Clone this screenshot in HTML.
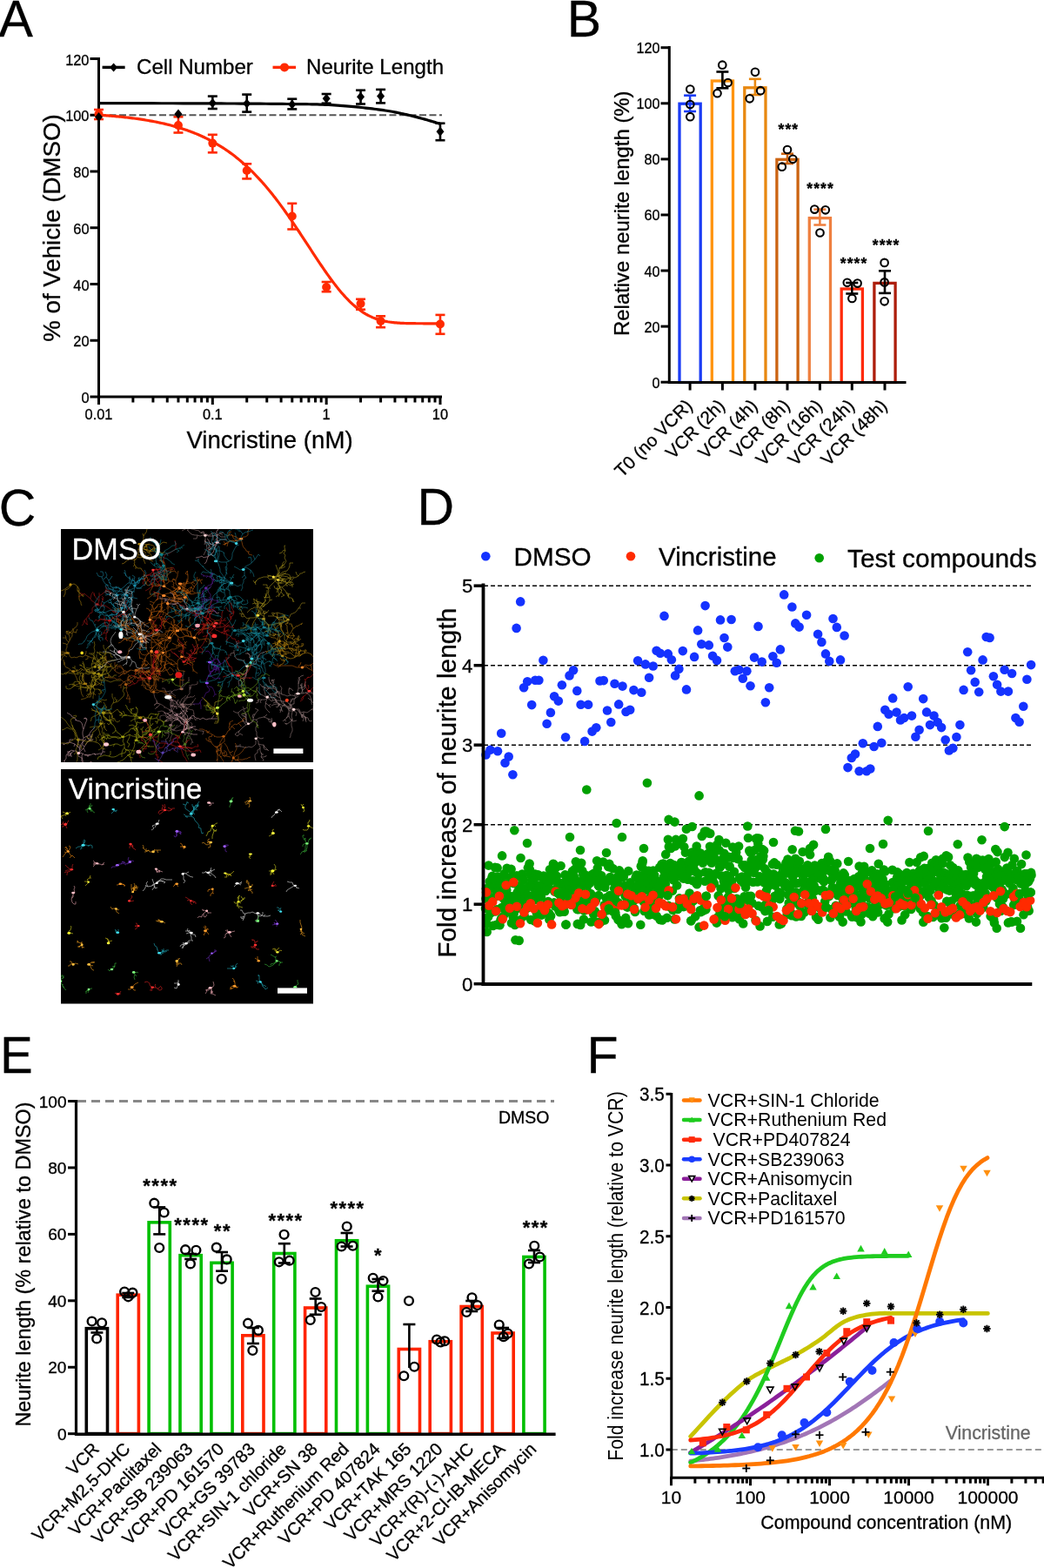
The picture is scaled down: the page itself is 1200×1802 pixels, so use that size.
<!DOCTYPE html>
<html><head><meta charset="utf-8"><title>Figure</title>
<style>html,body{margin:0;padding:0;background:#fff;} svg{display:block;}</style></head>
<body><svg width="1200" height="1802" viewBox="0 0 1200 1802" font-family="'Liberation Sans', sans-serif">
<rect width="1200" height="1802" fill="#fff"/>
<g id="A">
<text x="-1.50" y="41.70" font-size="59" text-anchor="start" fill="#000" stroke="#000" stroke-width="0.3" >A</text>
<line x1="114.00" y1="132.25" x2="508.00" y2="132.25" stroke="#555" stroke-width="2" stroke-dasharray="8,3.5"/>
<line x1="113.50" y1="66.00" x2="113.50" y2="457.50" stroke="#000" stroke-width="3" />
<line x1="112.00" y1="456.00" x2="508.00" y2="456.00" stroke="#000" stroke-width="3" />
<line x1="103.50" y1="456.00" x2="113.50" y2="456.00" stroke="#000" stroke-width="3" />
<text x="102.50" y="463.20" font-size="16.4" text-anchor="end" fill="#000" stroke="#000" stroke-width="0.3" >0</text>
<line x1="103.50" y1="391.25" x2="113.50" y2="391.25" stroke="#000" stroke-width="3" />
<text x="102.50" y="398.45" font-size="16.4" text-anchor="end" fill="#000" stroke="#000" stroke-width="0.3" >20</text>
<line x1="103.50" y1="326.50" x2="113.50" y2="326.50" stroke="#000" stroke-width="3" />
<text x="102.50" y="333.70" font-size="16.4" text-anchor="end" fill="#000" stroke="#000" stroke-width="0.3" >40</text>
<line x1="103.50" y1="261.75" x2="113.50" y2="261.75" stroke="#000" stroke-width="3" />
<text x="102.50" y="268.95" font-size="16.4" text-anchor="end" fill="#000" stroke="#000" stroke-width="0.3" >60</text>
<line x1="103.50" y1="197.00" x2="113.50" y2="197.00" stroke="#000" stroke-width="3" />
<text x="102.50" y="204.20" font-size="16.4" text-anchor="end" fill="#000" stroke="#000" stroke-width="0.3" >80</text>
<line x1="103.50" y1="132.25" x2="113.50" y2="132.25" stroke="#000" stroke-width="3" />
<text x="102.50" y="139.45" font-size="16.4" text-anchor="end" fill="#000" stroke="#000" stroke-width="0.3" >100</text>
<line x1="103.50" y1="67.50" x2="113.50" y2="67.50" stroke="#000" stroke-width="3" />
<text x="102.50" y="74.70" font-size="16.4" text-anchor="end" fill="#000" stroke="#000" stroke-width="0.3" >120</text>
<line x1="152.88" y1="456.00" x2="152.88" y2="462.50" stroke="#000" stroke-width="3" />
<line x1="175.92" y1="456.00" x2="175.92" y2="462.50" stroke="#000" stroke-width="3" />
<line x1="192.27" y1="456.00" x2="192.27" y2="462.50" stroke="#000" stroke-width="3" />
<line x1="204.95" y1="456.00" x2="204.95" y2="462.50" stroke="#000" stroke-width="3" />
<line x1="215.31" y1="456.00" x2="215.31" y2="462.50" stroke="#000" stroke-width="3" />
<line x1="224.06" y1="456.00" x2="224.06" y2="462.50" stroke="#000" stroke-width="3" />
<line x1="231.65" y1="456.00" x2="231.65" y2="462.50" stroke="#000" stroke-width="3" />
<line x1="238.34" y1="456.00" x2="238.34" y2="462.50" stroke="#000" stroke-width="3" />
<line x1="283.71" y1="456.00" x2="283.71" y2="462.50" stroke="#000" stroke-width="3" />
<line x1="306.75" y1="456.00" x2="306.75" y2="462.50" stroke="#000" stroke-width="3" />
<line x1="323.10" y1="456.00" x2="323.10" y2="462.50" stroke="#000" stroke-width="3" />
<line x1="335.78" y1="456.00" x2="335.78" y2="462.50" stroke="#000" stroke-width="3" />
<line x1="346.14" y1="456.00" x2="346.14" y2="462.50" stroke="#000" stroke-width="3" />
<line x1="354.89" y1="456.00" x2="354.89" y2="462.50" stroke="#000" stroke-width="3" />
<line x1="362.48" y1="456.00" x2="362.48" y2="462.50" stroke="#000" stroke-width="3" />
<line x1="369.17" y1="456.00" x2="369.17" y2="462.50" stroke="#000" stroke-width="3" />
<line x1="414.54" y1="456.00" x2="414.54" y2="462.50" stroke="#000" stroke-width="3" />
<line x1="437.58" y1="456.00" x2="437.58" y2="462.50" stroke="#000" stroke-width="3" />
<line x1="453.93" y1="456.00" x2="453.93" y2="462.50" stroke="#000" stroke-width="3" />
<line x1="466.61" y1="456.00" x2="466.61" y2="462.50" stroke="#000" stroke-width="3" />
<line x1="476.97" y1="456.00" x2="476.97" y2="462.50" stroke="#000" stroke-width="3" />
<line x1="485.72" y1="456.00" x2="485.72" y2="462.50" stroke="#000" stroke-width="3" />
<line x1="493.31" y1="456.00" x2="493.31" y2="462.50" stroke="#000" stroke-width="3" />
<line x1="500.00" y1="456.00" x2="500.00" y2="462.50" stroke="#000" stroke-width="3" />
<line x1="113.50" y1="456.00" x2="113.50" y2="465.00" stroke="#000" stroke-width="3" />
<text x="113.50" y="482.00" font-size="16.4" text-anchor="middle" fill="#000" stroke="#000" stroke-width="0.3" >0.01</text>
<line x1="244.33" y1="456.00" x2="244.33" y2="465.00" stroke="#000" stroke-width="3" />
<text x="244.33" y="482.00" font-size="16.4" text-anchor="middle" fill="#000" stroke="#000" stroke-width="0.3" >0.1</text>
<line x1="375.16" y1="456.00" x2="375.16" y2="465.00" stroke="#000" stroke-width="3" />
<text x="375.16" y="482.00" font-size="16.4" text-anchor="middle" fill="#000" stroke="#000" stroke-width="0.3" >1</text>
<line x1="505.99" y1="456.00" x2="505.99" y2="465.00" stroke="#000" stroke-width="3" />
<text x="505.99" y="482.00" font-size="16.4" text-anchor="middle" fill="#000" stroke="#000" stroke-width="0.3" >10</text>
<text x="310.00" y="515.00" font-size="27.6" text-anchor="middle" fill="#000" stroke="#000" stroke-width="0.3" >Vincristine (nM)</text>
<text x="69.00" y="262.00" font-size="27.7" text-anchor="middle" fill="#000" stroke="#000" stroke-width="0.3" transform="rotate(-90 69.00 262.00)">% of Vehicle (DMSO)</text>
<path d="M113.50,118.60 L119.92,118.61 L128.15,118.63 L137.88,118.65 L148.81,118.67 L160.65,118.69 L173.09,118.71 L185.83,118.74 L198.57,118.77 L211.01,118.80 L222.85,118.83 L233.78,118.86 L243.50,118.90 L252.37,118.94 L260.92,118.98 L269.17,119.02 L277.12,119.07 L284.76,119.12 L292.11,119.17 L299.15,119.22 L305.90,119.27 L312.36,119.33 L318.53,119.38 L324.41,119.44 L330.00,119.50 L335.19,119.55 L339.90,119.60 L344.19,119.64 L348.13,119.67 L351.77,119.71 L355.18,119.76 L358.43,119.81 L361.56,119.87 L364.66,119.95 L367.77,120.04 L370.96,120.16 L374.30,120.30 L377.72,120.47 L381.11,120.65 L384.47,120.86 L387.79,121.09 L391.06,121.33 L394.29,121.58 L397.46,121.84 L400.57,122.11 L403.62,122.38 L406.59,122.66 L409.49,122.93 L412.30,123.20 L415.04,123.47 L417.71,123.75 L420.32,124.04 L422.86,124.33 L425.33,124.62 L427.74,124.92 L430.08,125.22 L432.36,125.52 L434.57,125.82 L436.71,126.12 L438.79,126.41 L440.80,126.70 L442.71,126.98 L444.48,127.25 L446.14,127.51 L447.72,127.77 L449.23,128.03 L450.69,128.29 L452.14,128.55 L453.58,128.83 L455.05,129.12 L456.56,129.42 L458.13,129.75 L459.80,130.10 L461.53,130.47 L463.30,130.86 L465.09,131.26 L466.91,131.67 L468.75,132.10 L470.61,132.54 L472.48,132.99 L474.37,133.45 L476.27,133.92 L478.18,134.41 L480.09,134.90 L482.00,135.40 L484.00,135.94 L486.14,136.53 L488.38,137.15 L490.67,137.81 L492.97,138.47 L495.24,139.13 L497.43,139.77 L499.50,140.38 L501.41,140.94 L503.10,141.44 L504.55,141.87 L505.70,142.20" stroke="#000" stroke-width="3.2" fill="none"  stroke-linejoin="round" stroke-linecap="round"/>
<path d="M110.88,131.97 L112.54,132.08 L114.20,132.19 L115.85,132.30 L117.51,132.42 L119.17,132.54 L120.83,132.66 L122.48,132.79 L124.14,132.92 L125.80,133.06 L127.46,133.20 L129.11,133.34 L130.77,133.48 L132.43,133.63 L134.08,133.79 L135.74,133.95 L137.40,134.11 L139.06,134.28 L140.71,134.45 L142.37,134.63 L144.03,134.81 L145.68,135.00 L147.34,135.19 L149.00,135.39 L150.66,135.59 L152.31,135.80 L153.97,136.01 L155.63,136.24 L157.28,136.46 L158.94,136.70 L160.60,136.94 L162.26,137.18 L163.91,137.44 L165.57,137.70 L167.23,137.96 L168.88,138.24 L170.54,138.52 L172.20,138.81 L173.86,139.11 L175.51,139.41 L177.17,139.73 L178.83,140.05 L180.48,140.38 L182.14,140.73 L183.80,141.08 L185.46,141.44 L187.11,141.81 L188.77,142.18 L190.43,142.57 L192.09,142.98 L193.74,143.39 L195.40,143.81 L197.06,144.24 L198.71,144.69 L200.37,145.14 L202.03,145.61 L203.69,146.10 L205.34,146.59 L207.00,147.10 L208.66,147.62 L210.31,148.15 L211.97,148.70 L213.63,149.26 L215.29,149.84 L216.94,150.44 L218.60,151.04 L220.26,151.67 L221.91,152.31 L223.57,152.96 L225.23,153.64 L226.89,154.33 L228.54,155.04 L230.20,155.76 L231.86,156.51 L233.51,157.27 L235.17,158.05 L236.83,158.85 L238.49,159.67 L240.14,160.52 L241.80,161.38 L243.46,162.26 L245.11,163.17 L246.77,164.09 L248.43,165.04 L250.09,166.02 L251.74,167.01 L253.40,168.03 L255.06,169.07 L256.72,170.14 L258.37,171.23 L260.03,172.35 L261.69,173.49 L263.34,174.66 L265.00,175.86 L266.66,177.08 L268.32,178.33 L269.97,179.61 L271.63,180.91 L273.29,182.25 L274.94,183.61 L276.60,185.00 L278.26,186.42 L279.92,187.87 L281.57,189.35 L283.23,190.86 L284.89,192.40 L286.54,193.97 L288.20,195.57 L289.86,197.20 L291.52,198.86 L293.17,200.56 L294.83,202.28 L296.49,204.04 L298.14,205.83 L299.80,207.65 L301.46,209.50 L303.12,211.38 L304.77,213.30 L306.43,215.24 L308.09,217.22 L309.75,219.23 L311.40,221.27 L313.06,223.33 L314.72,225.43 L316.37,227.56 L318.03,229.72 L319.69,231.90 L321.35,234.11 L323.00,236.35 L324.66,238.62 L326.32,240.91 L327.97,243.22 L329.63,245.56 L331.29,247.93 L332.95,250.31 L334.60,252.71 L336.26,255.14 L337.92,257.58 L339.57,260.04 L341.23,262.52 L342.89,265.00 L344.55,267.50 L346.20,270.02 L347.86,272.54 L349.52,275.07 L351.17,277.60 L352.83,280.14 L354.49,282.67 L356.15,285.21 L357.80,287.75 L359.46,290.28 L361.12,292.80 L362.77,295.32 L364.43,297.82 L366.09,300.31 L367.75,302.79 L369.40,305.24 L371.06,307.68 L372.72,310.09 L374.38,312.48 L376.03,314.84 L377.69,317.17 L379.35,319.46 L381.00,321.73 L382.66,323.95 L384.32,326.14 L385.98,328.28 L387.63,330.38 L389.29,332.44 L390.95,334.45 L392.60,336.41 L394.26,338.31 L395.92,340.17 L397.58,341.97 L399.23,343.72 L400.89,345.41 L402.55,347.04 L404.20,348.61 L405.86,350.13 L407.52,351.58 L409.18,352.98 L410.83,354.31 L412.49,355.58 L414.15,356.80 L415.80,357.95 L417.46,359.05 L419.12,360.08 L420.78,361.06 L422.43,361.98 L424.09,362.85 L425.75,363.66 L427.40,364.41 L429.06,365.12 L430.72,365.77 L432.38,366.38 L434.03,366.94 L435.69,367.46 L437.35,367.93 L439.01,368.36 L440.66,368.76 L442.32,369.12 L443.98,369.44 L445.63,369.74 L447.29,370.00 L448.95,370.23 L450.61,370.45 L452.26,370.63 L453.92,370.80 L455.58,370.94 L457.23,371.07 L458.89,371.18 L460.55,371.28 L462.21,371.36 L463.86,371.43 L465.52,371.49 L467.18,371.55 L468.83,371.59 L470.49,371.63 L472.15,371.66 L473.81,371.68 L475.46,371.71 L477.12,371.72 L478.78,371.74 L480.43,371.75 L482.09,371.76 L483.75,371.77 L485.41,371.77 L487.06,371.78 L488.72,371.78 L490.38,371.78 L492.03,371.79 L493.69,371.79 L495.35,371.79 L497.01,371.79 L498.66,371.79 L500.32,371.79 L501.98,371.79 L503.64,371.79 L505.29,371.79 L506.95,371.79 L508.61,371.79" stroke="#ff2a00" stroke-width="3.2" fill="none"  stroke-linejoin="round" stroke-linecap="round"/>
<line x1="113.50" y1="126.00" x2="113.50" y2="137.00" stroke="#ff2a00" stroke-width="2.6" />
<line x1="108.00" y1="126.00" x2="119.00" y2="126.00" stroke="#ff2a00" stroke-width="2.6" />
<line x1="108.00" y1="137.00" x2="119.00" y2="137.00" stroke="#ff2a00" stroke-width="2.6" />
<circle cx="113.50" cy="131.00" r="5" fill="#ff2a00" stroke="none" stroke-width="0"/>
<line x1="204.95" y1="134.30" x2="204.95" y2="152.50" stroke="#ff2a00" stroke-width="2.6" />
<line x1="199.45" y1="134.30" x2="210.45" y2="134.30" stroke="#ff2a00" stroke-width="2.6" />
<line x1="199.45" y1="152.50" x2="210.45" y2="152.50" stroke="#ff2a00" stroke-width="2.6" />
<circle cx="204.95" cy="144.00" r="5" fill="#ff2a00" stroke="none" stroke-width="0"/>
<line x1="244.33" y1="154.80" x2="244.33" y2="175.30" stroke="#ff2a00" stroke-width="2.6" />
<line x1="238.83" y1="154.80" x2="249.83" y2="154.80" stroke="#ff2a00" stroke-width="2.6" />
<line x1="238.83" y1="175.30" x2="249.83" y2="175.30" stroke="#ff2a00" stroke-width="2.6" />
<circle cx="244.33" cy="164.60" r="5" fill="#ff2a00" stroke="none" stroke-width="0"/>
<line x1="283.71" y1="188.30" x2="283.71" y2="205.40" stroke="#ff2a00" stroke-width="2.6" />
<line x1="278.21" y1="188.30" x2="289.21" y2="188.30" stroke="#ff2a00" stroke-width="2.6" />
<line x1="278.21" y1="205.40" x2="289.21" y2="205.40" stroke="#ff2a00" stroke-width="2.6" />
<circle cx="283.71" cy="196.00" r="5" fill="#ff2a00" stroke="none" stroke-width="0"/>
<line x1="335.78" y1="233.80" x2="335.78" y2="263.50" stroke="#ff2a00" stroke-width="2.6" />
<line x1="330.28" y1="233.80" x2="341.28" y2="233.80" stroke="#ff2a00" stroke-width="2.6" />
<line x1="330.28" y1="263.50" x2="341.28" y2="263.50" stroke="#ff2a00" stroke-width="2.6" />
<circle cx="335.78" cy="248.50" r="5" fill="#ff2a00" stroke="none" stroke-width="0"/>
<line x1="375.16" y1="324.00" x2="375.16" y2="335.20" stroke="#ff2a00" stroke-width="2.6" />
<line x1="369.66" y1="324.00" x2="380.66" y2="324.00" stroke="#ff2a00" stroke-width="2.6" />
<line x1="369.66" y1="335.20" x2="380.66" y2="335.20" stroke="#ff2a00" stroke-width="2.6" />
<circle cx="375.16" cy="330.00" r="5" fill="#ff2a00" stroke="none" stroke-width="0"/>
<line x1="414.54" y1="343.80" x2="414.54" y2="355.70" stroke="#ff2a00" stroke-width="2.6" />
<line x1="409.04" y1="343.80" x2="420.04" y2="343.80" stroke="#ff2a00" stroke-width="2.6" />
<line x1="409.04" y1="355.70" x2="420.04" y2="355.70" stroke="#ff2a00" stroke-width="2.6" />
<circle cx="414.54" cy="349.00" r="5" fill="#ff2a00" stroke="none" stroke-width="0"/>
<line x1="437.58" y1="363.30" x2="437.58" y2="376.20" stroke="#ff2a00" stroke-width="2.6" />
<line x1="432.08" y1="363.30" x2="443.08" y2="363.30" stroke="#ff2a00" stroke-width="2.6" />
<line x1="432.08" y1="376.20" x2="443.08" y2="376.20" stroke="#ff2a00" stroke-width="2.6" />
<circle cx="437.58" cy="369.00" r="5" fill="#ff2a00" stroke="none" stroke-width="0"/>
<line x1="505.99" y1="361.90" x2="505.99" y2="383.80" stroke="#ff2a00" stroke-width="2.6" />
<line x1="500.49" y1="361.90" x2="511.49" y2="361.90" stroke="#ff2a00" stroke-width="2.6" />
<line x1="500.49" y1="383.80" x2="511.49" y2="383.80" stroke="#ff2a00" stroke-width="2.6" />
<circle cx="505.99" cy="372.50" r="5" fill="#ff2a00" stroke="none" stroke-width="0"/>
<path d="M113.50,129.10 L118.00,134.60 L113.50,140.10 L109.00,134.60 Z" fill="#000"/>
<path d="M204.95,125.50 L209.45,131.00 L204.95,136.50 L200.45,131.00 Z" fill="#000"/>
<line x1="244.33" y1="110.60" x2="244.33" y2="125.00" stroke="#000" stroke-width="2.6" />
<line x1="238.83" y1="110.60" x2="249.83" y2="110.60" stroke="#000" stroke-width="2.6" />
<line x1="238.83" y1="125.00" x2="249.83" y2="125.00" stroke="#000" stroke-width="2.6" />
<path d="M244.33,113.10 L248.83,118.60 L244.33,124.10 L239.83,118.60 Z" fill="#000"/>
<line x1="283.71" y1="108.60" x2="283.71" y2="128.60" stroke="#000" stroke-width="2.6" />
<line x1="278.21" y1="108.60" x2="289.21" y2="108.60" stroke="#000" stroke-width="2.6" />
<line x1="278.21" y1="128.60" x2="289.21" y2="128.60" stroke="#000" stroke-width="2.6" />
<path d="M283.71,113.50 L288.21,119.00 L283.71,124.50 L279.21,119.00 Z" fill="#000"/>
<line x1="335.78" y1="113.70" x2="335.78" y2="125.40" stroke="#000" stroke-width="2.6" />
<line x1="330.28" y1="113.70" x2="341.28" y2="113.70" stroke="#000" stroke-width="2.6" />
<line x1="330.28" y1="125.40" x2="341.28" y2="125.40" stroke="#000" stroke-width="2.6" />
<path d="M335.78,114.50 L340.28,120.00 L335.78,125.50 L331.28,120.00 Z" fill="#000"/>
<line x1="375.16" y1="108.00" x2="375.16" y2="118.70" stroke="#000" stroke-width="2.6" />
<line x1="369.66" y1="108.00" x2="380.66" y2="108.00" stroke="#000" stroke-width="2.6" />
<line x1="369.66" y1="118.70" x2="380.66" y2="118.70" stroke="#000" stroke-width="2.6" />
<path d="M375.16,107.70 L379.66,113.20 L375.16,118.70 L370.66,113.20 Z" fill="#000"/>
<line x1="414.54" y1="103.70" x2="414.54" y2="119.50" stroke="#000" stroke-width="2.6" />
<line x1="409.04" y1="103.70" x2="420.04" y2="103.70" stroke="#000" stroke-width="2.6" />
<line x1="409.04" y1="119.50" x2="420.04" y2="119.50" stroke="#000" stroke-width="2.6" />
<path d="M414.54,105.80 L419.04,111.30 L414.54,116.80 L410.04,111.30 Z" fill="#000"/>
<line x1="437.58" y1="102.90" x2="437.58" y2="118.40" stroke="#000" stroke-width="2.6" />
<line x1="432.08" y1="102.90" x2="443.08" y2="102.90" stroke="#000" stroke-width="2.6" />
<line x1="432.08" y1="118.40" x2="443.08" y2="118.40" stroke="#000" stroke-width="2.6" />
<path d="M437.58,105.00 L442.08,110.50 L437.58,116.00 L433.08,110.50 Z" fill="#000"/>
<line x1="505.99" y1="141.70" x2="505.99" y2="161.20" stroke="#000" stroke-width="2.6" />
<line x1="500.49" y1="141.70" x2="511.49" y2="141.70" stroke="#000" stroke-width="2.6" />
<line x1="500.49" y1="161.20" x2="511.49" y2="161.20" stroke="#000" stroke-width="2.6" />
<path d="M505.99,145.70 L510.49,151.20 L505.99,156.70 L501.49,151.20 Z" fill="#000"/>
<line x1="117.60" y1="77.40" x2="143.60" y2="77.40" stroke="#000" stroke-width="3.4" />
<path d="M130.6,72.4 L135,77.4 L130.6,82.4 L126.2,77.4 Z" fill="#000"/>
<text x="157.00" y="85.40" font-size="24.1" text-anchor="start" fill="#000" stroke="#000" stroke-width="0.3" >Cell Number</text>
<line x1="313.50" y1="77.40" x2="340.00" y2="77.40" stroke="#ff2a00" stroke-width="3.4" />
<circle cx="327.00" cy="77.40" r="5" fill="#ff2a00" stroke="none" stroke-width="0"/>
<text x="352.00" y="85.40" font-size="24.1" text-anchor="start" fill="#000" stroke="#000" stroke-width="0.3" >Neurite Length</text>
</g>
<g id="B">
<text x="651.70" y="41.70" font-size="59" text-anchor="start" fill="#000" stroke="#000" stroke-width="0.3" >B</text>
<text x="723.50" y="245.20" font-size="23.9" text-anchor="middle" fill="#000" stroke="#000" stroke-width="0.3" transform="rotate(-90 723.50 245.20)">Relative neurite length (%)</text>
<rect x="781.00" y="119.20" width="24.2" height="320.30" fill="none" stroke="#1b3cf5" stroke-width="3.3"/>
<rect x="818.30" y="93.00" width="24.2" height="346.50" fill="none" stroke="#ff9410" stroke-width="3.3"/>
<rect x="855.80" y="100.80" width="24.2" height="338.70" fill="none" stroke="#e88810" stroke-width="3.3"/>
<rect x="892.90" y="183.30" width="24.2" height="256.20" fill="none" stroke="#cc6412" stroke-width="3.3"/>
<rect x="930.30" y="250.60" width="24.2" height="188.90" fill="none" stroke="#ef8040" stroke-width="3.3"/>
<rect x="967.20" y="332.00" width="24.2" height="107.50" fill="none" stroke="#ff2a0a" stroke-width="3.3"/>
<rect x="1004.90" y="325.40" width="24.2" height="114.10" fill="none" stroke="#ad1e0c" stroke-width="3.3"/>
<line x1="769.30" y1="53.00" x2="769.30" y2="441.00" stroke="#000" stroke-width="3" />
<line x1="767.80" y1="439.50" x2="1041.50" y2="439.50" stroke="#000" stroke-width="3" />
<line x1="759.50" y1="439.20" x2="769.30" y2="439.20" stroke="#000" stroke-width="3" />
<text x="758.50" y="445.70" font-size="16.2" text-anchor="end" fill="#000" stroke="#000" stroke-width="0.3" >0</text>
<line x1="759.50" y1="375.12" x2="769.30" y2="375.12" stroke="#000" stroke-width="3" />
<text x="758.50" y="381.62" font-size="16.2" text-anchor="end" fill="#000" stroke="#000" stroke-width="0.3" >20</text>
<line x1="759.50" y1="311.04" x2="769.30" y2="311.04" stroke="#000" stroke-width="3" />
<text x="758.50" y="317.54" font-size="16.2" text-anchor="end" fill="#000" stroke="#000" stroke-width="0.3" >40</text>
<line x1="759.50" y1="246.96" x2="769.30" y2="246.96" stroke="#000" stroke-width="3" />
<text x="758.50" y="253.46" font-size="16.2" text-anchor="end" fill="#000" stroke="#000" stroke-width="0.3" >60</text>
<line x1="759.50" y1="182.88" x2="769.30" y2="182.88" stroke="#000" stroke-width="3" />
<text x="758.50" y="189.38" font-size="16.2" text-anchor="end" fill="#000" stroke="#000" stroke-width="0.3" >80</text>
<line x1="759.50" y1="118.80" x2="769.30" y2="118.80" stroke="#000" stroke-width="3" />
<text x="758.50" y="125.30" font-size="16.2" text-anchor="end" fill="#000" stroke="#000" stroke-width="0.3" >100</text>
<line x1="759.50" y1="54.72" x2="769.30" y2="54.72" stroke="#000" stroke-width="3" />
<text x="758.50" y="61.22" font-size="16.2" text-anchor="end" fill="#000" stroke="#000" stroke-width="0.3" >120</text>
<line x1="793.10" y1="439.50" x2="793.10" y2="448.50" stroke="#000" stroke-width="3" />
<line x1="830.40" y1="439.50" x2="830.40" y2="448.50" stroke="#000" stroke-width="3" />
<line x1="867.90" y1="439.50" x2="867.90" y2="448.50" stroke="#000" stroke-width="3" />
<line x1="905.00" y1="439.50" x2="905.00" y2="448.50" stroke="#000" stroke-width="3" />
<line x1="942.40" y1="439.50" x2="942.40" y2="448.50" stroke="#000" stroke-width="3" />
<line x1="979.30" y1="439.50" x2="979.30" y2="448.50" stroke="#000" stroke-width="3" />
<line x1="1017.00" y1="439.50" x2="1017.00" y2="448.50" stroke="#000" stroke-width="3" />
<line x1="793.10" y1="109.70" x2="793.10" y2="128.00" stroke="#1b3cf5" stroke-width="2.6" />
<line x1="786.10" y1="109.70" x2="800.10" y2="109.70" stroke="#1b3cf5" stroke-width="2.6" />
<line x1="786.10" y1="128.00" x2="800.10" y2="128.00" stroke="#1b3cf5" stroke-width="2.6" />
<circle cx="793.30" cy="102.50" r="4.3" fill="none" stroke="#000" stroke-width="2.1"/>
<circle cx="793.30" cy="120.00" r="4.3" fill="none" stroke="#000" stroke-width="2.1"/>
<circle cx="793.30" cy="134.20" r="4.3" fill="none" stroke="#000" stroke-width="2.1"/>
<line x1="830.40" y1="82.50" x2="830.40" y2="101.30" stroke="#000" stroke-width="2.6" />
<line x1="823.40" y1="82.50" x2="837.40" y2="82.50" stroke="#000" stroke-width="2.6" />
<line x1="823.40" y1="101.30" x2="837.40" y2="101.30" stroke="#000" stroke-width="2.6" />
<circle cx="830.30" cy="74.70" r="4.3" fill="none" stroke="#000" stroke-width="2.1"/>
<circle cx="836.70" cy="95.00" r="4.3" fill="none" stroke="#000" stroke-width="2.1"/>
<circle cx="824.50" cy="107.20" r="4.3" fill="none" stroke="#000" stroke-width="2.1"/>
<line x1="867.90" y1="90.80" x2="867.90" y2="109.00" stroke="#e88810" stroke-width="2.6" />
<line x1="860.90" y1="90.80" x2="874.90" y2="90.80" stroke="#e88810" stroke-width="2.6" />
<line x1="860.90" y1="109.00" x2="874.90" y2="109.00" stroke="#e88810" stroke-width="2.6" />
<circle cx="868.00" cy="82.80" r="4.3" fill="none" stroke="#000" stroke-width="2.1"/>
<circle cx="874.20" cy="104.20" r="4.3" fill="none" stroke="#000" stroke-width="2.1"/>
<circle cx="861.70" cy="113.30" r="4.3" fill="none" stroke="#000" stroke-width="2.1"/>
<line x1="905.00" y1="176.70" x2="905.00" y2="188.00" stroke="#cc6412" stroke-width="2.6" />
<line x1="898.00" y1="176.70" x2="912.00" y2="176.70" stroke="#cc6412" stroke-width="2.6" />
<line x1="898.00" y1="188.00" x2="912.00" y2="188.00" stroke="#cc6412" stroke-width="2.6" />
<circle cx="905.00" cy="172.00" r="4.3" fill="none" stroke="#000" stroke-width="2.1"/>
<circle cx="911.30" cy="182.80" r="4.3" fill="none" stroke="#000" stroke-width="2.1"/>
<circle cx="898.80" cy="191.70" r="4.3" fill="none" stroke="#000" stroke-width="2.1"/>
<text x="906.40" y="155.00" font-size="17.5" text-anchor="middle" fill="#000" stroke="#000" stroke-width="0.3" font-weight="bold" letter-spacing="1.1">***</text>
<line x1="942.40" y1="240.60" x2="942.40" y2="258.50" stroke="#ef8040" stroke-width="2.6" />
<line x1="935.40" y1="240.60" x2="949.40" y2="240.60" stroke="#ef8040" stroke-width="2.6" />
<line x1="935.40" y1="258.50" x2="949.40" y2="258.50" stroke="#ef8040" stroke-width="2.6" />
<circle cx="936.30" cy="240.60" r="4.3" fill="none" stroke="#000" stroke-width="2.1"/>
<circle cx="948.80" cy="241.30" r="4.3" fill="none" stroke="#000" stroke-width="2.1"/>
<circle cx="942.50" cy="267.50" r="4.3" fill="none" stroke="#000" stroke-width="2.1"/>
<text x="943.10" y="223.30" font-size="17.5" text-anchor="middle" fill="#000" stroke="#000" stroke-width="0.3" font-weight="bold" letter-spacing="1.1">****</text>
<line x1="979.30" y1="325.00" x2="979.30" y2="337.50" stroke="#000" stroke-width="2.6" />
<line x1="972.30" y1="325.00" x2="986.30" y2="325.00" stroke="#000" stroke-width="2.6" />
<line x1="972.30" y1="337.50" x2="986.30" y2="337.50" stroke="#000" stroke-width="2.6" />
<circle cx="973.80" cy="324.80" r="4.3" fill="none" stroke="#000" stroke-width="2.1"/>
<circle cx="985.60" cy="325.60" r="4.3" fill="none" stroke="#000" stroke-width="2.1"/>
<circle cx="979.40" cy="343.00" r="4.3" fill="none" stroke="#000" stroke-width="2.1"/>
<text x="981.60" y="308.90" font-size="17.5" text-anchor="middle" fill="#000" stroke="#000" stroke-width="0.3" font-weight="bold" letter-spacing="1.1">****</text>
<line x1="1017.00" y1="311.30" x2="1017.00" y2="336.90" stroke="#000" stroke-width="2.6" />
<line x1="1010.00" y1="311.30" x2="1024.00" y2="311.30" stroke="#000" stroke-width="2.6" />
<line x1="1010.00" y1="336.90" x2="1024.00" y2="336.90" stroke="#000" stroke-width="2.6" />
<circle cx="1016.60" cy="301.90" r="4.3" fill="none" stroke="#000" stroke-width="2.1"/>
<circle cx="1016.60" cy="324.40" r="4.3" fill="none" stroke="#000" stroke-width="2.1"/>
<circle cx="1016.60" cy="346.30" r="4.3" fill="none" stroke="#000" stroke-width="2.1"/>
<text x="1018.60" y="288.30" font-size="17.5" text-anchor="middle" fill="#000" stroke="#000" stroke-width="0.3" font-weight="bold" letter-spacing="1.1">****</text>
<text x="797.10" y="467.50" font-size="20.7" text-anchor="end" fill="#000" stroke="#000" stroke-width="0.3" transform="rotate(-45 797.10 467.50)">T0 (no VCR)</text>
<text x="834.40" y="467.50" font-size="20.7" text-anchor="end" fill="#000" stroke="#000" stroke-width="0.3" transform="rotate(-45 834.40 467.50)">VCR (2h)</text>
<text x="871.90" y="467.50" font-size="20.7" text-anchor="end" fill="#000" stroke="#000" stroke-width="0.3" transform="rotate(-45 871.90 467.50)">VCR (4h)</text>
<text x="909.00" y="467.50" font-size="20.7" text-anchor="end" fill="#000" stroke="#000" stroke-width="0.3" transform="rotate(-45 909.00 467.50)">VCR (8h)</text>
<text x="946.40" y="467.50" font-size="20.7" text-anchor="end" fill="#000" stroke="#000" stroke-width="0.3" transform="rotate(-45 946.40 467.50)">VCR (16h)</text>
<text x="983.30" y="467.50" font-size="20.7" text-anchor="end" fill="#000" stroke="#000" stroke-width="0.3" transform="rotate(-45 983.30 467.50)">VCR (24h)</text>
<text x="1021.00" y="467.50" font-size="20.7" text-anchor="end" fill="#000" stroke="#000" stroke-width="0.3" transform="rotate(-45 1021.00 467.50)">VCR (48h)</text>
</g>
<g id="C">
<text x="-1.20" y="603.60" font-size="59" text-anchor="start" fill="#000" stroke="#000" stroke-width="0.3" >C</text>
<rect x="70" y="608" width="290" height="268" fill="#000"/>
<rect x="70" y="884" width="290" height="269.5" fill="#000"/>
<clipPath id="c1"><rect x="70" y="608" width="290" height="268"/></clipPath>
<clipPath id="c2"><rect x="70" y="884" width="290" height="269.5"/></clipPath>
<g clip-path="url(#c1)">
<path d="M250 859l-3-1M253 855l-3 4 1 4M254 862l-3 1-3 1M258 866l0-4M255 865l3 1M256 868l3 2M260 864l-1-1M261 868l-1-4M258 868l3 0M257 846l-2 4-2 3 0 2 0 3 1 4 1 3 1 3 2 0 2 1 5 1M264 830l4-2M264 833l0-3M264 839l-1-3 1-3 0-2M266 835l2 1 2 2M274 831l3 3 0 1M278 829l3-1M280 825l3 2M257 846l2-1 1-1 1-2 1-2 2-1 2-4 0 0 4-3 2 1 2-2 4-2 2-3 0-1M247 846l-1 1M244 844l-1 3M240 842l-2-2-1-1M238 842l3-2M257 846l-4 1-4 0-2-1-3-2-4-2-2 0-1-2-4-2-4 0M254 860l-4 2M253 867l-1 1M254 863l-1 4M254 855l1 2-1 3 0 3M243 853l-2-4M240 847l3-1M240 852l0-5M237 850l0-2M250 858l-3 0-3-3-1-2-3-1-3-2M249 874l2 3M250 872l-1 2M249 862l1 3 0 4 0 3 0 2M253 869l2 1M257 846l1 3 0 3-1 1-3 2-1 1-3 2-1 1 0 3 0 3 2 3 2 1 2 3 2 3-1 3" stroke="#b85c10" stroke-width="0.55" fill="none"/>
<ellipse cx="257.0" cy="846.2" rx="1.7" ry="1.2" fill="#b85c10"/>
<path d="M213 659l3-3M216 661l-3-2M206 676l2-4 2-2 4 0 2-4 0-4 0-1-1-5M202 667l-3-1M204 660l1-4M204 662l0-2M206 676l-2-3-2-2 0-2 0-2 0-1 1-2 1-2M205 678l-3-2-3 0M199 682l1 3 1 3M200 692l-1-3M202 692l-2 0M206 676l-1 2-3 3-3 1 1 4 1 2 1 2 0 2 0 3 2 1M206 676l3 2 1 0 3 3 4 1 3 0" stroke="#c0600c" stroke-width="0.55" fill="none"/>
<ellipse cx="206.3" cy="676.1" rx="1.7" ry="1.7" fill="#ff8a30"/>
<path d="M236 622l-1 4M236 620l0 2 3 2 1 3M241 627l1 4M239 631l3 1M240 628l-1 3M235 622l3 2 3 3-1 1M236 615l0 5-1 2 2 1 0 2 1 5-2 4-2 4M222 608l-2 0M216 606l0 4M236 615l-3-2-3-1-1-2-5-1-2-1-2-2-4 0-3 2-4 2M226 619l-4 0M227 615l-1 4M236 615l-2 0-4 1-3-1-3 0-4-1-3-3-2-2M243 613l2 3 0 2 0 3M253 613l3 2M249 615l4-2 4-1M236 615l2 0 3 0 2-2 3-1 3 3 3 0 2 2 5 0" stroke="#a08484" stroke-width="0.55" fill="none"/>
<ellipse cx="235.9" cy="615.4" rx="1.8" ry="1.3" fill="#ffd8d8"/>
<path d="M125 833l-2-2M127 830l-2 3M119 823l3 3 3 2 2 2M121 827l4 1 4-1M119 819l0 4 0 1 2 3 2 1 4-1 1 0 3 2M135 830l3-2M119 819l3 0 2 0 3 0 2 2 0 4 3 1 0 2 3 2M114 820l-2-2-2-1-5-1M119 819l-2 0-3 1-2 1-2 2-2 0-3 2 0 2-1 2M127 820l0-3-3-1 0-1M137 818l3 2M139 819l1 2M141 820l-3 2M119 819l3 1 2 0 3 0 3-1 1-1 4-3 2 3 2 1 2 1M122 813l1-1M122 817l0-4-1-3-2-3M126 819l2 2M128 825l3 2M129 823l-1 2M125 816l0 2 1 1 3 4 0 1M130 808l1-3-2-4 0-4M132 803l0-2M134 805l-2-2M133 807l1-2 1-1M142 791l4-1M119 819l3-2 3-1 3-2 0-3 2-3 3-1 3-1 2-2 1-1 3-3 1-3-2-3 1-3 0-3" stroke="#a08c12" stroke-width="0.55" fill="none"/>
<ellipse cx="119.0" cy="819.3" rx="2.3" ry="1.7" fill="#a08c12"/>
<path d="M259 652l1 4M260 651l-1 1M260 657l1 3M258 663l1 3M258 667l-2 1M260 646l1 3-1 2 1 2-1 4 0 3-2 3 0 4M263 645l-2-2-3-4-1-4M272 627l3-1M272 622l1-1M248 645l3 0 3 1 3 0 3 0 3-1 3-2 1-4 0-3 2-4 1-2 2-3 0-3 0-2-1-3 0-4-1-3M257 663l0 4 1 4M265 672l3 1M266 670l-1 2 0 2M248 645l2 1 1 2 1 3 1 3 0 3 3 4 1 2 2 2 4 3 3 2 1 2 3 0 3 2 2-1 2-1M245 639l3-2M239 638l0-4M243 637l-4 1M248 642l-3-3-2-2M239 634l-1-2M247 639l-3-1-2-3-3-1-2-2-2-1M249 634l-1-4M248 635l1-1M247 638l1-3 1-2 1-4M248 633l3 0 2 0 3 1 2 2M246 629l-3 2M245 625l2-3 1-3M248 645l0-3-1-3 0-1 1-5-2-4-1-2 0-2-2-3 1-3 1-3-1-3M252 628l-2 0M248 645l3-2 0-2 1-3 0-4 0-3 0-3M242 631l-2-2M248 631l-4 0-2 0M251 624l3 1M247 629l3-4 1-1M240 625l-3 2M243 625l-3 0M248 645l2-4 0-1 0-3-1-4-1-2-1-2-2-2-2-2-4-2-3 1" stroke="#168296" stroke-width="0.55" fill="none"/>
<ellipse cx="248.1" cy="644.9" rx="2.3" ry="1.4" fill="#40d0e0"/>
<path d="M319 660l3-2M321 664l-2-4M321 667l0-3-2-2M326 668l-1-3M334 673l4-2M320 666l1 1 5 1 1-1 4 4 3 2M293 670l-2-3M295 667l-2 3M320 666l-4 1-3-2-3 1-3-3-4 0-3 1-3 1-2 2-2 2 1 3M320 669l2 1 4 0M321 673l-3 3 1 2-1 3M320 677l-2 0M316 676l-1-3M322 675l-2 2-4-1M327 684l-4 2M323 680l2 3 2 1M320 666l0 3 1 4 1 2 2 3-1 2-1 2-1 2-1 2M325 665l-1 3M322 664l3 1 3 1M336 666l2-2M332 665l4 1M320 666l2-2 2-2 2 0 5 1 1 2M308 663l1 0M308 662l0 1M312 662l-4 0M320 666l-2-1-4-2-2-1-5-1" stroke="#b09a1c" stroke-width="0.55" fill="none"/>
<ellipse cx="319.7" cy="666.5" rx="1.8" ry="1.3" fill="#ffe040"/>
<path d="M177 661l-4 0-2 0-3 1-3-1M175 666l2 1M170 667l2-2M172 669l-2-2M178 662l-2 2-1 2-3 3M183 660l0-2M182 658l3-1M182 656l-3-3M179 666l2 0 2-3 0-3-1-2 0-2M181 669l3-2 3 1 2 1M182 674l-4-1M183 671l-1 3M180 682l-4-2M182 682l-2 0-3-2M181 685l-3-2M176 655l0 3 1 3 1 1 0 3 1 1 2 3 2 2 1 2 1 4-2 1-1 4-1 3 0 2 0 3M182 658l3 3M180 654l2 4M184 655l0-2 1-2-2-2M190 655l2 0M187 656l3-1M199 652l2 3M176 655l4-1 4 1 3 1 2 1 2 0 4-2 4-3M187 657l3-3M184 658l3-1M189 661l2 2M186 661l3 0M177 659l3 0 4-1 2 3 3 1M178 662l4 0 2 2 1 2M177 669l-2 1-3 0M176 673l-1 2M174 671l2 2M169 678l-2 1M176 655l1 4 1 3 1 3-1 1-1 3-3 2 1 3-3 2-3 2M166 666l-3 0M164 670l2 3M165 668l-1 2M176 655l-2 4-2 1-3 1-1 2-2 3-1 2M202 625l1 0M176 655l3 0 4-1 2-2 3-4 0-2 0-4 1-3 1-2 4-1 2-1 3-2 3-2 0-4 0-2-1-4" stroke="#c01818" stroke-width="0.55" fill="none"/>
<ellipse cx="175.9" cy="655.1" rx="1.7" ry="1.3" fill="#ff3a3a"/>
<path d="M151 815l3-1M151 817l0-2M151 820l0-3-1-3M161 825l-1-1-4-2-1-1-4-1-2-3-3-3 0-2-2-2M155 820l-2 3M157 820l-2 0M158 815l-2-3M156 824l1-4 1-1 0-4-2-2M140 822l-3 0M144 822l-4 0M146 822l-2 0M141 823l-1 2M144 822l-3 1M161 825l-2-1-3 0-2-1-4 0-4-1-2 0-2-4-1-1M161 831l-3-1M167 828l-2 2-4 1M174 840l4-2M166 825l1 3 3 4 2 3 2 2 0 3M178 821l2 0M170 825l2-4 2-1 4 1 4 0M173 826l2-3M180 825l2-4 1-2M181 830l-3-1M182 827l-1 3-1 2M186 828l1 2M188 830l0 3M161 825l4-2 1 2 4 0 3 1 3 0 4-1 2 2 4 1 2 2 4-2M161 825l-4 1-2 0-2 1-3 2" stroke="#a8a812" stroke-width="0.55" fill="none"/>
<ellipse cx="161.4" cy="824.8" rx="2.3" ry="1.6" fill="#a8a812"/>
<path d="M162 744l-3 1M161 745l1 2M163 737l0 4-1 3-1 1-1 4 0 3 1 5M163 729l-1-3M164 736l-1-3 0-4 1-2M168 736l1-2M166 734l2 2 0 1 2 1M174 728l5 1 2-1 2 1M181 726l0 3M163 737l1-1 2-2 3-5 3-1 2 0 3-1 1-1 3 0 2 2 1-1M162 720l-4-2M163 718l0-3M164 716l3-1M158 734l1-4 2-3-1-3 1-2 1-2 1-2 1-2M139 732l0-4M156 731l-1 0-4 1-3 1-4 0-2 1-3-2-1-1M154 729l0-3 0-2M136 719l1-2M149 723l-3 1-2 0-2-1-3-1-3-3M146 722l-2 3M146 719l0 3M136 715l1-3M139 719l-3-4M147 720l-1-1-4-1-3 1-3-1M133 700l-2 0M138 699l-5 1M138 702l0-3M163 737l-2-1-3-2-2-3-2-2 0-2-3-2-2-2-2-3-1-3-2-4 1-3-2-3-2-4-3-1-3-1-4 1" stroke="#c0600c" stroke-width="0.55" fill="none"/>
<ellipse cx="163.1" cy="737.1" rx="2.4" ry="1.4" fill="#ff8a30"/>
<path d="M81 868l-3 1M82 865l-1 3M81 869l2 0M81 866l0 3M85 863l-3 2-1 1-4 2M80 864l-3 0M81 863l-1 1-2 3M74 874l0 4M90 866l-2-3-3 0-3-1-1 1-2 1-3 4 0 4-2 2 0 1M97 862l1 2M96 860l1 2M97 858l-2-2M106 851l1-2M104 851l2 0M106 846l-3 1M90 866l2-2 2-2 2-2 1-2 2-3 2-3 3-1 1-3 1-2M105 878l-3 0M106 876l-1 2M95 877l2 1 5 0 2-3 2 1M90 866l0 3 4 2 0 4 1 2M95 866l-1 3 1 5 1 3M98 868l3 0 3-1M101 868l0 2M108 866l2 2M116 868l-1 0M117 866l-1 2M118 862l1-2M118 864l0-2M90 866l2-1 3 1 3 2 0-1 3 1 2 0 5-2 3 1 3-1 3 0 1-2 3 0M91 859l1-2 2-3 3-3 2-2M91 850l4 0M89 858l1-4 1-4 0-2M86 855l-1 3M80 850l4 0M80 853l0-3M73 856l0-2M92 862l-1-3-2-1-3-3-3-1-3-1-4 1-3 2M102 850l2 0M100 846l2 4 2 1M102 845l3 0 2-1M96 848l4-2 2-1 1-2 2-3 2-2 2-2M99 825l-3 1M100 827l-1-2M96 838l1-3 1-3 2-5-3-2M88 828l-2-1M90 866l2-4 0-3 3-4 0-2 1-5-1-4 0-3 1-3-1-2 0-2-1-3-2-2-4-1-2-3-3-1-1-2-5-3" stroke="#d0a0a8" stroke-width="0.55" fill="none"/>
<ellipse cx="90.1" cy="865.5" rx="2.0" ry="1.6" fill="#ffc8d0"/>
<path d="M283 833l-2-2M275 840l-1 3M276 843l3 2M273 846l3-3M270 844l3 2M285 832l-2 1-4 3-2 2-2 2-3 2-2 2M283 825l-3-3M283 821l-4-1M283 830l0-3 0-2 0-4-2-3-1-2M274 819l-3 0-3-2M281 815l-2-3M285 832l-2-2-3 0-1-3-3-3-2-3 0-2 2-2 3-2 2 0 3-2M282 824l1-4M285 832l-2-4 0-2-1-2-4-2 0-2M290 824l2 1M291 821l-1 3M293 821l-2 0M297 816l-4-2M285 832l3-1 3-2 0-4 2-4 2-3 2-2M303 824l2-1 2-2M313 829l-1-4M310 830l3-1M308 826l2 4M285 832l3-1 3-4 4 0 3-2 1 0 4-1 3 1 2 1 3 1 1 3 1 3" stroke="#a08484" stroke-width="0.55" fill="none"/>
<ellipse cx="285.4" cy="831.7" rx="1.6" ry="1.3" fill="#ffd8d8"/>
<path d="M290 721l-3 1M296 707l-2 4-2 3-1 2-1 3 0 2-2 2 1 4M304 709l0 4M299 706l4 2 1 1M304 695l-2-1M303 697l1-2M305 695l-2-3M310 690l3-1M306 687l-1-3M310 686l-4 1-3-1M308 676l3 0M307 672l-5 0M307 674l0-2M296 707l3-1 1-4 0-3 3-2 2-2 3-2 2-3 0-4-2-4 1-3-1-3-1-2M298 705l3 0 2 0 3-1M293 693l-3 1M292 691l0-3M296 707l2-2 0-3-2-1 0-5-1 0-2-3-1-2M301 696l3 1M299 698l2-2 2-3 2-2M295 691l0-3M302 694l-3-2-1 0-3-1-4-3M305 691l0-2M306 685l-1-3M304 687l2-2M296 707l0-2 2-2 0-3 1-2 3-4 3-3 0-2-1-2 2-2 1-4 0-3" stroke="#b09a1c" stroke-width="0.55" fill="none"/>
<ellipse cx="296.1" cy="707.2" rx="2.0" ry="1.5" fill="#ffe040"/>
<path d="M180 752l4 0M180 754l0-2M173 753l3 1 4 0M179 778l1-2M176 778l3 0M176 780l2 2M174 748l0 2-1 3 1 3 0 4 0 3 1 3 1 3 0 2 0 4 0 3 0 2M178 729l2-1M176 730l2-1M181 731l3-2M178 729l3 2M175 732l1-2 2-1 3-2M177 724l2-1M175 719l1-3M175 721l0-2M176 721l-1 0M179 719l0-2M174 748l0-1 1-2-1-3 0-2 0-5 1-3 1-2 0-4 1-2-1-3 3-2 2 0M165 725l0-2M171 751l-1-2-2-3 0-2 0-5-1-4 1-4-2-4-1-2M166 762l2 2 0 2M164 765l-2-1M161 768l-3 1M157 772l-3-1M167 756l0 3-1 3-2 3-3 3-1 1-3 3M164 763l2 1 4 0M164 771l-2 2M167 773l2-3M164 773l3 0 3-2 3 0M169 771l4 2M169 773l0-2M172 772l-2-3M167 775l2-2 3-1M169 778l4 1M171 782l2 0M174 748l-3 3-1 1-2 2-1 2-1 3-2 4 0 0-1 5 1 3 0 2 3 2 2 3 2 1 0 3 1 2M181 755l3-3M174 748l2 3 2 2 1 0 2 2 1 2 2 4" stroke="#c0600c" stroke-width="0.55" fill="none"/>
<ellipse cx="174.1" cy="748.4" rx="1.8" ry="1.7" fill="#ff8a30"/>
<path d="M217 699l0 2M212 700l1 3M210 699l0-3M208 699l-1-4M228 693l-4 2-2 1-4 1-1 2-5 1-2-1-2 0-2-3M250 708l1-2M228 693l1 1 4 3 4 2 1 1 2 4 4 2 3 1 3 1 3 0 2 2M228 693l-2 0-5-1-1-1-4-2M228 688l4-2 3-1 2 1M230 681l-1-3M228 684l2-3 0-3M228 693l-1-4 1-1 0-4 0-3 2-3 0-1 3-2 2-3" stroke="#158592" stroke-width="0.55" fill="none"/>
<ellipse cx="227.7" cy="693.2" rx="2.0" ry="1.3" fill="#158592"/>
<path d="M264 865l3-1 1-1M268 871l-1-2-2-2-1-2-2-4-1-3-3-4M268 871l1-3 1-4 2-3 0-1-1-5-1-1M267 874l-1 1-3 4M268 871l-1 3 0 3M268 871l3-2 4-2 2-2 2-2 1-2 3-3M274 872l0-3M273 873l1-1M270 873l3 0 1 2 3 1M268 871l2 2 1 1 3-1 2 0 3 0 3-1 2 0 1-1 3-1" stroke="#b85c10" stroke-width="0.55" fill="none"/>
<ellipse cx="268.3" cy="871.1" rx="1.6" ry="1.5" fill="#b85c10"/>
<path d="M186 673l-5 0-2 0-3 0-2 4-2 3 1 4M168 670l-2 1M170 666l-1-3M168 671l0-1 2-4M166 665l3-2M166 661l3 0M165 663l1-2M188 674l-2-1-4-1-2-1-4 0-3 1-3 1-2-2-1-2-1-4-1-2 1-5-3-3M204 679l1-2 2-2M188 674l4 2 4 2 1 2 2 0 3 1 2-2 3 2 2-2 4 0 2 0 2-1M189 670l-1-3-3-1-2-1M195 653l3-1M188 674l1-4-1-2 0-3 0-3 1-3 0-2 0-2 3-2 3 0M199 665l2 1M198 668l1-3M199 672l1 2M200 670l-1 2M194 668l4 0 2 2M188 664l-4-2M189 667l-1-3-2-2M182 661l-3-1M194 666l-5 1-3-2-3-3-1-1M196 655l3-1M196 658l0-3M201 656l2 3M192 662l1-2 3-2 0-1 5-1M189 647l-1-2-5-1M185 641l1-1M188 674l1-2 4-2 1-2 0-2-2-4 0-1 0-4-2-5 0-1-1-4-4-2 0-4-3-4" stroke="#c0600c" stroke-width="0.55" fill="none"/>
<ellipse cx="188.5" cy="673.7" rx="2.0" ry="1.2" fill="#ff8a30"/>
<path d="M304 721l1-1M308 728l-1-2 0-1-3-4M307 716l-3-3M309 724l0-4-2-4M316 716l0 4M325 714l2 2M314 716l2 0 5 0 4-2M326 710l0 2M325 707l1 3M307 730l1-2 1-4 0-1 3-2 2-5 2-2 1-2 2-2 3-1 3-2 4 0 3 1M307 730l-4 1-1-1-3-1-3-2-2 0-4 2-2 1-3 2-2 1M292 728l-4-2M295 729l-3-1M298 728l-3 1-1 2M293 728l-5-1-2 2M292 718l5 0M291 727l0-4 0-1 1-4M294 731l-1-2M290 731l4 0M288 728l2 3M281 728l-1-2M272 728l-1 3M307 730l-2 0-4-2-3 0-3 0-2 0-2-1-3 1-2 0-5 0-3 1-4 0-2-1" stroke="#157e8e" stroke-width="0.55" fill="none"/>
<ellipse cx="307.0" cy="730.5" rx="2.1" ry="1.2" fill="#157e8e"/>
<path d="M87 822l-3 1M88 823l-1-1M90 850l-1-3-1-3-1-3-2-3-1-2-2-4 0-2-1-1 1-3 4-1 2-2M110 853l1-3-1-3M117 860l-4 2M90 850l4 1 2 0 3 1 1 0 4 0 3 0 3 1 3 1 2 2 2 4 4 1M89 855l4 2 1 4M88 864l-3 3M90 850l-1 5 0 2-2 5 1 2 1 3 0 3 0 3-1 3 0 2M84 838l-3 0-4-2-3 2-3 1M90 850l-1-2-2-4-1-2-2-2 0-2-3-2-1-1-3-4-1-2-2-2-4-3-2 0M84 837l-1-4M86 849l1-2-1-3 0-5-2-2M90 850l-4-1-3 2-3 2-2 2-4-1-4 0-2 3" stroke="#a08c12" stroke-width="0.55" fill="none"/>
<ellipse cx="89.7" cy="850.2" rx="1.6" ry="1.5" fill="#a08c12"/>
<path d="M226 838l-2 2M223 838l3 0M234 843l-2 1M233 840l1 3M218 835l4 2 1 1 5 1 2 1 3 0 2 1M220 850l1 0M221 852l-2 4M216 845l2 1 2 4 1 2 1 2M207 859l-3-2M214 854l-3 2-4 3M215 860l-1 0M223 867l2-1M213 830l3 1 1 2 1 2 0 3 0 3-2 4-1 2-1 2 1 4-1 1-1 4 2 2 3 3 2 2 3 2M215 815l-1-2M221 809l3 1M213 830l1-4-2-4 1-2 2-5 2-3 3-2 1-1M213 825l1 2M211 824l2 1 2 2M210 820l-3-3M210 821l0-1M209 820l-3 0M207 820l2-2M211 830l0-3 0-3-1-3-1-1-2 0M189 812l0 2M181 812l-1 2M184 809l-1 2-2 1-3 3M181 808l-4 2M180 808l3 1M180 805l0 3-3 3M213 830l-2 0-2-2-1-3-2-1-3-2-1-3-4-1-2-1-2-2-4-2-1-1-3-2-2-1-3-1-1-3-2-3-1-4 0-3" stroke="#8a6a6a" stroke-width="0.55" fill="none"/>
<ellipse cx="213.2" cy="830.0" rx="2.3" ry="1.2" fill="#8a6a6a"/>
<path d="M119 832l2-1M120 834l-1 3M115 828l3 1 1 3 1 2 1 4 2 2M116 823l-2-1-1-4-3 0-3-2-2-2M114 820l2-4 1-2 1-1M113 807l-2-2M114 806l3 1M116 832l-1-4 2-2-1-3-2-3-2-3-1-5 0-2 2-3 1-1 4-2 2 1 3-1M120 847l-4 2-2 2M116 832l0 1 1 3 1 3-1 2 2 4 1 2 0 3-1 1 1 4-2 4M101 849l-2-3M106 845l-2 3-3 1M116 832l-2 3-2 1-1 2-2 2-2 1-1 4-1 3 0 3-2 0-3 2-2 3M115 834l-2 1-4 0-2 0-4 1M112 847l2 1M115 843l-3 4M119 846l-2-1M117 849l2-3M116 832l-1 2-2 3 1 3 1 3 2 4 0 2 3 3-1 3-1 5" stroke="#a08c12" stroke-width="0.55" fill="none"/>
<ellipse cx="116.1" cy="831.6" rx="2.1" ry="1.4" fill="#a08c12"/>
<path d="M284 743l-2 2 0 4M292 744l1 3M301 741l0 4M299 740l2 1M303 734l2 1M280 737l1 2 1 3 2 1 2 1 2 1 4-1 3-2 2 0 2-2 1-3 3-3M279 728l-4-1M284 734l-1-2-3-3-1-1M302 727l1 3 0 2M303 727l4 2 1 2M280 737l2-1 2-2 5 0 2-1 4-3 2-2 3-1 2 0 1 0 3-2 3 0 3 1 3 1M272 745l2 3M271 742l1 3M273 739l-2 3 0 3M270 742l0 4M280 737l-2 1-2 1-3 0-3 3-2-2-3-1-3-1-3-1" stroke="#168296" stroke-width="0.55" fill="none"/>
<ellipse cx="279.7" cy="736.6" rx="1.9" ry="1.7" fill="#40d0e0"/>
<path d="M183 641l1-4 0-3M188 650l-1-3-2-3-2-3-1-2 0-2 1-2-2-2M180 648l-3 2M187 653l-4-1-2-2-1-2-1-5 1-3M185 656l-3 1-2 1-3 1-2 2M176 662l-1-1M173 662l1-1M175 663l-2-1M184 659l-3 0-3 3-2 0-1 1M189 665l2 1M185 666l4-1M181 661l3 3 1 2M188 650l-1 3-2 3-1 3-3 2-2 1-2 2 1 3-1 2 2 4M185 652l0 3 1 1M184 652l-2-4-3-1M177 650l1-3M188 650l-3 2-1 0-4 0-3-2-2-2-2-2M187 662l-3 2M185 660l2 2 0 4M183 663l1 2M188 650l-1 3 0 3-2 4-2 3-3 2-2 1-3-1-1 3 0 2-3 3M189 659l2 0M188 663l1-4M191 665l0 3M186 662l2 1 2 0 1 2M181 680l3 1M177 682l2 4M188 650l1 3-1 3 0 2-2 4 0 3-1 3 0 5-2 3 0 2-2 2-1 1-3 1-2 1-2 0" stroke="#10808a" stroke-width="0.55" fill="none"/>
<ellipse cx="187.9" cy="650.1" rx="1.8" ry="1.3" fill="#10808a"/>
<path d="M210 699l-2 2-3 3M202 694l-4 1M192 690l-2 0M194 694l-2-4M205 693l-3 1-4 0-4 0M198 682l-3-1M201 691l-1-1 1-3-3-5M190 691l-1 0M190 688l0 3M184 688l0-3M215 700l-5-1-1-2-2-1-2-3-4-2-1 0-4-2-2 0-4-1-3 0-3 0M223 702l2 1M224 702l0-2M227 700l3-3M217 701l2 1 4 0 1 0 3-2 4-1M223 703l2-1 3 0M231 703l3 2M230 705l1-2 0-4 1-3M249 705l3-1M215 700l2 1 2-1 2 2 2 1 3 2 4 0 1 1 3-1 3-2 3 0 3-1 4 0 2 3M212 692l0-3 1-2M215 700l0-3-1-2-2-3-2-3-1-1-2 0-3 0M228 699l2-1M215 700l2-1 2 0 3 0 4 0 2 0 1 2 2 3" stroke="#d0a0a8" stroke-width="0.55" fill="none"/>
<ellipse cx="214.8" cy="700.0" rx="1.8" ry="1.5" fill="#ffc8d0"/>
<path d="M190 794l0 2M193 798l0 3M196 799l1 3M176 795l4 1 2 0 1-1 2-1 5 0 3 4 3 1 3 1 3 2M183 779l1-1M181 779l2 0M183 776l-2-2M183 775l2-2M184 771l-2 1M176 795l2-3 1-3-2-4 1-2 1-3 2-1 2-3 0-1 1-4M172 791l3-2M171 786l-3 0M174 796l-1-3-1-2 0-2-1-3M168 792l-1-4-2-1M164 787l-2 1M176 795l-2 1-2-3-4-1-2-2-2-3 0-4 0-4 0-1M176 795l4-2 4 1 0 0 3 1 4 2 1 1 2 1" stroke="#a85a14" stroke-width="0.55" fill="none"/>
<ellipse cx="176.5" cy="795.2" rx="1.6" ry="1.6" fill="#a85a14"/>
<path d="M212 816l2 1 2 1M211 827l1 3M208 825l3 2 2 3 3 1M197 823l-2 2M200 823l-3 0M193 825l-3-2M196 823l-3 2M202 825l-2-2-4 0M197 828l-3-1M200 825l-3 3M211 812l1 4-1 2 0 3-3 4-3 0-3 0-2 0-3-1-2-2-3-2M214 816l2 2M213 813l1 3M223 820l-1 0M224 827l3 0M211 812l2 1 2 1 2 1 5 1 1 4 0 4 1 3 1 1M198 817l-3 1M211 812l-4 1-3-1-3-1-1 3-2 3-1 1-5 2M208 811l-1-2-1-3M211 812l-3-1-1-3 2-5 2-1 3-3" stroke="#8a6a6a" stroke-width="0.55" fill="none"/>
<ellipse cx="211.0" cy="812.1" rx="1.8" ry="1.6" fill="#8a6a6a"/>
<path d="M145 803l5 0M147 798l-1 4-1 1M145 787l1 3-1 3 1 2 1 3 2 4 0 2 0 4M126 779l0-3M122 778l-2 2M145 787l-1-3-3-1-3-3-4 1-2-2-5 0-1 0-4-1M147 782l2-1M147 778l4-2M148 781l-1-3M147 786l0-4 1-1M147 779l1-2M146 781l1-2M150 785l-1-3-3-1M161 779l1-3M169 786l2 2M172 788l3 0M145 787l2-1 3-1 1-1 2-3 3-4 2 2 3 0 4 0 2 4 2 3 3 2" stroke="#a85a14" stroke-width="0.55" fill="none"/>
<ellipse cx="144.7" cy="786.6" rx="1.9" ry="1.6" fill="#a85a14"/>
<path d="M172 779l-4 1-2-1-3 1-2 0-2 0-3-2-2-1-3-1M172 777l1-1 3-4 1-2 1-4 1-1M174 775l4-1 4 0 1 0 2 3M182 769l3-2M180 768l2 1M181 769l0 3M175 767l2 0 3 1 1 1M177 762l3-2M177 752l-2 1M180 755l-3-3M172 779l0-2 2-2 0-3 1-5 1-4 1-1 1-2-1-2 3-3-1-4M173 777l-3-2-1-2-2-1-3-3-2-2M181 771l4-3M184 773l0 3M177 772l4-1 3 2M176 761l2-2M176 757l1-3M176 768l1-1-1-2 0-4 0-4M176 761l1-1M172 779l1-2 2-2 2-3 0-2-1-2 0-4 0-3 2-5 1-2-1-2 1-1 1-3M162 778l-1-3M164 781l-2-3 0-2M155 786l-3-3-3-1M172 779l-2-1-5 3-1 0-4 1-2 0 0 2-3 2-3 0-2 2-3 0M165 774l-2 1-2-1M159 771l-3-2M172 779l-2-1-3-2-2-2-2-2-2-1-2 0-3 1-1 3" stroke="#c01818" stroke-width="0.55" fill="none"/>
<ellipse cx="172.1" cy="779.5" rx="2.1" ry="1.6" fill="#ff3a3a"/>
<path d="M189 791l-3 0M191 795l-2-4M198 795l-2-1-5 1M197 795l1 2 4 3M196 799l-3 0-4-1M198 811l-1 1M209 792l-4 0-2 1-3 0-2 2-1 0-1 4 0 1 1 2 1 3 0 4 0 2 1 3M217 782l0-4M209 792l1-2 2-2 2-2 3-4 1 0M210 777l1-2 0-4M209 776l-4-1M209 792l-1-2 2-2 0-4 0-3 0-4-1-1-3-2-2-1-2-4" stroke="#8a6a6a" stroke-width="0.55" fill="none"/>
<ellipse cx="208.6" cy="791.8" rx="2.3" ry="1.4" fill="#8a6a6a"/>
<path d="M251 770l1-4M245 769l4 1 2 0M245 764l-3 0M247 766l-2-2M247 762l-2-3M238 785l-1-3 3-5 1-2 2-2 2-2 0-2 2-3 0-1 0-3 1-1M247 798l-2 3M238 789l3 0 3 1 2 4 1 4 2 0M230 807l1 4 0 4M238 785l0 4 3 3-1 3-3 1-1 2-2 4-3 3-1 2-1 2-3 0-4 0M247 768l1-2M238 785l0-3 0-2 2-5 2 0 0-3 4-2 1-2 4 0" stroke="#5a1aa0" stroke-width="0.55" fill="none"/>
<ellipse cx="237.8" cy="785.0" rx="2.2" ry="1.3" fill="#9050ff"/>
<path d="M244 818l-1-2M247 818l-3 0M246 815l1 3-3 3M237 812l-1 1M241 812l-4 0M238 811l0-3M250 813l-4 2-1 0-4-3-3-1-1-1M252 797l3-4M250 788l2-2M252 788l-2 0M254 789l-2-1M250 813l0-1 1-5 0-3 1-1 0-3 0-3 1-3 1-2 0-3M241 814l2-2M242 816l-1-2M237 816l0-3M250 813l-2 2-5 2-1-1-5 0M262 800l2-1M250 813l3-1 3-3 2-1 2-2 1-4 1-2M250 813l0 2 1 4 0 3 0 3 0 3" stroke="#6c9c1c" stroke-width="0.55" fill="none"/>
<ellipse cx="249.9" cy="813.4" rx="2.1" ry="1.3" fill="#c8f040"/>
<path d="M285 634l2 0M277 619l1 4 1 4 1 2 2 2 1 2 2 1 1 3 4 1M277 619l3-2 2 0 3-2 0-4 1-3 2-1 1-2M267 615l-1-1M271 621l-3-3-1-3M260 624l-2 3M277 619l-4 3-2-1-1 1-4 0-1-1-5 3-2 2M262 624l-1 4M259 625l-2-3M277 619l-3 1-4 2-3-1-3 1-2 2-3 1-3 1M263 612l3-1M263 615l0-3M277 619l-4 0-1-2-4-1-1-1-4 0-3 1" stroke="#c0600c" stroke-width="0.55" fill="none"/>
<ellipse cx="277.2" cy="619.2" rx="2.3" ry="1.3" fill="#ff8a30"/>
<path d="M198 781l0 3 2 1 1 2 3 1 4 1 3-2 1-1 2-1 4-1M200 781l3-3M202 779l1-3M204 776l-1-4M198 781l2 0 2-2 2-3 3-1M197 780l-2 3-1 3M193 781l0 3M198 781l-1-1-4 1-3 1-4 2" stroke="#6c9c1c" stroke-width="0.55" fill="none"/>
<ellipse cx="198.4" cy="781.0" rx="1.6" ry="1.5" fill="#c8f040"/>
<path d="M264 783l-3 2M267 776l-1 5-1 1-1 1-1 5-1 2M267 776l-3-4-1-1-1-3-1-3-1-3-2-4M264 778l-2-2-3-2-2-2M254 784l-4 1M256 783l-2 1-4 0M256 785l-2 3M267 776l-3 2-5 1-1 3-2 1 0 2-1 5-2 3-2 2M278 784l-1 3-3 2M284 795l-2 4M267 776l1 1 2 2 5 3 1 0 2 2 2 4 1 2 1 3 2 2 1 2 2 1M262 757l2-2M267 776l-2-3-1-1-4-1-3-2 0-3 0-2 0-3 3-2 2-2 0-2" stroke="#157e8e" stroke-width="0.55" fill="none"/>
<ellipse cx="267.4" cy="776.0" rx="1.7" ry="1.6" fill="#157e8e"/>
<path d="M207 671l-2 3-2 3-1 1-3 2-2 2M218 681l1-3M208 673l4 2 1 2 2 0 3 4M214 685l-2-1M207 671l1 2 3 3 2 3 3 2-2 4 2 4-1 2-1 3M214 671l1-4M220 670l2 3 2 2M221 669l3 2M230 667l2 4M207 671l3 1 4-1 3-1 3 0 1-1 4-2 5 0 3-1" stroke="#c0600c" stroke-width="0.55" fill="none"/>
<ellipse cx="207.0" cy="670.8" rx="2.3" ry="1.2" fill="#ff8a30"/>
<path d="M104 688l1-5 2-3M95 683l-3-2M112 695l-4-3-3-2-1-2-1-1-4-3-2-2-2 1-3 2-2 1M108 684l0-3M109 685l-1-1M114 690l-3-2-2-3-1-3M114 684l0-3M121 680l2 2M127 680l-1 3M124 678l3 2M122 678l2 0M112 695l1-2 1-3 0-2 0-4 2 0 2-2 3-2 1-2 0-4M116 694l4 3M118 690l-1-3M119 687l-2-2M117 697l-1-3 2-4 1-3M135 703l2 2M131 704l4-1M129 702l2 2M139 708l-1 1M112 695l3 1 2 1 2-2 5 3 3 2 2 2 4 1 3 3 3 2 1 1M102 707l0 2 1 2M99 711l1 3 0 4M98 716l3 2M97 713l1 3M112 695l-3 1-2 2-1 1 0 5-3 1-1 2-3 4-2 2-1 2 0 2-2 2" stroke="#b01818" stroke-width="0.55" fill="none"/>
<ellipse cx="111.7" cy="694.5" rx="1.9" ry="1.3" fill="#b01818"/>
<path d="M179 781l4 0M179 791l2 2M181 771l-1 3-1 5 0 2 0 4 1 3-1 3M166 759l-3 2M181 771l-2-2-3-2-2-2-3-2-2-3-3-1-2-2-4-1M198 769l2 3M195 767l3 2M181 771l2 0 5 1 2-2 3 0 2-3M181 769l-2-3M180 762l2 0M179 764l1-2M181 771l0-2 0-3-2-2 0-1M181 771l3 1 2-1 3-3 2-1" stroke="#a85a14" stroke-width="0.55" fill="none"/>
<ellipse cx="181.2" cy="771.1" rx="2.0" ry="1.2" fill="#a85a14"/>
<path d="M125 849l-1-2M139 848l-3-1-2 0-4 0-5 2M120 844l-1-3M126 846l-1-2-5 0M119 847l-3 4M123 849l-4-2M124 845l-1 4-1 1M141 847l-2 1-3 1-3-2-3 0-4-1-2-1-3 1-2 1-2 1M149 855l-2 4M146 853l3 2M149 844l0 3-1 2-2 4M158 851l3 1M157 847l1 4 1 1M163 838l-2 0M164 847l0-4-1-5 2-3M173 846l0 3M171 846l2 0M141 847l2 0 2-1 4-2 3 2 1 0 4 1 5 0 2 0 5 1 2-2 4-2 1-3 2-1 0-2 3-2 1-1M169 857l-2 1-3 3M170 858l2-1M141 847l1-1 2-3 4-2 1-2 2-2 3 1 3 3 0 2 3 2 2 2 3 2 1 1 2 4 1 3 1 1 4 0 3 0M132 855l-2 3M118 853l-1-3M143 855l-4 2-4-2-3 0-3 1-3 1-2-3-4 1-2-2M143 859l-2 3-1 3 0 5M154 867l-2 0M154 863l0 4M144 861l2 1 3 0 1 0 4 1 2-1M149 867l-3 1M145 862l2 0 2 2 0 3 1 3 1 5 2 3M125 869l2-2 0-4M113 870l-1 3M141 847l1 2-1 3 2 3 0 4 1 2 1 1-1 3-4 1-3 1-3 2-3 1-3 0-3-1-4-1-2 0-2 1-4 1M133 839l-1 2-3 2M128 832l-1-2-1-4 0-4M118 814l2-3M118 815l0-1M141 847l-2-2-2-2-2-1-2-3-1-3-2-3-2-1 0-3-4-1-2-3-3-2 0-2-1-4 0-2" stroke="#a8a812" stroke-width="0.55" fill="none"/>
<ellipse cx="141.1" cy="846.8" rx="2.0" ry="1.3" fill="#a8a812"/>
<path d="M192 698l0 2M195 687l-2 4-1 2 1 3-1 2M220 683l4-1M218 682l2 1M215 681l3 1M188 684l3 1 4 2 4 0 2-1 3-2 4 1 1-1 4-1 2-2 2-1M202 678l-2-3-3-1M188 684l4-2 2 0 3-2 2-1 3-1 3-3 2-2 3-2 2-1M185 697l-2 0M188 704l-1 3M185 701l3 3M186 691l0 3-1 3 0 4M186 698l1 1M181 706l-2 2M188 684l-2 3 0 2 0 2 0 3 0 4-1 3-2 1-2 4M177 682l0 4M188 684l-3-1-3-1-2-1-3 1-2 2-4 3-2 1" stroke="#c0600c" stroke-width="0.55" fill="none"/>
<ellipse cx="188.3" cy="684.4" rx="2.3" ry="1.5" fill="#ff8a30"/>
<path d="M107 771l1 1M103 772l4-1M84 772l4-1 3-1 2-2 2 2 3 0 2 1 3 1M84 772l2 3 1 2 1 2 1 3 2 2 1 3 1 4 0 3 1 4 2 3M76 775l-2-1M77 773l-1 2M81 770l-4 3M74 764l0-3M73 759l0-1M84 772l-3-2-2-2-3-1-2-3 0-2-1-3" stroke="#a87c12" stroke-width="0.55" fill="none"/>
<ellipse cx="84.2" cy="771.5" rx="2.3" ry="1.2" fill="#a87c12"/>
<path d="M238 692l-1-4M228 695l4-1 3-1 3-1M229 692l2 0 4-1 3-2 2 0M225 667l-3-1M223 661l2-4M223 664l0-3M224 664l-1 0M228 700l0-2 0-3 1-3 0-5-1-2 0-3-1-1 0-4 0-4 0-3-2-3-1-3M251 698l4-1M248 698l3 0M251 698l1 4M256 702l1-1M228 700l3 0 3-1 3 1 4-2 4 0 3 0 3 0 2 3 3 1M228 700l3-3 1-2 2-1 3-3 3-1 3-2" stroke="#158592" stroke-width="0.55" fill="none"/>
<ellipse cx="227.8" cy="700.2" rx="1.6" ry="1.6" fill="#158592"/>
<path d="M314 789l2-3M318 793l-2 4M318 792l0 1M302 783l4 3 2 3 4 0 2 0 4 1 0 2M314 794l4 3M312 791l2 3M304 787l2 1 2 1 3 0 1 2M303 779l-1 4 1 1 1 3 0 3 1 3 2 2 1 1 2 3 1 2 3 1 3-1M295 781l3-2M297 782l-2-1-2-1-3-2M303 779l-3 1-3 2 0 2 1 2 0 3 0 2 0 5 1 1 1 2M311 760l1 4M309 760l2 0M304 763l2-2 3-1 3 1M302 754l-3 0M303 779l0-2 2-4 0-4-1-3 0-3-2-3 1-3-1-3 0-3 1-2" stroke="#157e8e" stroke-width="0.55" fill="none"/>
<ellipse cx="303.3" cy="779.0" rx="2.3" ry="1.2" fill="#157e8e"/>
<path d="M118 759l4-1M118 757l0-2M115 753l-1-3M116 752l-1 1M113 750l-2 1M114 767l1-1 1-4 2-3 0-2 0-2-2-3-3-2-2-1M115 763l0-3-3 0M114 767l1-4-1-1 0-2-3-4 0-4M118 763l2-2M117 766l1-3 1-4M124 766l-1 2M114 767l3-1 3 0 2-1 2 1 3 0 3 0M106 760l2-4M109 762l-3-2M113 765l-4-3-2 1-2 0M110 758l-2-1M106 752l-2 0M114 767l-1-2 0-4-2-2-1-1-1-3-3-3M115 770l-2 1-2 0-2 2M122 770l0-2M124 779l-4-1M125 775l-1 4M131 776l3 0M130 778l1-2M127 778l3 0M114 767l1 3 4 0 3 0 1 3 2 2 2 3" stroke="#a08c12" stroke-width="0.55" fill="none"/>
<ellipse cx="114.1" cy="766.9" rx="1.7" ry="1.5" fill="#a08c12"/>
<path d="M184 843l0-3M175 847l2 0 4 0 1-2 2-2M180 864l-2 0-5 0M179 867l3 1M181 870l2 0M173 844l2 3 1 1 1 2 0 3 1 3 2 4 0 4-1 3 2 3 0 3 2 1 4 2 1 1M164 841l-1 1M168 840l-4 1M172 841l-4-1M173 844l-1-3-1-4-1-3-1-3-1-2-4-1-2-3-1-2M166 847l-4 1M172 850l-3-1-1-1-2-1M163 850l0 2M170 854l-3 0-1-1-3-3-1-2M165 860l0 4M168 861l-3-1M168 857l0 4M160 862l2 3M161 861l-1 1M173 844l0 2-1 4-2 4 0 0-2 3-4 1-3 3-2 2 0 3 2 3 0 2" stroke="#c01818" stroke-width="0.55" fill="none"/>
<ellipse cx="173.0" cy="844.3" rx="2.3" ry="1.6" fill="#ff3a3a"/>
<path d="M178 721l1-2M178 714l0-1M176 717l2-3 2-3M174 713l-1-1M180 724l-2-3-1-1-1-3-2-4-2-2-1-2M186 721l-3-3M186 716l-1 0M188 710l3 3M186 714l2-4M184 709l3-1M183 707l2-2M180 724l1 0 4-1 1-2-1-1 1-4 0-2-1-2-1-3-1-2M180 724l-4 0-2 3-1 2-4 2-2 4-1 3M180 724l1-1 3-3 2-3 0-2 5-1 1-2 3-2" stroke="#c01818" stroke-width="0.55" fill="none"/>
<ellipse cx="180.0" cy="724.2" rx="1.8" ry="1.4" fill="#ff3a3a"/>
<path d="M221 679l4 3 2-1 4 1M222 677l-1-1-1-1M226 665l1-2M228 667l-2-2M213 686l2-2-1-2 3-1 4-2 1-2 2-4 2-2 2-4 2-2M210 675l1 1M211 672l3 2M213 686l-2-2 0-1-1-4 0-4 0-1 1-2M213 686l-3 0-2 1-3 0-2-3-3-1-2-2M214 680l-2-1-4-1M220 676l-2 2M219 675l1 1M213 686l2-2-1-4 1-2 4-3 2-1M205 689l0 2M208 689l-3 0M210 689l-2 0-3-1-2 0-3-3M208 692l-5-1M213 686l-3 3 0 2-2 1-3-1-3 0-4 0-3-1" stroke="#c0600c" stroke-width="0.55" fill="none"/>
<ellipse cx="212.7" cy="686.5" rx="2.0" ry="1.3" fill="#ff8a30"/>
<path d="M111 774l3 2 1 4 0 3M114 775l0 3M108 774l3 0 1 1 2 0 4 0 2 0 2 0M99 774l0-3 3-2M97 786l-3 1M96 774l-2 3 1 3 1 2 1 4M92 782l3 3M93 773l-1 4-1 2 1 3-1 4M89 773l3-1 3-3M88 771l1-2M86 768l-3-1M89 775l0-2-1-2-2-3 0-3M70 774l-2-2M108 774l-3-1-3 2-3-1-3 0-3-1-4 2-3-1-3 0-5-1-3 0-1 1-2 1-2-1M108 796l-2-1M109 786l-2 3 2 4-1 2 0 1-1 4 0 3M116 793l1 4M113 792l3 1M115 798l-2-1M116 796l-1 2M107 790l1 2 5 0 2 2 1 2M96 776l-1-2M95 778l1-2M93 789l0-4 2-3-1-1 1-3M84 786l-1 2M87 788l-3-2-5 1M88 783l3 1M85 784l3-1M85 788l0-3 0-1M76 791l0-3M108 774l0 3 0 2 2 4-1 3-2 4-2-1-5 1-3 0-4-1-3 0-3-1-2 0-3 3-3 1-3-1M97 767l-1-4M96 762l-2 1M108 774l-1-1-3 0-2 0-2-2-2-3-1-1-1-5-1-2" stroke="#a08c12" stroke-width="0.55" fill="none"/>
<ellipse cx="108.4" cy="773.6" rx="2.2" ry="1.4" fill="#a08c12"/>
<path d="M77 741l-1-1-4-1M76 733l-1-3M79 738l-3-3 0-2-4 0M79 729l-3-1M83 725l1-3M80 727l3-2M80 736l0-4-1-3 1-2M81 727l-2-1M78 727l-2-2M76 726l3-1M76 727l0-1M83 728l-2-1-3 0-2 0M87 727l2-4M84 726l3 1 1 0M78 750l-2-1 0-3 1-2 0-3 2-3 1-2 1-2 2-3 0-3 1-2 1-4 2-1 2-3 0-3M70 753l-2-2 0-1M72 753l-2 0-3 0M78 750l-4 1-2 2-2-1-2 3M74 753l3 2M76 750l-2 3-2 2-1 2-2 4M78 750l-2 0-4-1-3 0-1 1M98 753l1-3 0-2M101 757l-3 1M101 754l0 3M78 750l2 3 0 1 2 2 4-1 1 1 5-2 3 1 3-2 3 1 4 2 2 0 2 0M78 750l-4 1-3 0-3-1" stroke="#a87c12" stroke-width="0.55" fill="none"/>
<ellipse cx="77.7" cy="750.5" rx="2.3" ry="1.3" fill="#a87c12"/>
<path d="M333 813l-2 2M335 814l-2-1-3 0-4-2M334 807l1-4M336 804l1-2M338 815l-3-1-1-1-1-4 1-2 2-3 4-2 3-2M352 825l-1 3M347 821l1 2 4 2M351 824l0 2M357 829l2-1M341 815l3 3 2 2 1 1 4 3 3 1 1 3 2 1M346 821l1 4M344 816l0 3 2 2 2 3 1 2-1 3M349 820l-2 3 1 2M349 818l0 2 0 2 2 3 0 1 1 4M358 815l3 2M360 815l0-3 2-3M338 815l3 0 3 0 0 1 2 3 3-1 4 1 3-2 2-2 2 0M327 810l-3 2-1 4-1 3M331 812l4-2M341 819l-1 4M325 806l2 4 4 2 0 3 2 2 5 0 3 2M317 807l1 1M318 805l-1 2-3 1M314 805l-1-2-1-2-1-3-3-2M303 792l2-3M305 801l0-3-1-4-1-2M338 815l-3-3 0-2-3-1-2-3-2 0-3 0-4-1-3 0-4 0-2 1-3-3-3-1-1-1-3-2-4-2 0-1-3-3 0-4M330 832l-3-1M336 827l-3 3-3 2-2 0M338 815l-2 3-1 5 1 4-1 3 0 4 1 3 0 3-2 4 0 2-1 2M322 809l-2 2M328 810l-3 1-3-2-4 0-4 1-2 1M318 800l-1-3M322 802l-4-2-2-1-3 0M321 798l0-3 0-1M319 796l-2 0M312 782l4-1M314 785l-2-3M315 783l-3-2M314 791l0-3 0-3 1-2M311 791l-3-1-3-4M309 791l-3 3M303 790l-1-2M301 789l-2-3M338 815l-4 0-4-2-2-3-4-2-1-3-1-3-1-4-2-2-2-4-3-1-3 0-2 0-3 0-3-1-2-1" stroke="#a08484" stroke-width="0.55" fill="none"/>
<ellipse cx="337.7" cy="815.3" rx="1.8" ry="1.6" fill="#ffd8d8"/>
<path d="M170 772l3-3 2-4 0-2M182 758l1-4M157 770l4 2 1 0 3 1 1-1 4 0 4 2 2-1 3-3 1-2 2-2-1-5 1-3-1-3 0-2 0-4M141 774l-3 2M150 770l-1 1-3 2-3 2-2-1-2 2-3 2M144 771l-3 1M146 772l-2-1-3-2-2-2-3-1M139 765l-3 0M143 774l-1-2-1-4-2-3M135 765l0 4M132 765l3 0M132 771l1-3-1-3 0-4M124 762l-4-1M122 759l0-5M120 756l1-2M157 770l-2 1-5-1-4 2-3 2-3-2-2 2-3-1-3-2-1-2-3-2-1-3-3-2-2-3-2-3M159 770l3-2 4-2 2-1 3-3M171 775l-1 4 0 3 2 4M181 781l2 2M187 780l0 4M157 770l2 0 3 0 4 2 2 1 3 2 2 2 2 1 2 2 4 1 4-2 2 1 3 1 2 0M159 773l3 1M156 775l3-2 2-1 0-2M154 777l2 3M151 779l-2-2-2-2M139 787l0 4M157 770l-1 2 0 3-2 2-3 2-3 2-2 1-4 2-3 3-3 1M159 779l-1 1M161 777l-2 2M165 782l2 0M157 770l2 1 0 4 2 2 2 3 2 2 2 3 2 1 0 2 3 2 3 3" stroke="#a85a14" stroke-width="0.55" fill="none"/>
<ellipse cx="156.7" cy="770.1" rx="2.2" ry="1.4" fill="#a85a14"/>
<path d="M243 777l-4 0M253 775l-2-1-3 1-3 1-2 1-4 0M230 784l0-3M256 769l-2 4-1 2-3 4-2 2-4 1-3 1-3 0-3 1-4 0-1 0M255 767l2-1 5 0 1 0M251 766l-2-1-4-2M243 765l1 4M244 761l-1 4M256 769l-1-2-4-1-3-1-4-1 0-3-4-1M250 765l-1 4M239 760l-2 1M243 764l-4-4M253 764l-3 1-4-1-3 0M248 753l-1 4M251 754l-3-1M256 769l-2-3-1-2 0-3-3-4 1-3 0-3 2-4 0-2 1-3" stroke="#157e8e" stroke-width="0.55" fill="none"/>
<ellipse cx="255.9" cy="769.0" rx="1.6" ry="1.3" fill="#157e8e"/>
<path d="M118 793l1 2M121 792l-3 1-1 0M118 778l0-2M119 780l-1-2M120 785l-1-5M119 784l-3 0M107 810l3-2 3-2 2-2 2-2 2-3 2-4 0-3-1-4 0-3-1-1M119 814l3 0M117 815l2-1 1-4M120 815l1-2M107 810l3 1 2 2 2 1 3 1 3 0 3 1 4-1 2 0M111 811l1-2-1-3M117 817l-1 3M115 815l2 2M118 816l-2 2M113 814l2 1 3 1M113 827l4 0M107 810l4 1 2 3 2 4 0 4-1 1-1 4 1 4M110 828l3-1M109 834l-2 4M107 810l1 3 3 3-1 3-1 4 1 2 0 3-1 3 0 3M114 808l1-1M112 807l2 1M114 803l3 0M107 810l3-2 2-1 2-4 0-4" stroke="#168296" stroke-width="0.55" fill="none"/>
<ellipse cx="107.3" cy="809.7" rx="1.7" ry="1.4" fill="#40d0e0"/>
<path d="M225 707l-4 0M225 704l0 3M228 705l2-1M229 708l1 1M231 713l3 1M223 701l2 3 3 1 1 3 1 3 1 2M219 701l-1 4-1 3 0 5-1 0M216 701l-4-2-1-3M210 701l-1-4M206 708l-2-1M208 701l-1 3-1 4M200 700l1-3M199 697l-2-1M203 701l-3-1-1-3M201 702l-1-2M198 703l-1-3M224 699l-1 2-4 0-3 0-2-1-4 1-2 0-3 1-2-1-2 1-3 1-4 1-2 2M235 683l-3-1M234 686l1-3 1-1M236 679l2 2M237 678l2 1M224 699l3-1 3 0 2-1 3-3 0-2 0-2-1-4-1-3 1-2 2-2 1-1 3-2 2-1M219 702l-1 2M214 705l0 2 0 1-1 4M208 712l2 2M206 714l-2-1M224 699l-3 1-2 2-2 2-3 1-1 3-3 2-2 2-2 2 0 2M218 697l-1-3M212 689l3-1M212 692l0-3M223 697l-1-2-4 2-2-3-1-1-3-1M224 690l4 1 1-1M221 694l0-2 3-2 1-3 3-1 2-3M210 684l-2-3M208 682l2-4M216 685l-2-1-4 0-2-2 0-1M224 699l-1-2-2-3-1-4-2-1-2-3 0-1-2-2-1-1-3-1-4-1-2 1-2-2M220 699l-4 0M221 701l-1-2-3-1-2-2M210 706l-1-1M217 707l-3 0-4-1-3 0M192 709l-2-2M224 699l-3 2 0 3-4 3-3 1-4 0-3-1-2 1-2-1-1 1-4 2-4-2-2 1-2 3" stroke="#158592" stroke-width="0.55" fill="none"/>
<ellipse cx="224.4" cy="699.4" rx="1.8" ry="1.3" fill="#158592"/>
<path d="M228 735l1 2M235 734l3 4M241 737l-1 4M240 734l1 3M223 733l4 0 1 2 2 0 2 0 3-1 2 0 3 0M220 732l-1-3 0-4M217 731l-1-3-1-1 0-3 1-3M210 732l1 4M223 733l-3-1-3-1-3 0-4 1-3 1-3-2-2-2-2-4M226 749l-3 3M223 733l2 3 1 4 1 3 1 2-2 4 0 3M210 723l0-1M209 722l-3 0M214 724l-4-1-1-1M203 723l-2-3M221 732l-2-5-1-1-4-2-3 0-3 0-3-1-2 0M208 725l0-1 1-5 1-2M200 721l-2 4M199 719l1 2M202 718l-3 1M223 733l-2-1-3 0-2-1-4-1-2-3-2-2 0-2-2-2-2-2-2-1-2 0 0-3-1-3M231 724l-2-2M238 717l2-2M234 723l1-4 3-2M239 718l-2 1M240 721l-1-3-2-3M243 718l2-1M223 733l2-3 1-2 2-2 3-2 3-1 4-1 2-1 3-3 1-2 4-3 4 0" stroke="#c0600c" stroke-width="0.55" fill="none"/>
<ellipse cx="223.4" cy="732.7" rx="1.8" ry="1.5" fill="#ff8a30"/>
<path d="M288 756l-2-1M287 754l3 0M287 753l-3-3M286 751l-4 0M288 765l1-3-1-6-1-2 0-1-1-2M291 764l1-3 2-2 2-2 1-4M284 766l4-1 3-1 3-1 1-4 1-3 2-3 1-2 3-1 3-1 1-1M283 773l-1 2M283 776l-1 1M280 781l-2-2M284 769l-1 4 0 3-1 3-2 2M276 781l2 2M274 783l1 5M281 778l-2 1-3 2-2 2M284 766l0 3 0 3-1 3-2 3 0 4-2 2-2 4 1 2 0 3 4 2 4 2M281 775l-4 0M284 766l1 3-1 2-3 4-3-1-3-1-4 2M280 760l1-2M265 751l0 3M269 750l-4 1M284 766l-3-4-1-2-3-2-4 0-2-2-1-2-1-4 0-3" stroke="#a08484" stroke-width="0.55" fill="none"/>
<ellipse cx="284.1" cy="765.6" rx="2.1" ry="1.4" fill="#ffd8d8"/>
<path d="M326 748l-5 0-2-3-2-3M319 741l-1-3M324 746l-1-2-4-3M326 741l1-3M328 740l3 0M323 743l3-2 2-1M317 741l-1-4M316 739l-3 1M327 752l-1-4-1-1-1-1-1-3-2-2-4 0-1-2M343 754l1-4-1-1M345 753l3-2M345 754l0-1-1-3 2-3M349 751l2-2 0-3M324 754l3-2 3-1 3-1 2 1 1 1 2 2 5 0 2 0 2-2 2-1 4-1 3 1 2 1 2 3M324 759l-2-3M327 759l-3 0M327 760l-2-3M322 764l0 2M325 763l-3 1M329 755l1 2-3 2 0 1-2 3M340 750l2 1M341 744l-2-1M347 743l0-4M349 741l-1-2M338 756l2-3 0-3 1-2 0-4 3-1 3 0 2-2M346 748l-1-2M349 748l2 2M343 749l3-1 3 0 4 0M338 740l-2 3M334 739l0-2M340 740l-2 0-4-1M339 734l4 0M338 736l1-2M336 734l2-3-2-4M324 754l4 0 1 1 2 1 3 1 4-1 2-1 2-2 1-3 0-1 0-3 0-2 0-3-3-1-2-4-2-2-1-1-2 0-4-2M320 751l-1-3M322 751l-2 0-2 2M312 744l-1-3M315 746l-3-2M321 747l-3 0-3-1-3 0M319 744l-3 1 0 1M321 739l-1-1M320 737l-2 2M322 735l-2 2M319 740l2-1 1-4M314 733l-3-1M316 733l-2 0M319 735l-3-2M324 754l-1-2-1-1-1-4-2-3 0-4 0-1 0-4 1-4 0-1 3-2M314 754l-2 0M314 751l0 3M322 749l-3-1-3 1-2 2M335 745l2 0M333 745l2 0M337 748l4-1M337 746l0 2M324 745l5 1 2-1 2 0 4 1 2 0 2 1M344 736l2-2M342 735l2 1M326 743l2-1 4-2 4 0 2-2 4-3 0-2 1-2M331 732l-3-3M331 727l-3 1M331 716l0-2M328 717l3-1M331 733l0-1 0-5-1-4 0-4-2-2M332 730l2 1 3-1 2 1M336 720l-1-1M335 717l-3 0M337 722l-1-2-1-3M346 717l2-1M324 754l-2-2 0-3 1-3 1-1 2-2 3-2 0-3 0-2 2-3 1-3 3-4 2-4 1 0 2-2 3-1 3-2 1 1" stroke="#c08c10" stroke-width="0.55" fill="none"/>
<ellipse cx="324.4" cy="753.9" rx="1.7" ry="1.4" fill="#c08c10"/>
<path d="M294 723l1 1 1 3 2 3 2 2 1 1 2 4 1 5M295 721l4 1 2 1M302 718l-1-4M294 723l1-2 4-1 3-2 4-2M294 727l-2 2M294 723l0 4 2 3 2 3 1 1 2 3 1 4M285 721l3 1M285 723l0-2 0-4M294 723l-4 1-3-1-2 0-1 1-4 1-2 0-2 0" stroke="#157e8e" stroke-width="0.55" fill="none"/>
<ellipse cx="293.5" cy="723.2" rx="2.1" ry="1.2" fill="#157e8e"/>
<path d="M286 779l2 1M274 776l2 3 3 1 3-1 4 0 4 0M264 766l-3-5 0-2M263 756l0-4M260 758l3-2M274 776l-5 0-2-2 0-2 0-2-1-4-2 0-1-3-2-3-1-2 0-3M287 768l0-3M274 776l3-1 3 1 3-2 2-2 2-4 1-2 1-2M274 776l-4 0-4-2-3 1-2 2-1 0-4 1" stroke="#c01818" stroke-width="0.55" fill="none"/>
<ellipse cx="273.7" cy="776.4" rx="2.2" ry="1.2" fill="#ff3a3a"/>
<path d="M329 711l-1-2-1-3M319 704l-1 3M316 705l-3 2M331 712l-2-1-2-2-1-3-4-1-3-1-3 1-3-1M319 711l-1-3M329 714l-3-1-1 0-3-1-3-1-2-2M323 717l1 4M325 715l-2 2-3 1-2 3-2 1M344 732l-1-2M331 712l-2 2-4 1-2 0-1 2 0 2 1 3 0 2 3 3 1 3 0 3 0 2 3 3 2 0 5 0 4 0 2-2 1-4M343 699l3 0M331 712l2-3 1-3 5-2 2-2 2-3 2-2 0-1 2-3 4 0M315 708l-3-4M331 712l-1-2-4-2-4 2-1 0-3-1-3-1-4 0-3 0M329 713l2 4M325 709l-4 1M326 711l-1-2M327 714l-1-2 0-1 1-3M324 717l-1 3M309 718l-1 5M331 712l-2 1-2 1-3 3-3-1-4 1-5 1-3 0-3 0" stroke="#a89020" stroke-width="0.55" fill="none"/>
<ellipse cx="331.1" cy="712.2" rx="1.7" ry="1.3" fill="#a89020"/>
<path d="M343 662l-2-2-1-3M314 663l2 2 4 1 2 1 5-2 2 1 3-2 2 0 3-1 2 1 4-2 2-3 2 0 1-1 3-1M333 647l4 0M314 663l4 0 3-2 3-3 2-1 4-1 2-3 1-3 0-3M327 669l2-2M329 673l2 0M329 670l0 3M334 669l2-2M321 662l1 2 2 3 3 2 2 1 5-1 3 1M336 672l0 3M333 670l3 2M333 667l0 3M314 663l4 0 3-1 3-2 2-1 3 1 2 0 2 1 1 4-1 2-1 1-2 2-3 3-3 2M316 668l-2 2-3 3-3 3-3-1M322 670l2-2M319 670l3 0 2 0M321 675l1 2 2 2M322 674l-1 1-1 3 0 3 1 2-4 3M331 682l1 4M329 681l2 1 3 1M331 685l1-2M336 688l2 4M314 663l3 4-1 1 3 2 1 3 2 1 2 1 2 2 2 2 1 2 2 4 1 2 3 0 1 1 1 4M318 662l1-3 1-2-2-5-1-3M320 661l2 1 4-2 3-2M323 653l1 0 4-2M324 651l3-2M321 653l2 0 1-2 1-4 2-2M324 635l-3 1M326 632l-2 3M328 633l-2-1M327 627l1 0M314 663l4-1 2-1 1-3 0-5 1-1 4-3 1-1 2-3-2-4 1-3-2-2 2-3-1-4 0-2" stroke="#b09a1c" stroke-width="0.55" fill="none"/>
<ellipse cx="314.2" cy="663.1" rx="1.6" ry="1.7" fill="#ffe040"/>
<path d="M261 738l0 1M270 725l-3 1 0 1-1 3-3 3-3 3 1 2-1 3M267 719l2-2 2-5M270 725l-3-1 0-5-2-3-1-2-2-3-1-2M280 729l3 1M283 730l2 3-2 4 0 2M290 734l3-2M292 736l-1 3M293 741l3-1M270 725l4 0 2 1 2 0 2 3 3 1 2 1 2 2 3 1 2 2 0 3 1 2M274 723l0 2 0 2 0 2 0 3M281 721l3 0M276 724l4-1 1-2M282 723l2 2M294 718l-1-3M294 720l0-2M270 725l4-2 2 1 3 1 3-2 3 0 2-1 3-1 4-1 3 2 3 3 3 3" stroke="#157e8e" stroke-width="0.55" fill="none"/>
<ellipse cx="269.9" cy="724.5" rx="1.9" ry="1.5" fill="#157e8e"/>
<path d="M296 847l2 1 2 1 3-1M295 834l2-1M295 832l2 2M294 849l2-2-1-2 0-4-1-1 0-4 1-2 0-2 1-3-2-2M276 858l0-3M274 857l-1 2M294 849l0 2 0 4-2 2-3 2-3-1-2 1-3 0-3-1-2 0-2-1-4 1M304 861l4 1M303 856l0 3 1 2M304 858l-1 1M297 855l4 1 2 0 1 2 1 1 4 4M293 870l1 4M293 867l0 3M299 860l-3 2 0 3-3 2M300 865l1 2 2 0M306 869l0-1M303 870l3-1M300 870l3 0M294 849l3 3 0 3 2 3 0 2 0 3 1 2 1 2-1 3 3 3-1 2" stroke="#a08484" stroke-width="0.55" fill="none"/>
<ellipse cx="294.2" cy="848.8" rx="1.7" ry="1.3" fill="#ffd8d8"/>
<path d="M197 764l0-3M190 764l-1-4M188 764l2 3M204 763l-3 0-4 1-3-2-4 2-2 0M204 767l1 3 3 1 3 0 2 1M207 778l-2 1M210 782l2-1M207 781l3 1M208 792l2 1M209 755l-4 3-1 2 0 3 0 4 1 3 1 2 0 4 1 2 0 3 0 4 0 3 1 4M215 763l-4 1M218 758l-2 1-1 4M218 761l3 0 3-1M226 773l1 1M223 771l3 2M222 769l1 2M209 755l2 0 4 1 1 0 2 2 0 3 4 2-1 3 1 3 0 3M204 742l-2 2M209 741l-2 0-3 1-2-1-4-2M203 730l-4-2M209 755l-1-2 0-2 2-4 0-2-1-4-2-1-3-3 1-4-2-3-1-2 0-4 1-2 2-2" stroke="#c0600c" stroke-width="0.55" fill="none"/>
<ellipse cx="208.9" cy="754.8" rx="1.9" ry="1.3" fill="#ff8a30"/>
<path d="M348 804l-3 2M349 800l-1 4M356 794l-3 3-2 2-2 1-2 2-1 2M356 794l3-3 2-2 1-2M353 793l1-1 1-2-1-3M350 787l2 0M351 782l-1-2M360 775l0 1M357 778l3-3M353 779l4-1M356 794l-3-1-1-3-2-3 1-3 0-2 2-3 2-1" stroke="#c01818" stroke-width="0.55" fill="none"/>
<ellipse cx="355.5" cy="794.3" rx="2.2" ry="1.2" fill="#ff3a3a"/>
<path d="M334 791l3 3M332 792l2-1M334 799l-2-2 0-5 1-2M324 798l-1-4 1-3-2-3M312 786l-2-1M343 797l-4 0 0 3-3-1-2 0-4 1-2-1-4-1-3-2-2-1-2-4-1-2-2 0-2-3-2-2-1-4 0-2M351 788l0-1M343 791l1 0 4-1 3-2M345 781l-2-3M343 786l1-4 1-1M346 777l3-1M343 797l-1-2 1-4 0-3 0-2 0-3 0-2 1-2 2-2M332 823l-3 2M334 827l3 0M337 829l4-1M332 819l0 4 2 4 3 2M327 827l2 2M343 797l-3 3-1 3-1 1 0 5-2 0-2 4-2 3 0 3-1 2 0 1-2 4-2 1-2 2M348 793l-2-4 0-3M346 797l1-2 1-2 3-3-1-3 1-2 0-2M347 789l-2-2M348 797l0-2-1-3 0-3 0-4M358 796l2 2M351 796l3 0 4 0 2 0M358 804l-2 0-2-2M358 805l0 3 1 2M343 797l3 0 2 0 3-1 2 1 3 2 1 3 1 2 0 1 2 3 4 1" stroke="#a08484" stroke-width="0.55" fill="none"/>
<ellipse cx="342.5" cy="797.2" rx="2.2" ry="1.4" fill="#ffd8d8"/>
<path d="M158 839l-4 0M154 837l0-2M158 838l-4-1-2 0M157 832l1-3M155 822l3-1M156 851l1-5-1-2 2-2 0-3 0-1-2-2 1-4-2-4 0-2 0-4M149 870l4 1M147 868l2 2M156 851l-2 3 1 1-1 4-2 4-2 4-3 1-3 3-2 2-2 1-4 2-1-1M159 845l-3 0-2-1M157 838l2-3M156 835l2-3M152 833l-4 1M160 847l-1-2 0-4-2-3-1-3-4-2M172 839l0-2M168 840l4-1M170 836l3 0M168 844l0-4-1-1 3-3M173 834l2-1 1-2M156 851l4-4 4 0 0-2 4-1 1-1 3-4 0-2 1-3 0-1-1-3 1-4 1-3" stroke="#a8a812" stroke-width="0.55" fill="none"/>
<ellipse cx="156.5" cy="850.7" rx="2.0" ry="1.2" fill="#a8a812"/>
<path d="M260 725l3-2M257 726l3-1 4 0M262 718l2 1M254 727l3-1 1-4 3-2 1-2M275 738l-2 2M274 736l1 2M272 738l2-2M246 720l2 4 3 1 3 2 4 1 2 1 3 1 2 1 2 3 3 0 2 4 0 1 1 5 2 0M257 713l2-3M254 714l3-1 3 0M247 721l2-3 4-1 1-3 1-3 0-3 0-3 1-3M253 721l0-4 0-5 1-2M259 725l-1 3-1 1M258 719l0 3 1 3 2 4 0 2 0 3 0 3M265 710l1-2M265 712l0-2-1-3 0-1 5-2M262 702l-2-4M269 703l-3 0-4-1M246 720l1 1 6 0 4-1 1-1 3-2 2-2 2-3 1-1 0-2 2-2 1-4-2-3-1-3 0-3-3-2M243 714l-2-1-3-2-3-2M237 710l0-3M246 720l-2-4-1-2-4-3-2-1-3-1-1-1-3 2-4-2-1-1 0-2-2-2M236 719l-1-3M237 719l-1 0M233 721l0 3 0 2 0 2M241 718l-4 1-4 2-2 2-1 1-3 0-4-1-3-1M238 712l1-2M242 705l2-2M237 713l1-1 3-2 0-3 1-2 2-2 2-2M229 706l-3 2-3 0M210 696l-3-1M246 720l-3-2-2 0-1-3-3-2-1-2-3-3-2-2-2 0-1 1-5-2-3-1-3-1-2-1-3-3 0-2-2-1M238 727l2 1M241 723l-3 4 1 2-2 2M232 712l0-2M245 723l-4 0-3-1-3-1-1-4-2-3 0-2M241 727l3 1 3 1M239 727l2 1 2 3 0 4-1 3M238 731l-3 0-2 1M233 750l-4-1M233 746l0 4M230 744l3 2M226 746l-2 0M246 720l0 2-1 1-4 4-2 0 0 1-1 3-1 2-2 4-1 2-2 3-2 2-4 2" stroke="#c01818" stroke-width="0.55" fill="none"/>
<ellipse cx="246.2" cy="719.6" rx="1.7" ry="1.5" fill="#ff3a3a"/>
<path d="M245 626l-1-3M240 621l-2-2M241 625l-1-4M248 627l-3-1-4-1M242 637l3 2M230 640l-5 1M250 623l-2 4-1 2-1 3-1 3-3 2-3 3-2 0-3 1-2-2-2 1M250 623l0-1-1-3 1-2-1-4 0-3 2-1-2-3M250 623l-2 2-3 2-2 3-3 2 0 4-1 4-1 3-1 3-2 2M251 622l1 3M249 621l2 1 3-2 2 0 5 0M250 623l-1-2 1-4-3-2-2 1-5 0-1 0-1-2-3 0-1-3-3 1" stroke="#d0a0a8" stroke-width="0.55" fill="none"/>
<ellipse cx="249.5" cy="623.3" rx="1.9" ry="1.4" fill="#ffc8d0"/>
<path d="M184 626l-1-2M181 631l2-1 1-4 0-1 1-5M181 631l-1-4-3-3-1-1-3-3 0-3M181 628l-3-2M181 631l0-3-3-3-1-2-2 0-4-3" stroke="#10808a" stroke-width="0.55" fill="none"/>
<ellipse cx="180.9" cy="630.7" rx="1.6" ry="1.5" fill="#10808a"/>
<path d="M114 726l2-1M113 728l2 3M118 733l0 3M114 732l4 1M112 724l2 2-1 2 1 4 0 3M104 737l3 2M103 739l0 3M107 733l-1 3-2 1-1 2M106 736l-4 1-2-1M112 724l-1 3-1 3 0 2-3 1-1 3-2 2-3 2 0 4-2 1M109 719l1-2M104 713l-2-3M106 713l-2 0M112 724l-2-3-1-2-1-2-2-4" stroke="#168296" stroke-width="0.55" fill="none"/>
<ellipse cx="111.9" cy="724.2" rx="1.8" ry="1.6" fill="#40d0e0"/>
<path d="M239 728l-1-4M241 729l-2-1M241 718l0-2M239 720l2-2M243 739l-2-2 1-3-1-5 0 0-3-2 1-4 0-3-1-3M239 743l-3 1-3 0M243 739l-3 1-1 3-3 2-1 3-2 1-1 3M245 742l-1 2M247 744l-1 3M260 749l-2 1M243 739l2 3 2 2 4 1 3 2 3 0 3 2 1 4M245 761l-3 1M241 757l4 4M243 755l-2 2M243 739l2 3 1 2-2 2 1 4-2 3 0 2M249 746l4-1M245 743l2 2 2 1M245 750l-1 2M243 739l2 4-1 3 1 4 2 3" stroke="#157e8e" stroke-width="0.55" fill="none"/>
<ellipse cx="243.3" cy="739.3" rx="2.3" ry="1.3" fill="#157e8e"/>
<path d="M117 766l2-1M118 773l0-2 0-3-1-2M127 766l1-4M121 766l3 1 3-1M122 760l1 0 3-1 5 0 2-1M121 756l-4 1-2-2M121 751l-4-1-3-1M124 744l1 2M117 776l1-3 2-2 0-4 1-1 1-2 0-4 0-1-1-3 0-2 0-3 1-3 0-2 2-2 2-2M108 779l1-2M111 781l-3-2-3-1M105 778l1-3M107 781l-2-3M104 798l-4 0M117 776l-1 1-2 2-3 2-1 1-3-1-2 5-1 2 1 1-1 4 0 3 0 2M101 773l-2-2M103 773l-2 0M94 765l-3-1M106 774l-3-1 0-3-5-1-3-3-1-1-2-1M108 751l-3 0-3 0M117 776l-2 1-4 1-1-1-4-3 0-2 0-5-1-3 1-2 1-4 1-2 0-5 1-3-1-4 1-3-1-4M117 776l2-4 0-3 2-2-1-5 0-3 0-3 0-1M116 786l3 2M119 780l-2 2-1 4-1 2M117 776l1 3 1 1 3 2 3 1 2 1 5-2 3 0 4 0" stroke="#a08c12" stroke-width="0.55" fill="none"/>
<ellipse cx="116.6" cy="776.1" rx="1.8" ry="1.4" fill="#a08c12"/>
<path d="M152 760l-1 3-2 3M148 755l2 2 2 3 3 1 1 2 1 4 3 1 2 0 4 0 3 0 3-1M135 748l-3-3M133 751l2-3M132 750l-1-3M148 755l-1 1-4-1-2 0-4-1-4-3-1-1-2-1-4-2M146 761l-1 3M145 754l1 5 0 2-2 2-3 2M135 758l-1-1-3-4 0-1M117 767l-4-3M148 755l-3-1-4 2-2 1-4 1 0 0-4 1-2 0-2 1-4 1-2 3-3 2-1 1-1 1-4 3M130 742l-3 0M128 740l-3 4M148 755l-1 1-4 1-3 0-2-3-5-3-2-2 1-3-2-4-2-2-1-3 1-4 2-3 1-1 2-3M144 755l-2 3-3 1-1 1-3 1M148 755l-4 0-2 1-3 0-1-2-5-2-2 1-3-2-2-1-4-1-4 0" stroke="#c8c8c8" stroke-width="0.55" fill="none"/>
<ellipse cx="148.2" cy="755.4" rx="1.6" ry="1.4" fill="#ffffff"/>
<path d="M286 746l3 0 2 1 2 0 2-2 2-3 1-1M274 747l-4 0M274 748l-2-1M275 743l-1 4 0 1M273 742l0-2-2-3M286 746l-3-1-5-1-3-1-2-1-5 1-2 0-3-1M284 736l2-3M286 746l0-2 0-3 0-1 0-2-2-2-2-3M276 749l1-3M276 752l0-3M286 746l-3 1-2 2-3 1-2 2-4 0-3 3" stroke="#157e8e" stroke-width="0.55" fill="none"/>
<ellipse cx="285.7" cy="746.4" rx="1.8" ry="1.5" fill="#157e8e"/>
<path d="M98 786l-3 0-3-1-2 1-3 1-4 3M104 795l-2 3 0 2M105 797l3 0 2 2M101 801l-2-2M98 786l3 3 2 2 1 4 1 2-1 4-3 0-4 2-1 0-3 1M101 790l3 2M101 788l0 2 0 2-1 2M109 787l2-2M98 786l3 2 3 0 3 1 2-2 3 0 3-2M96 778l0-3M98 786l-1-2-1-2 0-4-2-1 2-3" stroke="#a87c12" stroke-width="0.55" fill="none"/>
<ellipse cx="98.0" cy="785.7" rx="2.4" ry="1.3" fill="#a87c12"/>
<path d="M112 764l1 4 2 2M109 766l2-1 1-1 3-1 3 1 3 2 2 3 0 3M110 762l2-3 1-2M118 755l0-2M109 766l1-4 1-1 3-3 1-1 3-2M104 768l-2 2M109 766l-3 1-2 1-3 0-2-1M119 744l0-3M122 751l-1-3-2-4M128 755l2 0M109 766l2-3 2-2 1-2 1-1 3-2 1-3 3-2 2-1 3 1 1 4" stroke="#a08c12" stroke-width="0.55" fill="none"/>
<ellipse cx="109.2" cy="766.4" rx="1.8" ry="1.3" fill="#a08c12"/>
<path d="M321 737l0 1-3 2-2 2-3 2-2 3-2 1-3 1 1 2M317 729l-4-1M315 731l-1-2M321 730l-4-1-2 2M317 726l0-3M320 726l-3 0M322 732l-1-2-1-4-2-2-2-2-2-4M321 737l0-2 1-3 2-1 2-3-1-2-2-4 0-2-2-4 0-3-2-3 0-4M326 745l2 2M327 738l0 4-1 3-1 2M335 748l1-2M321 737l2 0 3 0 1 1 3 2 1 1 1 4 3 3 2 2M328 743l-1 3M322 739l1 1 5 3M328 749l1 4M321 737l1 2 0 3 0 4 3 2 3 1 4 0" stroke="#c08c10" stroke-width="0.55" fill="none"/>
<ellipse cx="321.3" cy="736.9" rx="1.6" ry="1.4" fill="#c08c10"/>
<path d="M256 669l-4 1M257 671l-1-2M251 677l-1 1M260 670l-3 1-2 2-3 2-1 2M253 675l0 2 2 3M266 670l-3-1-3 1-3 1-1 1-3 3 0 2-1 2-3 3 1 4 0 1 0 4M253 670l4-3M252 668l1 2M261 668l-3-1-4-1-2 2-4 0M251 667l-2 1M248 667l-2 2M246 666l-1-3M255 667l-4 0-3 0-2-1M249 663l1 3M255 664l-3-2-3 1M244 660l0 3M242 659l1-3-1-2M233 657l-2 3M247 660l-3 0-2-1-2-1-4 0-2-1-1 0M245 659l-2 4-2 0M234 652l-1-2M228 645l-4-1M228 642l-1 1M266 670l-3-1-2-1-3 0-3-1 0-3-5-2-3-2-2-1-4-1-2-2-1 0-2-2-2-2-2-2-2-2-2-3 0-3M258 679l-1-3-2-5M266 670l-1 1-2 2-3 3-2 3 0 2 1 4-2 2-1 3" stroke="#168296" stroke-width="0.55" fill="none"/>
<ellipse cx="266.1" cy="670.0" rx="2.3" ry="1.5" fill="#40d0e0"/>
<path d="M112 780l3 1 3 1 3 1M105 788l-2-4M102 788l-4 2M108 788l-3 0-3 0M101 791l-1 2 0 2M92 791l1 2M93 790l-1 1M113 774l1 4-2 2-3 4 0 3-1 1-4 2-3 1-1 0-4-1-3 0-3 2M111 783l4 3M110 783l1 0M110 776l0 5 0 2M106 781l3 4 1 3M106 786l2 2M106 790l-2 3M113 774l-3 2-1 1-3 4-1 2 1 3-1 2 1 2M113 774l4 2 4-2 2 0 1 0 3-3 2-3 3-1 3-4" stroke="#a08c12" stroke-width="0.55" fill="none"/>
<ellipse cx="113.4" cy="774.4" rx="1.7" ry="1.6" fill="#a08c12"/>
<path d="M137 707l-4 2M138 707l-1 0M141 704l-3 3-2 2M145 714l2-3M140 711l3 2 2 1 3-2 4 1M143 720l0 2M138 718l1-3M141 722l-3-4M141 713l2 3 0 4-2 2M155 727l2-1M140 699l1 4 0 1 0 5-1 2 1 2 3 2 1 3 0 2 2 2 3 2 3 2 2 1 2 4 0 3M133 698l-1 1M139 701l-3 0-3-3M132 707l-4-1-2 1M140 699l-1 2-1 1-3 3-3 2-2-1-2 0-3 2-1 0M111 703l-3-2M140 699l-1 3-3 1-4-1-3-1-4 1-4 2-3-1-3 1-4-1" stroke="#1a8ca8" stroke-width="0.55" fill="none"/>
<ellipse cx="140.3" cy="698.6" rx="2.3" ry="1.2" fill="#1a8ca8"/>
<path d="M174 706l2 1M174 710l0-4 0-2M183 710l0-3M185 711l0 2M172 710l2 0 3 0 6 0 2 1M172 702l3-2M174 704l-2-2-1-2-3-1M177 693l-2-1-3-1M179 690l2-2 3 0M172 712l0-2 2-5 0-1 1-4 0-4 2-3 2-3 2-1 1-4 0-3M183 703l3 1M172 712l3-1 0-2 5-1 1-1 2-4 3-1 2 0 2-2M177 701l2-3 2-1M177 703l0-2-1-3-2-3-2-1M172 712l0-3 2-3 0-2 3-1 5-1 3 1 3 0 4 3 3 2 2 1 4 4-1 3M172 712l4 1 1 4 2 3 1 2 3 3M166 718l0 3M173 715l-5 2-2 1M172 712l1 3 1 3 1 4 0 1 2 4" stroke="#c0600c" stroke-width="0.55" fill="none"/>
<ellipse cx="172.3" cy="712.3" rx="1.6" ry="1.5" fill="#ff8a30"/>
<path d="M199 829l-2-2M205 825l-4 0M204 827l1-2M196 833l2-2 1-2 2-1 3-1M196 851l-2 1M196 833l0 3 1 5 1 3-1 2-1 2 0 3M196 837l4 2 2-2 3-2 3-2M201 837l3-4M198 839l3-2M212 839l2-2 1-4M221 832l-2-2M196 833l0 4 2 2 5 1 4-1 2 0 3 0 3-1 3-2 2-1 1-3M184 823l0 4M187 822l-3 1M191 822l-4 0M196 833l2-3-2-2-2-3-3-3-2-4-3-1-5 1M191 843l-2-1M194 842l-3 1M190 850l1 3M196 833l-1 3-2 3 1 3 0 3-1 3-3 2" stroke="#8a6a6a" stroke-width="0.55" fill="none"/>
<ellipse cx="196.2" cy="833.4" rx="2.0" ry="1.3" fill="#8a6a6a"/>
<path d="M249 769l-2 1M249 766l0 3-2 4M241 761l2 2 3 2 3 1 1 2 1-1 1 3 0 4M243 760l4-2M239 748l-3 1M241 750l-2-2M246 758l-1-2-2-2-2-4M257 761l1-3M254 763l3-2M250 757l1 3 3 3-2 2M250 763l3 1M241 761l2-1 3-2 4-1 1 2 1 2-2 2-2 2-3 2M241 772l4-1M253 779l-1 2M248 780l5-1M241 761l-1 4 0 1 0 3 1 3 1 3 2 3 1 1 3 1" stroke="#5a1aa0" stroke-width="0.55" fill="none"/>
<ellipse cx="241.1" cy="761.0" rx="2.3" ry="1.3" fill="#9050ff"/>
<path d="M188 649l2 2M190 655l4 2 3 1M186 637l-1 4 1 3 1 4 1 1 1 3 1 3 2 3 0 3-1 4-1 2M206 633l-3 2M202 631l4 2M206 630l2 1M208 629l2 1M186 637l4 0 2-1 3-1 4-2 2-1 1-1 4-1 2-1 4-3M182 630l-1-2M179 632l3-2M180 635l-1-3 0-1-3-2M179 635l0-3M186 637l-2-1-4-1-1 0-1-1-5-3-1-1-1-2M189 634l3 2 1 3M186 637l3-3 0-1 4-2 3-2 2-2 3 0 1-2-1-3M186 637l1 3 1 1 4 1 1 1 4 3 0 1 4 2" stroke="#10808a" stroke-width="0.55" fill="none"/>
<ellipse cx="185.5" cy="637.2" rx="2.0" ry="1.7" fill="#10808a"/>
<path d="M218 790l2 1M218 793l0-3M218 791l0-4M219 791l-1 0M227 786l0-3M224 787l3-1M222 787l2 0M210 810l1-2 1-4 0-1 2-1 2-3 2-2 0-4 1-2 1-4 2 0M215 802l1-2M219 801l0-1M210 810l0-3 3-2 2-3 4-1 3 0 2-2M212 826l3 1M214 831l2 1M210 810l3 0 2 4-1 4-2 4-1 1 1 3 1 2 1 3 2 2M213 809l2 1 5-1M219 809l1 2M221 808l1-2M210 810l3-1 3 1 3-1 2-1 2-3 2-3M200 809l-2 3M210 810l-3 1-2-2-5 0-1-2-1-3-3-3-1-1-4-2" stroke="#8a6a6a" stroke-width="0.55" fill="none"/>
<ellipse cx="209.6" cy="809.7" rx="2.0" ry="1.4" fill="#8a6a6a"/>
<path d="M178 738l-4 0M180 741l-2-3M177 743l-3 4M195 733l-3 2-3 1-3 1-2 2-1 0-3 2-3 2-2 2-3-1M189 744l-3 2-3 2 0 3-1 3M186 761l3-1M185 759l1 2M191 749l-1 3-4 3-1 4-1 1M197 763l1 1M191 759l3 2 3 2 2 2 2 1M190 764l-1 2-1 3-1 2M198 775l1-1M195 776l3-1M195 733l-3 2-2 2-1 4 0 3 1 3 1 2 0 3 0 4 0 3-1 5-1 2 1 2 2 3 2 3 1 2M188 734l-3-1M191 732l-3 2-3 0-3 2M183 739l4-2M195 733l-4-1-1-1-5 0-2 0-2 3 0 2 2 3 2 0 2 2M192 731l1-4 2-2-1-2 2-3M190 727l4-2M190 729l0-2M195 733l-3-2-2-2-4 0-5 0-1 1-2 1-3 1M199 727l-2-2-2-1M195 733l1-4 3-2 1-3 2-3 2-3 3-3 2-2" stroke="#c0600c" stroke-width="0.55" fill="none"/>
<ellipse cx="194.9" cy="733.0" rx="1.9" ry="1.5" fill="#ff8a30"/>
<path d="M173 867l-3-2M183 841l0 2-1 4 0 4-2 3-1 2 0 3 0 4-2 3-4 1M187 844l-1 4M186 840l1 4 3 2M188 840l2 2 3-1 3-2M192 840l2-3 3-1 4-3M183 841l3-1 2 0 4 0 3 1 2 2 4 1 2 1 3 1 1 3M188 834l0-4 1-2M189 835l3-1M197 840l0 3M183 841l0-3 2-4 3 0 1 1 4 0 3 4 1 1M166 842l0 3M182 843l-4-2-2 0-4-1-4 2-2 0-2-1M180 843l-2 2-2 2-3 2M174 846l-1 3 0 3M161 854l-4-3M164 854l-3 0M162 853l-4 1M166 856l-2-2-2-1M163 870l4 1M183 841l-1 2-2 0-2 1-4 2-2 1-1 2-4 3 1 2-2 2-3 3 1 2-3 5 2 4" stroke="#6c9c1c" stroke-width="0.55" fill="none"/>
<ellipse cx="182.8" cy="840.9" rx="2.4" ry="1.3" fill="#c8f040"/>
<path d="M150 687l2 3M147 686l3 1 4 0 4 1M149 694l0 3 1 2M145 698l-1-3M147 697l-2 1M150 689l0 2-1 3-2 3 3 2 3 3 0 3M147 710l3 0M147 706l0 4M145 708l-2-5M151 705l-4 1-2 2-3 0M153 719l2-1M146 684l1 2 3 3 1 4-1 2 1 2 1 2 0 3-1 3-1 3 0 3 1 4 0 3 2 1M151 670l0-3M155 668l0 4M152 667l3 1M146 684l-2-4 0-2 1-2 3-2 1-1 2-3 1-3 1-3M142 683l-3 2M143 682l-1 1-2 4-3 1M140 677l-2 0M140 680l0-3M123 672l2 1M121 673l2-1M123 677l-2-4M146 684l-3-2-3-2-5-1-2 0-2-1-3-1-5 0M142 694l-1 2M142 696l-2 2M143 692l-1 2 0 2M145 695l-3 0M144 698l-1 1M146 684l0 3-2 2-1 3 2 3-1 3 2 2 0 2" stroke="#1a8ca8" stroke-width="0.55" fill="none"/>
<ellipse cx="145.6" cy="684.1" rx="2.1" ry="1.4" fill="#1a8ca8"/>
<path d="M155 671l1-1 3-2 3-2M154 667l1-4-3-2M149 665l0-3M145 662l-1-3M144 659l-2-1M155 673l0-2 0-2-1-2-4-1-1-1-4-3-1-3 0-2-1-2M160 668l0-5M155 673l2-3 1-3 2 1 2-3 3-1M157 676l4 0 2 0M155 674l2 2 4 0 3-3 3-1 0-4M152 681l-4 2M144 688l0-2M146 691l-2-3M152 686l-3 3-3 2M148 691l-2-3M150 692l-2-1-3 2M145 696l1 4M155 673l0 1-1 5-2 2 1 5-1 0-1 4-1 2-3 0-2 4-1 1M166 662l3 0M168 659l-2-4M166 661l2-2M155 673l1-1 4-2 1-4 2-3 3-1 0-1M157 669l3 1M160 667l-1-3M165 666l1-2M163 665l2 1M152 671l2-1 3-1 3-2 3-2M149 670l0-4 0-3M139 677l-3-1-2-1M133 684l-4-1M155 673l-3-2-3-1-2 0-2 2-3 3-3 2-2 2-3 3-1 2-2 1" stroke="#1a8ca8" stroke-width="0.55" fill="none"/>
<ellipse cx="154.9" cy="673.1" rx="1.9" ry="1.3" fill="#1a8ca8"/>
<path d="M202 858l0 1-2 4M202 848l4 0M197 856l1-3 0-3 3-2 1 0M190 854l-2 4-1 1-5 1M207 858l-5 0-2-1-3-1-4-1-3-1-4 0-2 0-3-2-4-2-2-2M216 851l2-1M209 859l3-3 3-3 0-2 1 0M228 858l-1-3M207 858l2 1 3 0 4 0 3 1 2 0 3-2 4 0M212 855l2-3M213 859l-1-4M208 860l3-1 2 0 4 0 4 1M216 878l-4 1M207 858l1 2 1 3 1 3 1 3 2 2 2 4 1 3M210 860l1-2M225 863l3 0M230 862l1 3M207 858l3 2 3 3 3 0 3 0 3 1 3-1 0-1 5 0M202 853l0-2M206 854l-2-1-2 0-4-1M204 846l-2 2M205 848l-1-2-3-1M208 843l2-2 2-3M207 858l-1-4-2-2 0-2 1-2 2-3 1-2 2-3 2-2 0-4 1-2 1-3 2-3" stroke="#c01818" stroke-width="0.55" fill="none"/>
<ellipse cx="207.0" cy="857.8" rx="2.0" ry="1.4" fill="#ff3a3a"/>
<path d="M261 689l-4 1-3 0-3 2M253 689l-2 1M252 686l-4 1M255 693l-1-2-1-2-1-3M263 688l-2 1-2 3-4 1-3-1-3 1-5 2-1 2-5 3-2 1M268 698l1 1M269 690l0 2 0 3-1 3M274 692l-2 3-2 2M277 693l2-3M285 693l-1-4M263 688l3 0 3 2 3 1 2 1 3 1 2 2 5-1 1-1M266 704l1 2M264 703l2 1M263 688l1 2-2 3 1 1 1 4 0 4 0 1M262 692l-2-1M257 692l-3 2M261 694l-4-2M258 699l0 1M258 697l0 2M264 691l-2 1-1 2-3 3M274 697l-1-2 1-3M277 697l2 3M263 688l1 3 2 2 1 3 3 1 3 1 1-1 3 0 2 1 3 0 3 1" stroke="#158592" stroke-width="0.55" fill="none"/>
<ellipse cx="262.5" cy="687.7" rx="1.7" ry="1.6" fill="#158592"/>
<path d="M288 655l0 4M280 654l3-2 3 2 2 1 3 4 1 4M288 640l-3 1M289 647l0-4-1-3M293 643l-2-5M297 637l2 2M280 654l2-3 2-1 2-1 2-1 1-1 3-3 1-1 2-3 2-3M280 654l-4 1-3-2-2-1-2-1M281 661l-3 3M280 654l1 3 0 4 2 3-3 2 0 3-2 4 1 2-2 4" stroke="#168296" stroke-width="0.55" fill="none"/>
<ellipse cx="279.7" cy="654.4" rx="1.9" ry="1.5" fill="#40d0e0"/>
<path d="M81 672l0 2-3 3-3 1 0 4-2 4M89 679l2 0M94 684l2 2M89 674l0 3 0 2 2 2 3 3 3 0M81 672l4-1 2 1 2 2 2 3 0 3 0 4 0 2 0 3 2 3 0 2 1 2M81 672l-2 2-3 2-3 2-3 1-2 3" stroke="#b88c10" stroke-width="0.55" fill="none"/>
<ellipse cx="81.0" cy="671.9" rx="1.6" ry="1.6" fill="#b88c10"/>
<path d="M196 855l1-3M191 864l1-3 0-3 2-2 2-1M194 862l2 1M203 864l2 0M198 860l3 2 2 2M204 859l0 4M209 860l2 2M187 865l4-1 3-2 2 0 2-2 4 0 2-1 2 2 3-1M183 874l-3-1-2-2M182 875l0 3M182 877l2 2M187 865l-1 4-2 3-1 2-1 1 0 2M183 858l-1 3M181 856l2 2M180 859l1-3 3-2M178 853l-3-2M187 865l-2 0-2-2-1-1-2-3-2-3 0-3-2-3M190 859l3 2M189 852l-4 0M193 855l-4-3M193 858l0-3-2-4M187 865l2-3 1-3 3-1 2-3 2-1 2-1 1-4 3-1" stroke="#5a40b0" stroke-width="0.55" fill="none"/>
<ellipse cx="187.1" cy="865.1" rx="1.7" ry="1.6" fill="#5a40b0"/>
<path d="M158 718l3-3M158 722l0-4M165 733l0-5-1-2-3-2-1-2-2 0M185 737l0 3M176 735l4 0 1 1 4 1M180 746l1 0M183 741l-1 2-2 3M185 744l2 0M162 734l3-1 2-1 2-1 4 1 3 3 2 2 2 2 3 2 2 3 2 1 0 3M154 733l1 4M157 732l-3 1M153 729l-1-4M155 731l-2-2M159 734l-2-2-2-1-4-1M145 734l1 3M162 734l-3 0-2 1-4-2-1 0-6 1-1 0-3 1-3 3-3 1M156 729l-3-4-1-3M143 734l-2 2M147 736l-4-2M158 727l-2 2-3 3-2-1-1 1-3 4M148 720l-1 1M151 723l-3-3 0-1-5-1-4 2M134 714l0-3M145 722l-3-2-3-3-1-1-4-2M145 716l2-2M142 716l3 0M146 713l1 0M141 718l1-2 2-2 2-1M140 713l3 2M139 714l1-1M139 716l0-2M130 711l-1-2M162 734l1-3-4-2-1-2-3-2-3-2-1 0-4 0-2-1-1-3-3-1-2-2 0-3-2-1-4-1-3 0-1-1M172 722l3 1M160 730l3-1 4-1 2-3 3-3 3-2M157 715l3-2M153 713l0-3M157 718l0-3-4-2M155 715l-2 0M149 712l0 3M152 711l-3 1M162 734l-2-4 1-2 2-3-1-3-1-2-4-2-1-1-1-2-1-2-2-2-1-3-3-2M158 735l-2-2-3 0M153 737l-2 0-3-1M162 734l-4 1-1 0-4 2-1 2-1 4-3 3 0 3-1 3-2 3 0 3" stroke="#c0600c" stroke-width="0.55" fill="none"/>
<ellipse cx="161.9" cy="733.7" rx="2.1" ry="1.4" fill="#ff8a30"/>
<path d="M274 794l2-2M281 799l-2-1-3-1-2-3-1-4M275 799l-2-3M277 802l-2-3M281 799l-4 3-2-2-2-1-4-1-2 0M280 795l1-2-1-3M275 792l-3 2M281 799l0-2-1-2-1-2-4-1-3-3-3 3M280 794l2-2M277 788l0 2M281 787l-4 1M281 799l0-2-1-3 1-2 2-3-2-2 0-4-1-1-1-3M286 800l3 1M283 800l3 0 2-3M286 803l-3 0-2 2-4 0-3 1M281 820l-3 0M281 799l2 1 3 3 1 4 0 3-1 1 1 2-1 4-3 1-2 2" stroke="#6c9c1c" stroke-width="0.55" fill="none"/>
<ellipse cx="280.5" cy="798.7" rx="2.0" ry="1.7" fill="#c8f040"/>
<path d="M215 848l4 1M220 841l2-2M213 855l1-4 1-3 1-1 4-3 0-3-1-2M215 869l3-2M213 855l0 2 0 4 0 1 1 4 1 3 2 4M213 855l-3-3 2-4-1-3 2-1 2-1 1-2 1-2-1-4 0-2-1-3 1-4" stroke="#4a7a20" stroke-width="0.55" fill="none"/>
<ellipse cx="212.5" cy="855.3" rx="1.6" ry="1.5" fill="#4a7a20"/>
<path d="M171 635l3-2M160 625l2 3 2 3 4 1 2 3 1 0 3 3-1 4 1 2M165 616l-1-3M164 624l0-2 1-3 0-3 2-3 1-1 1-4M167 629l-2-1M169 628l-2 1M168 626l1 2 0 4M160 625l4-1 2 1 2 1 2 0 3 0 3 1 2 2-1 3 2 2 4 0 4 2 2-2M163 633l2 0 3 3M166 639l2-2M164 637l2 2 1 3M162 630l1 3 1 4 2 2 2 2 3 2 2 1 3 1M167 628l2 0M165 630l2-2 1-2 4-1M166 631l4 2 3 1 4-1M172 633l3-2 2-2M181 629l2 3M160 625l2 5 3 0 1 1 4 1 2 1 4-2 2 0 3-2 2-2 3-3 2-1 4 1M164 634l-3 4M159 631l2 2 3 1M164 637l2 0M162 639l2-2M165 641l3-1M159 637l3 2 3 2 0 2 2 5M158 640l3 1 4-1 4-1 3-1M156 643l-2 0-5 0-3 1-3 3-3 1M155 649l-2 2M156 651l0 3M160 625l1 2-2 4 0 2 0 4-1 3-2 3-2 1 1 2-1 2 1 1 1 2 2 2 4 0 1 2" stroke="#b88c10" stroke-width="0.55" fill="none"/>
<ellipse cx="160.3" cy="625.3" rx="2.1" ry="1.3" fill="#b88c10"/>
<path d="M184 739l-3 3M186 739l-2 0M182 747l1-1 1-5 2-2M187 750l-3-1-2-2-4 3-2 0-2 1-4 0-3 2-4-1-1-1-1-3M185 751l0 1-3 2-3 4 0 2-2 2M177 774l3 3 2 1M177 787l-2 1-2 3M187 750l-2 1-2 3-1 2-3 3 0 2 1 5-1 3-2 4 0 1 1 5-1 2 0 6 0 2-1 2 0 1-2 2M195 755l0-4M192 755l3 0M187 750l1 2 3 2 1 1 3 3 2 0 4 3 2 2M186 753l-1 1 2 4-1 2-2 4M183 771l-1-2M187 750l-1 3-1 3 0 3 0 5 1 1 0 2-2 2 0 2-1 0-1 3M206 743l-1-3 2-1M211 743l0 3M209 742l2 1 3 2M213 740l1 2M213 739l2-2M187 750l4-1 2-1 1 0 3-2 4 0 2-1 3-2 3-1 4-2 0-1-1-2" stroke="#c0600c" stroke-width="0.55" fill="none"/>
<ellipse cx="187.5" cy="750.1" rx="1.6" ry="1.3" fill="#ff8a30"/>
<path d="M215 762l3 1M213 760l2 2 3 1 2 2M218 755l5 1 2 1M220 754l-3-2-3-2M222 751l3 0 1-2M223 744l2-2M222 742l-1-2M211 761l2-1 4-3 1-2 2-1 2-3 2-4-1-3-1-2M220 749l0-3M221 751l-1-2-2-2M211 761l2-2 2-2 2-3 4-3 2-2 1-1 0-2 2-2 2-4M205 755l-2-2-3-3M211 761l-1-2-4-3-1-1-2-2-3-2-2-1-2-3M210 751l0-1-5-2M211 749l-4-2M211 742l-2 0M211 761l3-2-2-4-2-4 1-2 0-3 0-4-2-3-2-1-2-4M218 756l3 1M216 758l2-2 0-5M222 758l2 2M211 761l2-2 3-1 4 1 2-1 2-1 2-1" stroke="#d02020" stroke-width="0.55" fill="none"/>
<ellipse cx="211.2" cy="760.6" rx="1.8" ry="1.3" fill="#d02020"/>
<path d="M161 729l-1 2-2 2 0 2 1 3-3 2-2 3-2 3-3 1-1 2M161 740l2 3M161 737l0 3 0 4M161 729l0 1 1 5-1 2 2 5 1 3 3-1 2 1M161 729l-3-3-2-2-2-2-1-1M164 731l-3 3M161 729l3 2 4 2 3 2 2 1M167 733l1-2M164 733l3 0M166 737l-3 4M164 736l2 1M166 739l2-1M164 729l0 4 0 3 2 3M183 724l4 3M161 729l3 0 1 2 4 0 3 0 3-1 2-2 2 0 2-1 2-3" stroke="#c8c8c8" stroke-width="0.55" fill="none"/>
<ellipse cx="160.7" cy="728.8" rx="2.4" ry="1.4" fill="#ffffff"/>
<path d="M239 678l3-3 1-3 2-2M250 690l-1 3M244 688l2 2 4 0 1 2M242 689l-2-3M244 690l-2-1-4 0-3-1M243 696l3 0M243 699l-3 2M237 676l2 2 1 3 2 2 0 4 2 1 0 2-2 4 1 2 0 3 2 2 4 3M236 690l3 1M233 679l0 2 0 4 2 2 1 3M232 689l2 0 2 3M234 696l-3 1-2 1-4 0M232 698l2 1 2 0 3 2M237 676l0 1-4 2 0 3-2 2 1 2 0 3 1 3 1 4-2 2-2 2-3 4-2 3 0 1 0 3M244 667l3-1M244 670l0-3-1-4 0-3 2-1M241 663l1-2 2-3M239 662l-2 2M235 662l-2 0M237 676l2-3 3-1 2-2 2-4-1 0-4-3-2-1-4 0-1-1-3-1" stroke="#6020a0" stroke-width="0.55" fill="none"/>
<ellipse cx="236.7" cy="675.8" rx="1.8" ry="1.5" fill="#6020a0"/>
<path d="M259 620l0-4-1-2M249 617l-1-2M247 615l1-3M243 611l-1 0M254 620l-2-1-3-2-2-2-1-1-3-3M241 637l1 2M272 624l-3-1-2-1-4 0-2 0-2-2-5 0-2 1-2 2-2-1-3 3-1 3-1 3-1 2-1 4-2 0M285 611l-1-1M279 614l2-2 4-1 3-1 3-1M272 624l1-2 5-1-1-4 2-3-1-2-2-2-2-3M261 618l1-2 3-3M253 611l-1 2M255 611l-2 0M261 615l-1 0-5-4M264 610l-1-1M272 624l-5-1-2-1-2-2-2-2 0-3 0-1 1-3 2-1 4-3 3 1 2 0 1 2 2 1" stroke="#168296" stroke-width="0.55" fill="none"/>
<ellipse cx="271.6" cy="624.5" rx="1.8" ry="1.5" fill="#40d0e0"/>
<path d="M150 697l2-1M153 704l-3-3-2-2 2-2M149 686l-2 2M152 690l-3-4M146 678l-3 0M148 679l-2-1M152 680l-4-1M155 709l-2-1 0-4-1-2 0-3-1-3 0-2 1-4-1-2 0-5 1-3M157 700l-3-1-4 1M159 696l-2-2M155 709l0-3 1-3 1-3 1-1 1-3 2-2M157 718l-2-3M161 713l0 4-4 1 0 2M157 726l-2 2M159 720l0 2-2 4M150 717l-3 2M152 716l-2 1M162 718l-3 2-3-3-4-1-4 0-2 1M163 724l5 1 1 1 3 0M168 737l0 3M155 709l2 2 2 0 2 2 1 5 0 3 1 3 0 3 1 3 1 3 1 1 2 3 2 1 1 1M155 709l3 1 3 4 3 1 2 3 4 2 1 1" stroke="#c8c8c8" stroke-width="0.55" fill="none"/>
<ellipse cx="154.7" cy="709.2" rx="1.5" ry="1.4" fill="#ffffff"/>
<path d="M201 704l2 2M202 702l-1 2M194 697l3 2 3 1 2 2 2 3 2 1 1 1M189 713l-3 2M187 718l3 2M193 694l1 3-1 3 0 3 0 2-2 1-2 3 0 4-1 3-1 2 2 3 1 2M185 694l1 3 0 4M193 694l-3-2-2 1-3 1-4 1 0 2-3 3M200 684l2-3M198 691l0-3 2-1 0-3M200 688l3 0 4 0 3 0M203 683l-3-1M204 685l-1-2-3-3M214 681l3-2M211 683l3-2M208 682l3 1 3 5 2 0M211 679l-2-3M215 669l0-4M193 694l2 0 2-2 1-1 2-3 1-1 3-2 4-3 3-3 1-3 0-2 1-2 2-3 2-1" stroke="#c0600c" stroke-width="0.55" fill="none"/>
<ellipse cx="192.6" cy="693.6" rx="1.7" ry="1.6" fill="#ff8a30"/>
<path d="M282 763l-1-3M276 759l-3-2M285 763l-3 0-2-4-4 0M272 780l3 0M269 773l2 3 1 4M288 761l-3 2-1 1-4 2-2 2-1 1-2 2-4 1-2 1-2 0-3 2-2 1-2 1M293 766l3 1M292 766l1 0M294 774l4-1M288 761l2 4 2 1 3 2 0 3-1 3 0 4 0 1M295 763l-1-4 0-1M299 769l-3-1M288 761l3 2 4 0 3 2 0 2 1 2 1 4-4 4" stroke="#168296" stroke-width="0.55" fill="none"/>
<ellipse cx="288.2" cy="761.4" rx="1.6" ry="1.7" fill="#40d0e0"/>
<path d="M306 774l4 3M303 776l3-2M301 776l2 0M279 794l3 0 4 0 3-3 2-1 2-2 1-1 2-2 1-5 2-1 2-3M275 796l0 3-1 3M270 798l-1 2-2 2M263 803l2 2M264 801l-1 2M279 794l-1 2-3 0 0 1-2 1-3 0-2 2-4 1-2 2-2-1M281 800l4-1 2 0 3 1 2-3 3-3 0-2 2-2M296 834l-1 2M279 794l1 4 1 2 2 3 2 2 0 3-1 4 1 3 0 4 1 2 1 3 2 4 2 1 3 1 2 4 1 3M291 794l3 0 1 1M295 799l2 0M295 801l2 3M279 791l4 0 2-1 3 2 3 2 3 1 2 2-1 2 0 2M274 774l-1 0M277 778l-1-2-2-2-2-3-2 0M278 774l-3-2M279 776l-1-2M285 766l1-3 0-1M279 794l0-3 0-3-1-2 0-3-2-1 1-4 2-2 2-5 2-1 1-3 1-1 3-2 0-2 3-2 0-2M269 797l-1-2M267 795l-2 0M271 800l-2-3-2-2-1-2 1-2M272 807l1-3M270 808l2-1M266 800l3 3 1 5 1 1M264 803l-1 1M260 803l2 3M262 801l-2 2M255 800l-3 0M279 794l-3 3-2 1-3 2 0 0-3-1-2 1-2 3-2-2-3 0-4-1-2-2" stroke="#6c9c1c" stroke-width="0.55" fill="none"/>
<ellipse cx="279.3" cy="794.3" rx="1.6" ry="1.5" fill="#c8f040"/>
<path d="M296 704l2-2M294 709l1-3 1-2M279 722l-3 0M283 721l-4 1M287 710l-1 2-2 3-1 2 0 4M277 708l1-2M281 708l-2 1-2-1M280 706l-5-1M275 699l3-2M303 711l-4 0-3-1-2-1-2 1-5 0-3 1-3-3-1-2-2-2-1-3-2-2M304 713l0 3 0 3M309 725l-5 1M309 723l0 2M315 731l2-3M310 729l5 2M303 711l1 2 2 3 3 2 0 2 0 3 2 2-1 4 0 3M304 702l-2 2M307 704l-3-2M304 706l2-2 1 0 2-3M296 694l-3-1M298 698l-1-2-1-2-1-4M298 693l4 1M296 696l2-3M295 698l1-2 1-5M303 711l0-2 1-3-1-3-2-3-3-2-3 0-3 0-1 1-3 1-2 2-2 2" stroke="#a89020" stroke-width="0.55" fill="none"/>
<ellipse cx="303.0" cy="711.4" rx="2.0" ry="1.4" fill="#a89020"/>
<path d="M261 677l0-1M264 679l-3-2-1 0M263 673l0-3M266 665l-2-2M267 663l2 1M265 686l-1-4 0-3-2-3 1-3 1-3 0-1 2-4 1-2 2-3M270 685l2 4 1 0M279 689l-1 3M265 686l3 0 2-1 4 0 2 1 3 3 2 2M267 689l-2 2M275 692l3-1M272 693l3-1M274 693l1 2M269 693l3 0 2 0M272 693l4 0M275 701l3 0M274 700l1 1M265 686l2 3 2 1 0 3 3 0 1 4 1 3" stroke="#158592" stroke-width="0.55" fill="none"/>
<ellipse cx="264.6" cy="686.2" rx="2.1" ry="1.5" fill="#158592"/>
<path d="M293 752l-2-1M295 751l0-2M292 756l1-4 2-1 0-5M295 755l2-3M295 756l0-1M301 759l0 4M289 757l3-1 3 0 2 1 2 0 2 2 1 2 1 3M301 756l4 1 1 2M289 757l5 1 2 0 3-2 2 0 3-4 3-1 3-1 2-1 1-4M289 757l2 3 1 3 3 1 2 1 2 0 3 4 0 2 3 4M297 742l3-2M291 751l3-4 1-1 2-4 1-2M291 743l3-1 3 0M299 735l-2-3M297 737l2-2M291 753l0-2-1-3 1-5 0 0 3-3 3-3 0-2M297 760l-1 0M301 761l-1 3M294 751l1 3 2 3 0 3 4 1-1 3 1 4M300 737l2-1 4 0M295 727l-2-2M289 757l2-4 3-2 3-1 2-1 1-2 1-4-1-2 0-4-2-1-1-4-1-1-2-2 1-2M295 743l-2-3M290 751l2-3 2-2 1-3-1-3M289 736l1-2M285 735l4 1M288 739l-2-2-1-2M288 736l2-1 2 0M289 734l2 0M286 729l-2-2M287 730l-1-1M289 757l1-4 0-2-1-2 0-3-1-4 0-3 0-3 1-2-1-2-1-2" stroke="#168296" stroke-width="0.55" fill="none"/>
<ellipse cx="289.4" cy="756.9" rx="2.0" ry="1.5" fill="#40d0e0"/>
<path d="M159 736l1 3M159 746l-2-1M163 747l-4-1M168 746l-5 1M139 724l0 2 1 3 1 2 2 1 3 2 4-2 3 2 2 2 4 0 2 2 2 3 1 0 2 4 2 1M129 708l-4-1M131 715l1-3-3-4 0-2-1-1M110 697l2-3M139 724l-1-4-1-1-2-2-2-1-2-1-1-2-2 0-2-4-4-2-3 0-3-3-3 0-1-5-2-2-1-4 1-2 2-3 2-3M135 717l-2 2-2 1M134 707l-1-3-1-4-3-2M125 692l-1 0M128 693l-3-1M132 697l-2-1-2-3M128 692l-3 1M139 724l-2-2-1-3-1-2-2-1 1-4 0-5 1-2 0-3-3-2 0-3-4-3 0-2-2-4M125 721l0 4M133 720l-4 1-4 0M130 715l-2 3-4 3-2 1M126 712l0-3M123 712l-1-3M134 721l-1-1-1-5-2 0-1-2-3-1-3 0-1-1-4 1M119 720l-1-1-3 0M112 722l1-2M114 724l-2-2M126 718l-2 1-5 1-3 1-2 3-2 2-1 1-3 5M119 716l0 3 3 1 1 4 0 3M116 730l1-4M113 732l3-2M109 725l2 4 2 3 1 3 2 2M91 740l-1 1M94 740l-3 0M97 737l-3 3M139 724l-3-2-2-1-2 0-4-2-2-1-2-1-1-2-4 1-3 2-1 1-4 3-2 3-3 1-4 3-2 2-1 3-2 3-1 0M134 721l-2 3M138 721l-4 0-2 1-3 0-2 0M136 721l2-3 2-4-1-2M124 707l-3 1M114 709l0 3M116 706l-2 3M120 704l-3 2-1 0M118 704l2-4 0-3M113 709l2 1M115 707l-2 2M115 703l0 4M113 701l-4 2M139 724l-1-3-2 0-2-3-4-3-2-1-2-3-2-4-4-3-2 0-3-1-2-2-4 0" stroke="#168296" stroke-width="0.55" fill="none"/>
<ellipse cx="139.2" cy="723.5" rx="1.7" ry="1.4" fill="#40d0e0"/>
<path d="M315 797l2 2M317 797l2-3M307 801l3-3 3-1 2 0 2 0 3-3M316 803l2 1M314 801l2 2 1 3 3 2 0 4M319 813l-2-1M321 809l-2 4M324 816l-3 0M307 801l3 1 4-1 1 2 3 2 0 2 3 2 1 2 2 5 1 2M299 806l1 2M301 804l-2 2M297 807l-3 1M297 804l0 3M307 803l-3 1-3 0-4 0-1 2M309 811l2-2M305 808l2 1 2 2 2 2M307 801l0 2-2 5 1 1-1 1 0 3 2 3 1 1 2 2" stroke="#a08484" stroke-width="0.55" fill="none"/>
<ellipse cx="307.2" cy="801.0" rx="1.8" ry="1.5" fill="#ffd8d8"/>
<path d="M191 714l-2 2-2 3M204 725l-2-2-2-3-2-2-4-2-3-2-2 0-2-2 0-1-2-3M219 719l1-1M204 725l2-1 3 0 3-2 3 1 2-3 2-1-1-4-1-2 2-4M204 725l1-1 2-2 2-2-1-5 1-3-1-2 0-2 1-5-3-3-2-1 0-3M199 722l-3-1M197 716l0-2M200 725l-1-3-1-4-1-2M188 736l-3-1M204 725l-4 0-2 2-3 4-3 2-1 1-3 2M202 727l-3-2-3-1-2 1-3 0-1 0M196 737l-4-1-2 0M192 742l0 3M181 753l-1 4M204 725l-2 2-2 1-2 3-1 2-1 4-3 3-1 2-2 4-3 2-2 1-2 4-2 0" stroke="#c0600c" stroke-width="0.55" fill="none"/>
<ellipse cx="204.0" cy="724.9" rx="2.2" ry="1.4" fill="#ff8a30"/>
<path d="M357 764l1 3 1 3M347 767l3-2 1-1 4 1 2-1 1 0 2-2 3-1M347 767l5-1 2 2 4 2 1 1 3 1M344 767l-1-2 2-1 1-3M322 765l-3 2M319 765l0-3M347 767l-2 0-1 0-3 0-5-2-3 0-2 0-4 0-5 0-3 0-2 0-3-2" stroke="#c0600c" stroke-width="0.55" fill="none"/>
<ellipse cx="347.4" cy="767.0" rx="1.7" ry="1.5" fill="#ff8a30"/>
<path d="M308 727l3 1M306 722l2 2 0 3M309 723l3 2M315 724l3-1 2-2M317 725l1-3M304 721l2 1 3 1 2 0 4 1 2 1 2 0 3 0M312 718l4 0M314 715l2 0M312 722l0-2 0-2 2-3M319 725l1 4 1 3M304 721l3 0 4 1 1 0 3 1 4 2 3 0 3 3 3 2M297 731l2 1M301 723l-2 3-1 2-1 3-1 1-2 2M287 720l-4-1M280 717l-1 3M304 721l-3 2-3 0-2-2-2 0-5 1-2-2-3-1-4-2-1-2M302 718l1-2 1-4M294 708l-1-3M295 703l-1-4M293 705l2-2M304 721l-2-3 0-3-2 0-2-3-1-2-3-2-1-3-2-2-2-1M301 718l1-4M304 721l-3-3 1-3 0-2-3-3" stroke="#157e8e" stroke-width="0.55" fill="none"/>
<ellipse cx="303.6" cy="721.1" rx="2.3" ry="1.4" fill="#157e8e"/>
<path d="M212 842l1 3M210 841l2 1 3 0 2 1 2 0 3 1 2 0 3 0M192 820l-4-1M196 822l-4-2M199 820l-1 1-2 1-4 2-1 1M197 816l-3 0M203 813l0 2M199 811l4 2M196 811l3 0M197 805l-3-1M194 801l1-5M197 801l-3 0M210 841l1-2 1-3-1-3-1-1-2-2-3-2 0-1-2-3-1-2-3-2-1-3-1-1 0-2-1-3 0-3 1-3 0-4M220 836l1 1M214 837l3 1 2-1 1-1 2-1M209 825l2-3M207 824l0-2M203 821l2 3M213 839l1-2 2-2 0-3-2-3-3-1-2-3-2-1-2-1-2-2M201 827l-1 1M205 827l-4 0M196 825l1 2M190 829l4-1M191 827l-1 2M215 834l-3-2-4 0-1-4-2-1-3-1-4-1-2 0-5 2M215 829l2 0M220 825l2 1M216 827l4-2M215 832l0-3 1-2 3-3M214 827l-3 0-4-2M203 820l0 3M205 821l-2-1M200 822l3 1M201 821l-1 1M211 817l-3 2-1 2-2 0-4 0M203 808l2-4M210 841l3-2 1-2 1-3 0-2 0-2-1-3 2-2-1-3-2-2-2-3-2-1-1-3-3-2-2-3-1-2-2-1-4-1-4-2M211 838l2 0 3-2 3 0 4-1 2 0M243 826l3-4M210 841l1-3 1-3 2-3 3-3 2-3 1-3 2-1 3 3 4 1 1 1 3-2 4 2 3-1 3 0 4 0 3 0" stroke="#d0a0a8" stroke-width="0.55" fill="none"/>
<ellipse cx="209.9" cy="841.3" rx="1.8" ry="1.2" fill="#ffc8d0"/>
<path d="M130 694l1 4M135 691l-2 1-3 2M134 705l0 1M136 704l-2 1M136 700l0 4M135 684l0 4 0 3 0 4 1 3 0 2 0 3M142 683l1 3 2 2M152 680l3 0M148 678l4 2M135 684l3-1 4 0 4-2 1 0 1-3 4-1 3-2M134 674l-1 3M130 676l1 0 3-2M137 675l1 3M129 675l4 0 2 0 2 0M127 671l-2-2M125 667l2-2 2-3M122 663l-3 3M135 684l-3-2-2-2 0-4-1-1-2-1 0-3-2-3 0-1-3-4 1-2-2-4M113 662l-2-4M117 663l-4-1M118 657l-3 0M135 684l-2-4-3-1-3-2-2-1-2-4-2-1-2-3-1-2-1-3 2-2-1-4M126 683l-5 1M130 687l-3-3-1-1-4-1-2-2M120 693l-3-2M118 696l2 2M112 699l-3 2M114 701l-2-2M135 684l-2 1-3 2-2 2-3 1-2 1-3 2-2 3-2 1-2 4-4 0" stroke="#1a8ca8" stroke-width="0.55" fill="none"/>
<ellipse cx="134.8" cy="684.0" rx="1.7" ry="1.3" fill="#1a8ca8"/>
<path d="M230 698l2-3M229 696l-3 1M232 700l-2-2-1-2M235 702l-3-2-3 0-2-1-3 2M254 677l3 1M253 679l1-2M250 679l3 0 3 2 2 0M253 676l3 1 3 1M254 667l2-4M233 705l2-3 1-2 1-5 1 0 2-1 2-3 2-2 1-4 2-2 2-2 1-2 3-3 1-2 1-4-1-3-1-2-1-4M230 717l-2 2M224 717l0 2M227 719l-3-2M233 705l0 4 0 2-2 2-1 4-3 2-1 3-3 3M224 712l2 1M227 708l-3 2 0 2M217 721l-4-2M233 705l-2 1-4 2-1 1-3 3 1 1-1 3-3 2-3 3" stroke="#158592" stroke-width="0.55" fill="none"/>
<ellipse cx="232.6" cy="704.8" rx="2.3" ry="1.5" fill="#158592"/>
<path d="M137 720l-2-2M133 720l-3-2M140 718l-3 2-4 0M142 723l-2 2-1 2M142 703l1 3-1 2 0 4-1 1-2 2 1 3 0 4 2 1 2 1 4 3 3 0 2 2M144 697l-3-1-3-1-3-1-3-1M141 692l-2 2M143 694l-2-2-4-1-2-1M143 688l2-1M145 680l4 2M143 684l2-4 0-2M142 703l1-2 1-4-1-3 0-4 0-2 0-4 1-1 2-1 0-4 1-2 1-2M141 689l3-2M138 696l2-2 2-1-1-4-1-2M130 686l-1-3M135 688l-2 0-3-2M132 687l-1 0M134 684l-2 3-2 2M127 683l-1 0M128 681l-1 2M127 682l-1 3M142 703l-2 0-1-4-1-3-1-4-1-1-1-3-1-4-3-1-3-2-1 1-2-2-4-1M146 709l-3 0M144 706l2 3M146 710l2-2 1-3M146 727l-1 3M142 703l2 3 2 4 0 3-1 4-1 2 1 4 1 4 0 1 1 3" stroke="#c8c8c8" stroke-width="0.55" fill="none"/>
<ellipse cx="142.1" cy="703.5" rx="1.8" ry="1.4" fill="#ffffff"/>
<path d="M238 714l2-4M238 716l0-2M235 718l0 1M230 717l-2 3M248 716l-3 1-3 0-4-1-3 2-5-1M233 723l0-3 1-4M228 727l0 2M231 727l-3 0M248 716l-3 2 0 1-2 3-3-1-2 2-5 0-2 4-1 0-2 3M267 720l2 2M248 716l3 0 4 0 2 1 3 3 3 0 3 1 1-1 2-2M241 706l3-1M239 704l-1 3-1 2M239 701l2 0 2 2M246 700l1-2M240 700l1 1 5-1M248 716l-1-1 0-2-5-2-1-3 0-2-2-2 0-3 1-1 1-4 1-2 1-4" stroke="#c01818" stroke-width="0.55" fill="none"/>
<ellipse cx="248.3" cy="716.2" rx="2.1" ry="1.4" fill="#ff3a3a"/>
<path d="M316 745l1 2M321 745l1 0M323 745l1-2M314 746l2-1 5 0 2 0 4 0M314 748l3 0 3 0M314 756l2 1 3 3M313 761l2 1M309 765l3 1M309 739l3 2 1 3 1 2 0 2 1 4 1 2-2 2-1 3 0 2-1 3-3 1M309 739l-2-2-3-2-1-2-4-2-3-1-2-3-2-1 0-2-4-2-2-1-2 0M311 748l-3 2M313 754l1-2M309 739l1 4 2 3-1 2 0 3 2 3 2 2 3 2M331 762l-4 2M329 758l2 4M309 739l-1 3 0 5 2 3 0 2 5 0 2 0 4 1 2 1 2 1 3 3 1 0 1 2 2 1" stroke="#157e8e" stroke-width="0.55" fill="none"/>
<ellipse cx="308.5" cy="739.4" rx="1.9" ry="1.3" fill="#157e8e"/>
<path d="M245 818l0 2M248 818l-3 0-3 1M254 805l2-3M250 806l4-1M250 820l-2-2-1-2-1-4 1-2 0-3 3-1M250 823l-2 1M250 829l-3 0M251 829l-1 0M250 831l-4 0M250 820l0 3 1 3 0 3-1 2M237 805l-2 0M238 807l-1-2M250 820l-2-2-2-2-3-1-3-2-1-2 0-2-1-2M247 814l-3 0-3 0-2-2M241 810l-2 1M238 811l-4 0M240 808l-2 3M235 804l0-1M250 820l-3-3 0-3-2-1-4-3-1-2-3-2-2-2-3-3" stroke="#b09a1c" stroke-width="0.55" fill="none"/>
<ellipse cx="249.7" cy="820.1" rx="1.7" ry="1.6" fill="#ffe040"/>
<path d="M135 710l2 2M134 708l1 2 0 5M144 707l3-1M140 706l4 1M144 693l2-3M126 713l2-1 3-3 3-1 4-1 2-1 4-2 3-3 1-2-2-2-2-4M124 719l-3 0M124 723l-3 1-2 4-3 2M121 728l-2-1M124 726l-3 2M122 732l-1 3M126 713l0 2-1 3-1 1 0 4 0 3-2 3 0 3 0 3 2 2M120 712l0-4M123 713l-3-1M121 717l0 2M120 715l1 2M121 713l-1 2 1 2M118 712l-3-1M110 712l-2 3M113 714l-3-2M115 712l-2 2M126 713l-3 0-2 0-3-1-3 0-2 1" stroke="#b01818" stroke-width="0.55" fill="none"/>
<ellipse cx="126.1" cy="713.2" rx="2.3" ry="1.3" fill="#b01818"/>
<ellipse cx="138.9" cy="729.9" rx="2.6" ry="4.2" fill="#ffffff"/>
<ellipse cx="137.7" cy="749.2" rx="2.6" ry="2" fill="#ffb0c0"/>
<ellipse cx="227" cy="719" rx="2.8" ry="2.2" fill="#ffa0b0"/>
<ellipse cx="246.4" cy="731" rx="3" ry="2.2" fill="#ff3030"/>
<ellipse cx="193.2" cy="801.2" rx="4" ry="2.2" fill="#ffffff"/>
<ellipse cx="287.5" cy="804.8" rx="3.6" ry="2" fill="#ffffff"/>
<ellipse cx="275.4" cy="800" rx="2.5" ry="1.8" fill="#ffb0b8"/>
<ellipse cx="315.3" cy="832.6" rx="2.2" ry="2.8" fill="#ffc0c8"/>
<ellipse cx="166.7" cy="827.7" rx="2.4" ry="2" fill="#ffb0c0"/>
<ellipse cx="122" cy="855.5" rx="3" ry="2.2" fill="#ffc8d0"/>
<ellipse cx="159.4" cy="864" rx="3" ry="2.2" fill="#ffc0c8"/>
<ellipse cx="222.2" cy="867.6" rx="2.8" ry="2" fill="#ffc0c8"/>
<ellipse cx="205.3" cy="775.8" rx="4" ry="3.5" fill="#e01818"/>
<ellipse cx="180" cy="749.2" rx="2.4" ry="2" fill="#ff3030"/>
<ellipse cx="329.8" cy="804.8" rx="2" ry="2" fill="#ff4020"/>
<ellipse cx="94.2" cy="750.4" rx="1.8" ry="1.8" fill="#ffe020"/>
</g>
<g clip-path="url(#c2)">
<path d="M75 936l1 2M70 938l2 3M77 935l-2 1-2 1-3 1M77 935l-3-1-2-1M77 935l3-1 1-1M77 935l1 1 1 0" stroke="#d8c818" stroke-width="0.6" fill="none"/>
<ellipse cx="77.1" cy="934.8" rx="1.7" ry="1.5" fill="#ffff40"/>
<path d="M107 933l2 1M103 929l3 2 1 2M100 932l1 2M101 929l-1 3M100 930l-2 1M103 929l-2 0-1 1M104 925l0-2M103 929l0-1 1-3M104 931l2 1M103 929l1 2 1 2M105 927l1-2M102 928l3-1M103 929l-1-1 1-3" stroke="#38b038" stroke-width="0.6" fill="none"/>
<ellipse cx="103.1" cy="929.4" rx="1.7" ry="1.1" fill="#80ff80"/>
<path d="M131 932l-3 3M132 932l3-1M130 930l1 2 1 0M130 930l2 2 2 1" stroke="#20a8b8" stroke-width="0.6" fill="none"/>
<ellipse cx="130.2" cy="930.1" rx="1.8" ry="1.2" fill="#40e0f0"/>
<path d="M190 931l-3 2-1 1-3 2M188 926l-2-1M190 931l-2-1-2 0 1-3 1-1M197 930l-4-2M197 931l0-1M190 931l2 0 2 1 3-1 1-2 3 0M190 928l-2 0M190 931l-1-1 1-2-1-4M190 931l-2 0-2 0-3 1-1 3" stroke="#d82020" stroke-width="0.6" fill="none"/>
<ellipse cx="189.6" cy="931.1" rx="1.7" ry="1.1" fill="#ff3030"/>
<path d="M220 933l1 0 2 2 1 1M226 926l2 1M220 935l0-2 1-1 2-2-1-1 2-2 1-1 1 0 3 0M220 935l1-3 2-2 1-1 2-1 1-3M223 930l-1-4M219 934l2-1 2-3M213 925l-3-1M215 922l2 1M220 935l-1-1-2-2-3-2-1-1 0-4 1 0 1-3 0-1M221 926l0-2M223 929l-2-3M225 925l3 0M223 931l0-2 2-4M225 930l2 1M220 935l2-1 1-3 2-1 0-1 1-1 2-4-1 0 2-3M215 938l0 2M214 938l-1 1M220 938l-1 0-4 0-1 0-2-2-1 0M232 958l2-1M220 935l0 3 3 2 1 3 2 2 1 1 2 3-1 2 3 1 0 2 1 4" stroke="#20a8b8" stroke-width="0.6" fill="none"/>
<ellipse cx="219.7" cy="935.4" rx="2.1" ry="1.1" fill="#40e0f0"/>
<path d="M243 925l-3 1M240 923l2 0 1 2M240 923l3 0 3 0" stroke="#e0a0a8" stroke-width="0.6" fill="none"/>
<ellipse cx="240.1" cy="922.5" rx="2.1" ry="1.2" fill="#ffc0c8"/>
<path d="M266 921l0-2 1-1 1-2M264 926l0 2M265 925l-1 1M266 921l-1 1 0 3M266 921l0-1 1-3" stroke="#38b038" stroke-width="0.6" fill="none"/>
<ellipse cx="265.5" cy="921.0" rx="2.0" ry="1.4" fill="#80ff80"/>
<path d="M287 920l1-1-1-3M283 922l-2 0M284 920l-1 2M286 921l-2-1M287 920l-1 1-2 2M287 925l-1 3M286 923l1 2M287 920l-1 3-2 1-2 0" stroke="#f0a020" stroke-width="0.6" fill="none"/>
<ellipse cx="287.4" cy="920.5" rx="2.0" ry="1.1" fill="#ffc040"/>
<path d="M318 933l-2 2-1 2-2 1-1 2M322 931l2 2M319 931l3 0M318 933l1-2 3-1" stroke="#e0e0e0" stroke-width="0.6" fill="none"/>
<ellipse cx="317.9" cy="933.5" rx="1.9" ry="1.2" fill="#ffffff"/>
<path d="M350 932l-2 1M349 928l0 1 1 3M347 926l2-2M349 928l-2-2-1-2" stroke="#d0d020" stroke-width="0.6" fill="none"/>
<ellipse cx="348.5" cy="928.0" rx="1.4" ry="1.3" fill="#ffff30"/>
<path d="M72 947l1-3M75 947l-3 0-3 1M75 947l-2 3-2 0M77 947l-2-2M78 944l1-1M75 947l2 0 1-3 1-1M75 947l1 3 1 2" stroke="#d82020" stroke-width="0.6" fill="none"/>
<ellipse cx="75.2" cy="947.5" rx="1.9" ry="1.4" fill="#ff3030"/>
<path d="M181 947l-2 2-1 2M181 947l1-2 1-3M177 952l-3 2M175 949l2 3M181 947l-3 1-3 1" stroke="#e0e0e0" stroke-width="0.6" fill="none"/>
<ellipse cx="180.7" cy="946.7" rx="2.1" ry="1.1" fill="#ffffff"/>
<path d="M207 956l1 3M203 955l1 0 3 1 2 1M201 962l-1-2M203 961l-2 1M203 955l0 4 0 2M203 955l3 0 2 1M203 955l2 2 1 0 2 2M203 955l0 3 0 3" stroke="#6a2ab8" stroke-width="0.6" fill="none"/>
<ellipse cx="203.3" cy="955.3" rx="1.7" ry="1.5" fill="#a060ff"/>
<path d="M248 955l1-2M245 953l3 2M246 955l3 0M244 949l0 3 1 1 1 2-1 3-1 3 0 3M244 949l-1 3-1 2 0 1-3 1 0 1-2 4M246 948l2 2M244 949l2-1 3-2 1 0" stroke="#d0d020" stroke-width="0.6" fill="none"/>
<ellipse cx="244.2" cy="949.2" rx="1.5" ry="1.4" fill="#ffff30"/>
<path d="M314 958l-1-4 2-1M314 958l-1 1-4 2" stroke="#d8c818" stroke-width="0.6" fill="none"/>
<ellipse cx="313.8" cy="957.6" rx="2.0" ry="1.5" fill="#ffff40"/>
<path d="M355 945l1-3M354 945l1 0M355 949l-1-2 0-2M349 954l-1-1M353 954l-4 0M355 949l-1 4-1 1M355 949l1 1 4 2" stroke="#d0d020" stroke-width="0.6" fill="none"/>
<ellipse cx="354.6" cy="949.4" rx="1.9" ry="1.1" fill="#ffff30"/>
<path d="M82 984l-2 2M78 978l2 3 2 3 1-1 3 3M81 973l-2-1M78 978l1-1 1-1 1-3M78 978l-1 0-2-2M77 976l1-1M75 974l0 1M76 973l-1 1M78 978l-1-2-1-3M76 980l-2-1M78 978l-2 2-1 1-3 4" stroke="#f08a10" stroke-width="0.6" fill="none"/>
<ellipse cx="78.3" cy="978.5" rx="1.6" ry="1.3" fill="#ffa030"/>
<path d="M98 966l-2-1M97 969l1-3M96 969l1 0M96 971l0-2 0-3M94 975l-2 1M94 973l0 2M96 971l-2 2-4 0-3 2M101 972l2 0M106 972l0 3M104 971l2 1M96 971l3 0 2 1 3-1" stroke="#20a8b8" stroke-width="0.6" fill="none"/>
<ellipse cx="95.6" cy="971.3" rx="2.1" ry="1.5" fill="#40e0f0"/>
<path d="M154 975l2 2M153 975l1 0M152 971l1 4M150 970l-2 0M151 973l-1-3M153 973l-2 0M150 970l2 1 1 2M150 970l-1 3 0 2" stroke="#d82020" stroke-width="0.6" fill="none"/>
<ellipse cx="150.1" cy="969.9" rx="1.6" ry="1.2" fill="#ff3030"/>
<path d="M178 977l-1-1M181 979l1 1M181 977l0 2M176 979l2-2 3 0 4 0 0 0M167 979l-1 0M171 977l-1 1-3 1M168 978l0-3M165 975l-1-1M176 979l-4 0-1-2-3 1-3-3 0-2-1-2" stroke="#f0a020" stroke-width="0.6" fill="none"/>
<ellipse cx="176.1" cy="978.8" rx="1.8" ry="1.5" fill="#ffc040"/>
<path d="M209 970l-2-1M212 973l-2 0-1-3M211 973l0 3M212 973l-1 0-4 0" stroke="#f08a10" stroke-width="0.6" fill="none"/>
<ellipse cx="212.1" cy="973.2" rx="1.4" ry="1.5" fill="#ffa030"/>
<path d="M239 965l2-1M239 967l0-2M239 968l0-1M242 968l-1-1-2 1M242 968l-1 2 1 3-2 1-1 0M234 968l-2 1M236 970l-2-2M238 971l-2-1M242 968l-2 2-2 1M242 968l-2-1-2 2" stroke="#f0a020" stroke-width="0.6" fill="none"/>
<ellipse cx="242.2" cy="968.1" rx="1.9" ry="1.4" fill="#ffc040"/>
<path d="M258 973l1-2 3 0M259 978l2 1M258 973l1 2 0 3M258 973l2 0 3-2" stroke="#6a2ab8" stroke-width="0.6" fill="none"/>
<ellipse cx="258.1" cy="972.7" rx="1.7" ry="1.4" fill="#a060ff"/>
<path d="M286 985l2 2M288 982l-1 1-1 2M288 982l0 2-1 1" stroke="#d8c818" stroke-width="0.6" fill="none"/>
<ellipse cx="287.9" cy="981.5" rx="2.1" ry="1.1" fill="#ffff40"/>
<path d="M351 963l-2 2M351 966l0-3M348 960l2 0M348 962l0-2M353 969l-1 0-1-3-1-1-2-3M355 965l2-1M353 969l1 0 1-4 1-1 2-1M351 979l2-2M349 979l2 0M353 969l-2 3 0 1 0 3-2 3M353 969l-4 1-1 1 0 2M346 981l-1 1M347 979l-1 2M350 978l-3 1M353 969l0 3 0 2-1 3-2 1" stroke="#38b038" stroke-width="0.6" fill="none"/>
<ellipse cx="352.9" cy="969.4" rx="1.7" ry="1.2" fill="#80ff80"/>
<path d="M82 999l-2 1-3 0-2 1M82 999l1-1 0-3 1-2M77 1004l0 2M78 1002l-1 2M82 999l-1 2-3 1-2 0-2 1M82 999l-3-1-2-2-1-1-1-1" stroke="#d82020" stroke-width="0.6" fill="none"/>
<ellipse cx="82.4" cy="999.3" rx="2.0" ry="1.1" fill="#ff3030"/>
<path d="M112 992l-2 1-2 2-1 1M112 992l-3 0-2 0M109 993l-2 1M109 991l0 2M112 992l-3-1-2-2M117 994l3-3M112 992l1 1 2 0 2 1 3-1" stroke="#e0a0a8" stroke-width="0.6" fill="none"/>
<ellipse cx="111.8" cy="992.4" rx="1.8" ry="1.1" fill="#ffc0c8"/>
<path d="M139 993l2-3M142 992l1-2M135 994l1-1 3 0 3-1 1 1 2 1M135 994l-2 2-4 0-1 2" stroke="#6a2ab8" stroke-width="0.6" fill="none"/>
<ellipse cx="134.9" cy="994.3" rx="2.0" ry="1.2" fill="#a060ff"/>
<path d="M148 992l-2 0M143 991l-3-1M144 992l-1-1M146 993l-2-1M149 990l-1 2-2 1M147 988l1-3M149 990l-1-1-1-1M149 990l3-1 2 1" stroke="#6a2ab8" stroke-width="0.6" fill="none"/>
<ellipse cx="149.3" cy="990.4" rx="1.8" ry="1.5" fill="#a060ff"/>
<path d="M182 1000l2 1M183 1001l1-1M179 999l3 1 1 1 0 2M179 999l1 2 1 2M180 1001l1 2M184 1001l3 1M183 1002l1-1M179 999l1 2 3 1" stroke="#e0a0a8" stroke-width="0.6" fill="none"/>
<ellipse cx="179.4" cy="998.6" rx="1.7" ry="1.1" fill="#ffc0c8"/>
<path d="M210 1004l1 3 0 2 0 2 2 1-2 3M213 1004l2-1 2-1M210 1004l2-1 1 1 2 1 3 2 3 1 1 0" stroke="#e0e0e0" stroke-width="0.6" fill="none"/>
<ellipse cx="210.2" cy="1004.3" rx="1.6" ry="1.4" fill="#ffffff"/>
<path d="M239 1003l-2-1-1-1M239 1003l2 3 2 0M242 999l1-2M243 1001l-1-2M242 1003l1-2M239 1003l3 0 1 1 4 3 1 2M241 1001l2-1M239 1003l2-2 3 0 1-1 2-1M239 1003l-3-1-1 1-3 0" stroke="#e0e0e0" stroke-width="0.6" fill="none"/>
<ellipse cx="239.3" cy="1002.9" rx="2.0" ry="1.1" fill="#ffffff"/>
<path d="M259 1004l2 0 2 3M266 1004l3-3M263 1005l3-1M266 1006l-1 1M259 1004l3 0 1 1 3 1M261 1008l-3 0M260 1005l1 3M259 1004l1 1 3 0 2 0" stroke="#d8c818" stroke-width="0.6" fill="none"/>
<ellipse cx="258.8" cy="1003.5" rx="1.7" ry="1.1" fill="#ffff40"/>
<path d="M312 1002l2 1M313 1001l-1 1 0 3M313 1001l-2 2 0 3M317 996l-2-3M316 999l1-3M316 1000l0-1M313 1001l3-1 2-1M313 1001l1 2 1 2M313 1001l-1 0-3 0" stroke="#d0d020" stroke-width="0.6" fill="none"/>
<ellipse cx="313.4" cy="1000.8" rx="2.1" ry="1.5" fill="#ffff30"/>
<path d="M86 1020l-1-2M84 1026l2 0-1-4 1-2M84 1029l-2 3M87 1039l0-3M85 1039l2 0M84 1026l0 3 0 2-2 2 1 4 2 2" stroke="#e0a0a8" stroke-width="0.6" fill="none"/>
<ellipse cx="84.1" cy="1026.1" rx="2.0" ry="1.3" fill="#ffc0c8"/>
<path d="M102 1014l-2 2-2 2M103 1009l2 0M102 1014l-2-3 3-2 1-3M102 1014l-3-1-2 0" stroke="#d8c818" stroke-width="0.6" fill="none"/>
<ellipse cx="101.6" cy="1013.7" rx="1.4" ry="1.1" fill="#ffff40"/>
<path d="M143 1017l0 2M138 1016l2 0 3 1 1 1M138 1016l3 0 2 1M138 1016l-3 1-1 0" stroke="#f08a10" stroke-width="0.6" fill="none"/>
<ellipse cx="138.3" cy="1015.8" rx="1.8" ry="1.2" fill="#ffa030"/>
<path d="M154 1023l3 0M155 1021l2-1M157 1020l1 2M153 1025l1-2 1-2 2-1M154 1023l-1-2M153 1025l1-2M157 1019l2 1M154 1019l3 0M154 1023l0-4M155 1017l-1-2M154 1020l1-3M153 1025l0 0 1-2 0-3M151 1022l3-2M153 1025l-1-1-1-2 0-4 0-2M154 1021l-2-1M153 1025l0-1 1-3 3-2-1-2" stroke="#f0a020" stroke-width="0.6" fill="none"/>
<ellipse cx="152.6" cy="1025.2" rx="1.5" ry="1.1" fill="#ffc040"/>
<path d="M181 1013l2 0 2-1 3 1M196 1011l2 0M180 1015l1-2 2-1 2-2 3 0 3 1 2 0 3 0M190 1014l-2 1M189 1013l1 1M180 1015l2-2 2-1 3 1 2 0M175 1017l3 2 0 2 3-1M168 1015l2-2M170 1019l-1-2-1-2M168 1018l-1-1M180 1015l-2 1-3 1 0 1-5 1-2-1-1 2-1 2-2 2M176 1013l-1-3M177 1016l-1-3M180 1015l-3 1 1 3-2 2-1 2" stroke="#e0e0e0" stroke-width="0.6" fill="none"/>
<ellipse cx="180.3" cy="1014.8" rx="1.6" ry="1.3" fill="#ffffff"/>
<path d="M201 1017l-2 2M203 1016l-2 1-1 0M203 1016l1 2 1 1" stroke="#f08a10" stroke-width="0.6" fill="none"/>
<ellipse cx="203.2" cy="1015.7" rx="1.9" ry="1.2" fill="#ffa030"/>
<path d="M242 1028l0 2M244 1026l-2 2M244 1022l1 2-1 2 2 1M241 1022l-1 1M244 1022l-3 0-2 1 0 2" stroke="#f08a10" stroke-width="0.6" fill="none"/>
<ellipse cx="244.3" cy="1021.8" rx="1.4" ry="1.3" fill="#ffa030"/>
<path d="M273 1015l2 1 2 1M276 1015l2 0M273 1015l3 0 2-2M273 1015l-2 2-2 2" stroke="#e0e0e0" stroke-width="0.6" fill="none"/>
<ellipse cx="272.5" cy="1015.3" rx="2.0" ry="1.2" fill="#ffffff"/>
<path d="M287 1023l3-1M288 1019l-1 4 3 2 0 2M288 1019l2-1 0-2M284 1013l0-2M286 1014l-2-1M286 1016l0-2M283 1014l1-2M288 1019l-2-1 0-2-3-2M286 1024l-1-1M288 1019l-2 2 0 3M288 1019l-3 1-3 1-1 0" stroke="#f0a020" stroke-width="0.6" fill="none"/>
<ellipse cx="287.8" cy="1019.1" rx="1.4" ry="1.2" fill="#ffc040"/>
<path d="M315 1018l2-2M313 1018l2 0 3 0M313 1018l0-2 2-3" stroke="#d82020" stroke-width="0.6" fill="none"/>
<ellipse cx="313.2" cy="1017.9" rx="1.5" ry="1.2" fill="#ff3030"/>
<path d="M339 1018l-1 0-3 2-2 1-3 2-1 2M339 1018l-2-1-1-3-3 0-3-1M341 1020l0 1M339 1018l2 2 3 1" stroke="#e0e0e0" stroke-width="0.6" fill="none"/>
<ellipse cx="339.4" cy="1017.8" rx="1.7" ry="1.1" fill="#ffffff"/>
<path d="M129 1045l-2-3M133 1044l-3 0-1 1M133 1044l2 2 2-1M133 1044l1 4 3 2" stroke="#f0a020" stroke-width="0.6" fill="none"/>
<ellipse cx="133.4" cy="1044.4" rx="1.6" ry="1.2" fill="#ffc040"/>
<path d="M149 1035l2-3 1-1-1-2M149 1035l1 1 4-1" stroke="#d82020" stroke-width="0.6" fill="none"/>
<ellipse cx="148.6" cy="1035.3" rx="1.5" ry="1.4" fill="#ff3030"/>
<path d="M223 1037l-1 1M219 1035l4 2 1-1M225 1037l0 2M219 1035l2 0 4 2M218 1034l-3 1M219 1035l-1-1-3-2-2-1M219 1035l0 3 1 1 1 1" stroke="#d82020" stroke-width="0.6" fill="none"/>
<ellipse cx="219.3" cy="1035.3" rx="1.4" ry="1.1" fill="#ff3030"/>
<path d="M241 1049l2 0M239 1049l2 0M238 1047l1 2 0 1M236 1054l2-3M234 1053l2 1M234 1050l0 3M229 1053l-2 2M232 1054l-3-1M232 1052l0 2M238 1047l-2 1-2 2-2 2M234 1046l-1 1M238 1047l-4-1-2-1" stroke="#e0a0a8" stroke-width="0.6" fill="none"/>
<ellipse cx="237.7" cy="1046.7" rx="1.4" ry="1.3" fill="#ffc0c8"/>
<path d="M270 1038l-1-2M272 1038l-2 0M276 1042l3 1M274 1036l-2 2 2 3 2 1M274 1036l1 1 2 1M274 1042l1 2M274 1036l-1 4-1 1 2 1M281 1033l0-2M278 1034l3-1M277 1036l1-2M278 1032l-1-2M280 1033l-2-1M278 1035l2-2M274 1036l3 0 1-1M274 1034l1-3M273 1032l2-2M275 1029l1 1M274 1036l0-2-1-2 2-3" stroke="#d0d020" stroke-width="0.6" fill="none"/>
<ellipse cx="274.0" cy="1036.2" rx="1.4" ry="1.2" fill="#ffff30"/>
<path d="M302 1051l0-3M300 1053l2-2M296 1052l4 1M296 1049l0 3 1 1-1 3-2 2 1 2M303 1053l2-2M308 1053l3-1M296 1049l2 1 3 2 2 1 4 0 1 0M278 1046l-2 0M282 1050l-2 0-2-4M279 1053l0 2M281 1054l-2-1M277 1055l0-2M280 1056l-3-1M296 1049l-2 1-4-2-2 1-3 0-3 1-1 3 0 1-1 2-1 2" stroke="#e0e0e0" stroke-width="0.6" fill="none"/>
<ellipse cx="296.3" cy="1049.4" rx="1.9" ry="1.2" fill="#ffffff"/>
<path d="M321 1047l-1-2M323 1048l-2-1-2-1M320 1043l-2 0M322 1045l-2-2M323 1048l-1-3 1-2" stroke="#20a8b8" stroke-width="0.6" fill="none"/>
<ellipse cx="322.7" cy="1047.7" rx="1.6" ry="1.1" fill="#40e0f0"/>
<path d="M82 1065l-1-1M79 1072l0-2 2-1 1-4M79 1072l2 0 3 1" stroke="#d0d020" stroke-width="0.6" fill="none"/>
<ellipse cx="79.3" cy="1072.4" rx="1.9" ry="1.4" fill="#ffff30"/>
<path d="M135 1072l1-2 0-2M134 1070l-2 0M135 1072l-1-2-2-2" stroke="#20a8b8" stroke-width="0.6" fill="none"/>
<ellipse cx="135.2" cy="1071.8" rx="2.0" ry="1.3" fill="#40e0f0"/>
<path d="M159 1064l-2 0-2 1M157 1067l-2 1M159 1064l-1 1-1 2M159 1064l-1 0-3 0M157 1061l-1 0M159 1064l-1-1-1-2" stroke="#d82020" stroke-width="0.6" fill="none"/>
<ellipse cx="159.2" cy="1064.1" rx="1.4" ry="1.2" fill="#ff3030"/>
<path d="M186 1059l-2-1-2 0M186 1059l1 0 3 2M186 1059l-3-1-1-1M182 1059l-3-1M186 1059l-1 1-3-1-1-1M186 1059l-2-1-1-1-2 0" stroke="#f0a020" stroke-width="0.6" fill="none"/>
<ellipse cx="186.0" cy="1059.3" rx="1.8" ry="1.3" fill="#ffc040"/>
<path d="M224 1074l1 3M220 1072l1 2 3 0M220 1072l-2-1 0-2-2 1-3 0M215 1069l1-2M220 1072l-3-1-2-2M220 1072l-2 0-1 0-3 1M220 1081l2 0M220 1072l-1 2 1 3 0 4" stroke="#e0e0e0" stroke-width="0.6" fill="none"/>
<ellipse cx="219.9" cy="1072.1" rx="1.9" ry="1.3" fill="#ffffff"/>
<path d="M236 1070l1-2 2-1M234 1074l1 1M236 1070l0 2-2 2M236 1070l2 1 2 3M237 1065l-2-1M236 1067l1-2M236 1070l0-3-2-2M236 1070l2-2 2 0" stroke="#f08a10" stroke-width="0.6" fill="none"/>
<ellipse cx="236.0" cy="1069.8" rx="2.0" ry="1.3" fill="#ffa030"/>
<path d="M262 1071l-1-3M264 1071l-2 0-3-2M264 1071l2 0 4-1M264 1071l-2 1-2 1M264 1074l2 3M262 1071l2 3M259 1077l-2 1M264 1071l-2 0-3 3 0 3" stroke="#e0a0a8" stroke-width="0.6" fill="none"/>
<ellipse cx="263.9" cy="1071.4" rx="1.9" ry="1.4" fill="#ffc0c8"/>
<path d="M297 1055l0-3M297 1058l0 0 0-3M297 1058l-1 0-3 0M297 1058l0-1 0-1M297 1058l-3 0-1 0" stroke="#38b038" stroke-width="0.6" fill="none"/>
<ellipse cx="296.5" cy="1058.5" rx="1.6" ry="1.4" fill="#80ff80"/>
<path d="M319 1062l-1 2 0 1M319 1062l-1-3-2-2M319 1062l-2 0-4 1M315 1060l1 3M319 1062l-2 0-2-2" stroke="#6a2ab8" stroke-width="0.6" fill="none"/>
<ellipse cx="318.7" cy="1061.7" rx="1.7" ry="1.1" fill="#a060ff"/>
<path d="M348 1072l2 1M346 1068l0 1 2 3M346 1069l-1 2M347 1072l-2 2M346 1068l0 1 1 3 0 2 4 2M345 1059l0-2M346 1068l1-2-1-3-1-3 0-1" stroke="#f0a020" stroke-width="0.6" fill="none"/>
<ellipse cx="346.0" cy="1067.8" rx="1.4" ry="1.1" fill="#ffc040"/>
<path d="M93 1083l2 0M94 1086l0-2-1-1M92 1087l-1 2M94 1086l-2 1-2 1M89 1082l0 2M89 1081l0 1M94 1086l-1-2-3-1-1-2M91 1088l-2 0M94 1086l-2 1-1 1M94 1088l3 1M94 1086l0 2 1 2" stroke="#f0a020" stroke-width="0.6" fill="none"/>
<ellipse cx="94.2" cy="1085.8" rx="1.4" ry="1.5" fill="#ffc040"/>
<path d="M125 1082l4-1M124 1079l-3-1M125 1084l0-2-1-3M125 1084l0-2-2-3" stroke="#d8c818" stroke-width="0.6" fill="none"/>
<ellipse cx="124.6" cy="1083.7" rx="1.8" ry="1.5" fill="#ffff40"/>
<path d="M188 1094l0-4M190 1094l2-1M183 1095l3-1 2 0 2 0M187 1094l-1-3M187 1093l1-1M191 1092l3 0M190 1093l1-1M183 1095l4-1 0-1 3 0M185 1096l0 2M186 1096l2-1M183 1095l2 1 1 0M181 1091l-1 0M178 1087l-1-3M180 1088l-2-1M183 1095l-1-1-1-3-1-3" stroke="#20a8b8" stroke-width="0.6" fill="none"/>
<ellipse cx="183.0" cy="1095.3" rx="2.1" ry="1.2" fill="#40e0f0"/>
<path d="M208 1086l-1 2M212 1085l-4 1M210 1088l-1 2M214 1084l-2 1-2 3M211 1087l-1 3M214 1084l-1 2-2 1M214 1084l3-1 1 0M217 1081l2 0M214 1084l2-2 1-1M211 1084l-1-1M214 1084l-3 0-1 2" stroke="#e0e0e0" stroke-width="0.6" fill="none"/>
<ellipse cx="214.0" cy="1084.2" rx="1.7" ry="1.2" fill="#ffffff"/>
<path d="M247 1094l0-3M244 1096l2-1 1-1 2-1M244 1096l2-2 3-2M240 1100l-3 2M244 1096l-3 2-1 2 0 1 1 4" stroke="#6a2ab8" stroke-width="0.6" fill="none"/>
<ellipse cx="243.5" cy="1095.6" rx="1.4" ry="1.1" fill="#a060ff"/>
<path d="M293 1086l-1 1 0 3M293 1088l-1 1M295 1091l3 0M293 1086l0 2 2 3M290 1081l0-2M292 1080l-2 1M293 1083l-1-3M293 1086l0-3 3-1 0-1M290 1088l0 2M293 1086l-2 2-1 0-2 0" stroke="#d82020" stroke-width="0.6" fill="none"/>
<ellipse cx="293.5" cy="1086.1" rx="1.8" ry="1.4" fill="#ff3030"/>
<path d="M316 1090l-3 1M319 1094l-1-1-2-3M319 1091l2-2M317 1093l2-2M316 1093l0-2M319 1094l-2-1-1 0M323 1092l1 1M319 1094l2-1 2-1" stroke="#d8c818" stroke-width="0.6" fill="none"/>
<ellipse cx="318.9" cy="1094.4" rx="1.8" ry="1.1" fill="#ffff40"/>
<path d="M84 1108l3-1 3 1M80 1110l-2 0M81 1108l-1 2M83 1107l-2 1M82 1105l-2 0M84 1108l-1-1-1-2" stroke="#f0a020" stroke-width="0.6" fill="none"/>
<ellipse cx="84.1" cy="1108.4" rx="1.6" ry="1.4" fill="#ffc040"/>
<path d="M105 1106l4 0M102 1108l3-2 3 0 0-1M102 1108l2 1 3 1M102 1108l2 2 1 3 2 2 1 0" stroke="#f0a020" stroke-width="0.6" fill="none"/>
<ellipse cx="102.1" cy="1108.4" rx="1.9" ry="1.4" fill="#ffc040"/>
<path d="M128 1114l-2 2-2-2M132 1110l-3 1M131 1112l1-2M132 1107l2 0M132 1110l0-3M128 1114l3-2 1-2" stroke="#38b038" stroke-width="0.6" fill="none"/>
<ellipse cx="128.5" cy="1114.0" rx="1.8" ry="1.3" fill="#80ff80"/>
<path d="M157 1117l2 1M154 1117l2 1 1-1M155 1120l2 2M154 1117l1 3-1 3 1 3" stroke="#38b038" stroke-width="0.6" fill="none"/>
<ellipse cx="153.7" cy="1117.4" rx="1.8" ry="1.3" fill="#80ff80"/>
<path d="M205 1107l0 2M208 1107l1 2M203 1105l2 2 3 0M204 1108l-1 3M203 1105l0 1 1 2M203 1105l0 3 0 1M205 1103l0-2M203 1105l2-2 2-2" stroke="#f0a020" stroke-width="0.6" fill="none"/>
<ellipse cx="203.3" cy="1104.5" rx="1.8" ry="1.4" fill="#ffc040"/>
<path d="M268 1111l0-2M269 1113l-1-2-3-1M269 1113l-3 0-3 0-2 0M269 1113l2-1 1-2M269 1113l1-1 1-3 2-2" stroke="#20a8b8" stroke-width="0.6" fill="none"/>
<ellipse cx="268.8" cy="1113.1" rx="1.6" ry="1.1" fill="#40e0f0"/>
<path d="M297 1104l-1-3 0-2M297 1104l-1-1-3-2" stroke="#f08a10" stroke-width="0.6" fill="none"/>
<ellipse cx="297.2" cy="1104.3" rx="1.7" ry="1.3" fill="#ffa030"/>
<path d="M307 1109l-3-1M309 1111l-2-2M318 1104l0 2-2 1-2 2-2 1-3 1M321 1105l2 2M321 1108l0 2M323 1106l-2 2M318 1104l3 1 2 1 2 0M317 1105l-1 1M318 1104l-1 1-2 2-4 1 0 1M317 1103l-1 1M316 1100l2-1M313 1098l-2-1M318 1104l-1-1 0-2-1-1-3-2" stroke="#38b038" stroke-width="0.6" fill="none"/>
<ellipse cx="318.2" cy="1104.4" rx="1.5" ry="1.1" fill="#80ff80"/>
<path d="M70 1128l0-2-3-2M70 1128l-1-3 1-2 1-2M73 1124l-2-4M70 1128l0-3 3-1 0-3M70 1128l-3 2M71 1131l2 1M72 1133l2 2M70 1128l0 2 1 1 1 2 1 2 3 3" stroke="#38b038" stroke-width="0.6" fill="none"/>
<ellipse cx="69.5" cy="1127.8" rx="1.9" ry="1.2" fill="#80ff80"/>
<path d="M102 1137l3-1 1 0M99 1139l0 1M102 1137l-3 2 0 3M102 1139l-1 2M101 1138l1 1M102 1137l-1 1-1 1" stroke="#38b038" stroke-width="0.6" fill="none"/>
<ellipse cx="102.0" cy="1137.1" rx="1.4" ry="1.3" fill="#80ff80"/>
<path d="M136 1142l-3-1-1 1M136 1142l2 0 1 0M136 1142l1 0 2-3" stroke="#d82020" stroke-width="0.6" fill="none"/>
<ellipse cx="135.5" cy="1142.3" rx="1.8" ry="1.4" fill="#ff3030"/>
<path d="M148 1137l0 0M152 1135l-2 2-2 0-1 0M152 1135l2-3 1-1 2-1 2-1M154 1138l2 0M152 1135l0 0 2 3" stroke="#f08a10" stroke-width="0.6" fill="none"/>
<ellipse cx="151.6" cy="1134.6" rx="2.0" ry="1.4" fill="#ffa030"/>
<path d="M175 1135l-2 2 0 2M178 1132l1-1M179 1135l-1-3M182 1136l2-2M181 1136l1 0M186 1135l-2-2M186 1137l0-2M184 1138l2-1M175 1135l2 0 2 0 2 1 2 2 1 0M169 1128l-3 1M175 1135l-1-1-2-2 0-2-3-2M175 1135l0 2-1 2" stroke="#d82020" stroke-width="0.6" fill="none"/>
<ellipse cx="175.2" cy="1134.6" rx="2.0" ry="1.1" fill="#ff3030"/>
<path d="M204 1130l1-2M205 1131l-1-1-4 0M203 1136l-3-1M205 1131l-1 2-1 3M205 1131l0-1 0-4" stroke="#e0e0e0" stroke-width="0.6" fill="none"/>
<ellipse cx="205.2" cy="1131.4" rx="1.5" ry="1.4" fill="#ffffff"/>
<path d="M245 1140l-2 1M243 1139l2 1M243 1141l0 2M243 1137l0 2 0 2M243 1139l-1 3M246 1143l2 1M244 1142l2 1M242 1135l1 2 0 2 0 1 1 2M242 1135l1 0 2-1 1-2-1-4M242 1135l-3 2-3 1M242 1135l-2 3-3 0 1 1-2 3" stroke="#e0a0a8" stroke-width="0.6" fill="none"/>
<ellipse cx="241.6" cy="1135.3" rx="2.0" ry="1.3" fill="#ffc0c8"/>
<path d="M270 1133l2 2 1 0M270 1129l-2-2M269 1126l-2-2M270 1133l0-3 0-1-1-3M272 1135l2-1M270 1134l2 1M267 1136l-3-1M270 1133l0 1-3 2-3 1M270 1133l-3 0-2 2" stroke="#f08a10" stroke-width="0.6" fill="none"/>
<ellipse cx="269.6" cy="1133.3" rx="2.0" ry="1.3" fill="#ffa030"/>
<path d="M296 1130l1 0M297 1128l-1 2M299 1128l-2 0-3-1M305 1137l3-2M299 1128l2 3 1 3 1 0 2 3M298 1121l-2 0M299 1128l-1-2 0-2 0-3-1 0M299 1128l2 2 1 2 3 1 1 1" stroke="#20a8b8" stroke-width="0.6" fill="none"/>
<ellipse cx="299.3" cy="1128.4" rx="1.5" ry="1.2" fill="#40e0f0"/>
<path d="M342 1128l0-2M343 1131l-1-3M339 1134l2-2 2-1M339 1134l-2 3 0 1" stroke="#38b038" stroke-width="0.6" fill="none"/>
<ellipse cx="339.3" cy="1134.3" rx="2.0" ry="1.2" fill="#80ff80"/>
</g>
<text x="82.60" y="642.50" font-size="34.3" text-anchor="start" fill="#fff" stroke="#fff" stroke-width="0.3" >DMSO</text>
<text x="78.80" y="918.20" font-size="33.4" text-anchor="start" fill="#fff" stroke="#fff" stroke-width="0.3" >Vincristine</text>
<rect x="314.4" y="860.3" width="34" height="5.7" fill="#fff"/>
<rect x="319" y="1135.4" width="34" height="6.3" fill="#fff"/>
</g>
<g id="D">
<text x="479.50" y="603.30" font-size="59" text-anchor="start" fill="#000" stroke="#000" stroke-width="0.3" >D</text>
<circle cx="558.30" cy="639.30" r="5.3" fill="#1432ff" stroke="none" stroke-width="0"/>
<text x="590.50" y="649.80" font-size="29.7" text-anchor="start" fill="#000" stroke="#000" stroke-width="0.3" >DMSO</text>
<circle cx="725.00" cy="639.30" r="5.3" fill="#ff2a00" stroke="none" stroke-width="0"/>
<text x="757.00" y="650.40" font-size="29.5" text-anchor="start" fill="#000" stroke="#000" stroke-width="0.3" >Vincristine</text>
<circle cx="941.70" cy="641.20" r="5.3" fill="#00a000" stroke="none" stroke-width="0"/>
<text x="974.00" y="651.70" font-size="29.9" text-anchor="start" fill="#000" stroke="#000" stroke-width="0.3" >Test compounds</text>
<line x1="556.00" y1="947.70" x2="1186.00" y2="947.70" stroke="#000" stroke-width="1.6" stroke-dasharray="5,3"/>
<line x1="556.00" y1="856.20" x2="1186.00" y2="856.20" stroke="#000" stroke-width="1.6" stroke-dasharray="5,3"/>
<line x1="556.00" y1="764.70" x2="1186.00" y2="764.70" stroke="#000" stroke-width="1.6" stroke-dasharray="5,3"/>
<line x1="556.00" y1="673.20" x2="1186.00" y2="673.20" stroke="#000" stroke-width="1.6" stroke-dasharray="5,3"/>
<g fill="#00a000"><circle cx="558.0" cy="1044.0" r="5.3"/><circle cx="558.5" cy="1032.7" r="5.3"/><circle cx="558.9" cy="1021.3" r="5.3"/><circle cx="559.3" cy="1061.4" r="5.3"/><circle cx="559.7" cy="1071.0" r="5.3"/><circle cx="560.1" cy="1024.6" r="5.3"/><circle cx="560.8" cy="1029.6" r="5.3"/><circle cx="561.1" cy="1053.7" r="5.3"/><circle cx="561.6" cy="994.6" r="5.3"/><circle cx="562.1" cy="1021.6" r="5.3"/><circle cx="562.8" cy="1013.1" r="5.3"/><circle cx="563.4" cy="1036.4" r="5.3"/><circle cx="564.1" cy="1047.3" r="5.3"/><circle cx="564.4" cy="1048.9" r="5.3"/><circle cx="564.9" cy="1034.6" r="5.3"/><circle cx="565.4" cy="1008.9" r="5.3"/><circle cx="565.9" cy="1006.9" r="5.3"/><circle cx="566.6" cy="1063.9" r="5.3"/><circle cx="567.3" cy="1010.6" r="5.3"/><circle cx="568.0" cy="1031.2" r="5.3"/><circle cx="568.5" cy="1020.4" r="5.3"/><circle cx="569.0" cy="996.9" r="5.3"/><circle cx="569.3" cy="1047.4" r="5.3"/><circle cx="570.0" cy="1028.7" r="5.3"/><circle cx="570.3" cy="1024.1" r="5.3"/><circle cx="570.6" cy="1062.7" r="5.3"/><circle cx="571.0" cy="1045.4" r="5.3"/><circle cx="571.6" cy="997.4" r="5.3"/><circle cx="572.3" cy="1007.7" r="5.3"/><circle cx="572.7" cy="1017.5" r="5.3"/><circle cx="573.1" cy="1025.4" r="5.3"/><circle cx="573.8" cy="1024.0" r="5.3"/><circle cx="574.5" cy="1063.2" r="5.3"/><circle cx="575.0" cy="1015.0" r="5.3"/><circle cx="575.5" cy="1057.8" r="5.3"/><circle cx="576.0" cy="1056.1" r="5.3"/><circle cx="576.6" cy="1043.1" r="5.3"/><circle cx="577.1" cy="983.4" r="5.3"/><circle cx="577.4" cy="1031.2" r="5.3"/><circle cx="578.0" cy="1029.9" r="5.3"/><circle cx="578.3" cy="1053.4" r="5.3"/><circle cx="578.7" cy="1022.8" r="5.3"/><circle cx="579.3" cy="1004.4" r="5.3"/><circle cx="580.0" cy="1018.7" r="5.3"/><circle cx="580.5" cy="1035.2" r="5.3"/><circle cx="580.9" cy="1013.5" r="5.3"/><circle cx="581.4" cy="1049.3" r="5.3"/><circle cx="581.8" cy="1007.7" r="5.3"/><circle cx="582.3" cy="1022.9" r="5.3"/><circle cx="582.7" cy="997.8" r="5.3"/><circle cx="583.2" cy="1016.1" r="5.3"/><circle cx="583.7" cy="1046.2" r="5.3"/><circle cx="584.1" cy="1047.3" r="5.3"/><circle cx="584.7" cy="1042.8" r="5.3"/><circle cx="585.2" cy="1013.0" r="5.3"/><circle cx="585.5" cy="1042.1" r="5.3"/><circle cx="586.2" cy="1033.8" r="5.3"/><circle cx="586.7" cy="1030.1" r="5.3"/><circle cx="587.2" cy="1036.1" r="5.3"/><circle cx="587.6" cy="998.9" r="5.3"/><circle cx="588.0" cy="1060.7" r="5.3"/><circle cx="588.4" cy="1007.5" r="5.3"/><circle cx="589.1" cy="1039.3" r="5.3"/><circle cx="589.8" cy="1054.0" r="5.3"/><circle cx="590.2" cy="1015.1" r="5.3"/><circle cx="590.7" cy="1049.8" r="5.3"/><circle cx="591.1" cy="1007.5" r="5.3"/><circle cx="591.5" cy="1045.8" r="5.3"/><circle cx="591.8" cy="1063.0" r="5.3"/><circle cx="592.5" cy="1080.2" r="5.3"/><circle cx="593.0" cy="1028.5" r="5.3"/><circle cx="593.4" cy="1038.7" r="5.3"/><circle cx="594.0" cy="1006.4" r="5.3"/><circle cx="594.4" cy="1037.0" r="5.3"/><circle cx="595.0" cy="1025.0" r="5.3"/><circle cx="595.4" cy="1043.8" r="5.3"/><circle cx="596.0" cy="1018.2" r="5.3"/><circle cx="596.7" cy="1080.9" r="5.3"/><circle cx="597.0" cy="1024.7" r="5.3"/><circle cx="597.4" cy="1032.4" r="5.3"/><circle cx="597.9" cy="1057.4" r="5.3"/><circle cx="598.2" cy="1023.2" r="5.3"/><circle cx="598.5" cy="986.0" r="5.3"/><circle cx="599.2" cy="1008.9" r="5.3"/><circle cx="599.7" cy="1034.5" r="5.3"/><circle cx="600.2" cy="1004.6" r="5.3"/><circle cx="600.7" cy="1020.8" r="5.3"/><circle cx="601.2" cy="1010.6" r="5.3"/><circle cx="601.7" cy="1011.0" r="5.3"/><circle cx="602.2" cy="1037.6" r="5.3"/><circle cx="602.7" cy="1052.6" r="5.3"/><circle cx="603.1" cy="1028.2" r="5.3"/><circle cx="603.7" cy="1022.9" r="5.3"/><circle cx="604.1" cy="1032.7" r="5.3"/><circle cx="604.7" cy="1031.1" r="5.3"/><circle cx="605.3" cy="1041.2" r="5.3"/><circle cx="605.8" cy="1043.8" r="5.3"/><circle cx="606.2" cy="1028.4" r="5.3"/><circle cx="606.9" cy="997.3" r="5.3"/><circle cx="607.4" cy="1034.3" r="5.3"/><circle cx="608.0" cy="1018.5" r="5.3"/><circle cx="608.3" cy="1018.0" r="5.3"/><circle cx="608.6" cy="992.5" r="5.3"/><circle cx="609.0" cy="999.4" r="5.3"/><circle cx="609.6" cy="1004.9" r="5.3"/><circle cx="610.3" cy="1057.0" r="5.3"/><circle cx="610.8" cy="1030.4" r="5.3"/><circle cx="611.3" cy="1011.5" r="5.3"/><circle cx="611.7" cy="1012.4" r="5.3"/><circle cx="612.1" cy="1019.3" r="5.3"/><circle cx="612.7" cy="1012.5" r="5.3"/><circle cx="613.3" cy="1007.1" r="5.3"/><circle cx="613.7" cy="1028.2" r="5.3"/><circle cx="614.2" cy="1008.9" r="5.3"/><circle cx="614.7" cy="1058.6" r="5.3"/><circle cx="615.1" cy="1004.5" r="5.3"/><circle cx="615.7" cy="1034.1" r="5.3"/><circle cx="616.2" cy="1046.7" r="5.3"/><circle cx="616.6" cy="1017.6" r="5.3"/><circle cx="617.1" cy="1050.2" r="5.3"/><circle cx="617.7" cy="1018.3" r="5.3"/><circle cx="618.2" cy="1007.4" r="5.3"/><circle cx="618.6" cy="1005.4" r="5.3"/><circle cx="619.2" cy="1020.8" r="5.3"/><circle cx="619.8" cy="1018.4" r="5.3"/><circle cx="620.1" cy="1006.9" r="5.3"/><circle cx="620.6" cy="1025.6" r="5.3"/><circle cx="621.2" cy="1007.2" r="5.3"/><circle cx="621.9" cy="1030.7" r="5.3"/><circle cx="622.5" cy="1051.6" r="5.3"/><circle cx="623.0" cy="1022.6" r="5.3"/><circle cx="623.5" cy="1045.9" r="5.3"/><circle cx="624.2" cy="1015.9" r="5.3"/><circle cx="624.8" cy="1006.5" r="5.3"/><circle cx="625.5" cy="1045.3" r="5.3"/><circle cx="625.9" cy="1007.7" r="5.3"/><circle cx="626.4" cy="1039.9" r="5.3"/><circle cx="627.1" cy="1023.9" r="5.3"/><circle cx="627.6" cy="1011.7" r="5.3"/><circle cx="628.2" cy="1013.9" r="5.3"/><circle cx="628.6" cy="1018.0" r="5.3"/><circle cx="629.1" cy="1018.8" r="5.3"/><circle cx="629.6" cy="1048.9" r="5.3"/><circle cx="630.0" cy="1036.0" r="5.3"/><circle cx="630.4" cy="1020.9" r="5.3"/><circle cx="631.0" cy="1049.5" r="5.3"/><circle cx="631.4" cy="1056.7" r="5.3"/><circle cx="632.0" cy="999.2" r="5.3"/><circle cx="632.5" cy="1013.2" r="5.3"/><circle cx="633.1" cy="1052.4" r="5.3"/><circle cx="633.7" cy="1004.2" r="5.3"/><circle cx="634.1" cy="1006.0" r="5.3"/><circle cx="634.7" cy="1008.4" r="5.3"/><circle cx="635.3" cy="997.9" r="5.3"/><circle cx="635.9" cy="992.7" r="5.3"/><circle cx="636.3" cy="993.3" r="5.3"/><circle cx="636.9" cy="1037.3" r="5.3"/><circle cx="637.4" cy="1024.5" r="5.3"/><circle cx="637.7" cy="1022.5" r="5.3"/><circle cx="638.2" cy="1041.4" r="5.3"/><circle cx="638.7" cy="1039.5" r="5.3"/><circle cx="639.0" cy="997.2" r="5.3"/><circle cx="639.4" cy="1025.3" r="5.3"/><circle cx="639.9" cy="1006.7" r="5.3"/><circle cx="640.5" cy="1013.1" r="5.3"/><circle cx="640.9" cy="1023.2" r="5.3"/><circle cx="641.2" cy="1018.6" r="5.3"/><circle cx="641.6" cy="1026.6" r="5.3"/><circle cx="642.2" cy="1045.7" r="5.3"/><circle cx="642.6" cy="1037.0" r="5.3"/><circle cx="642.9" cy="1026.3" r="5.3"/><circle cx="643.3" cy="1048.2" r="5.3"/><circle cx="643.6" cy="1028.3" r="5.3"/><circle cx="644.1" cy="1040.0" r="5.3"/><circle cx="644.6" cy="995.0" r="5.3"/><circle cx="645.1" cy="1047.6" r="5.3"/><circle cx="645.5" cy="1017.4" r="5.3"/><circle cx="646.2" cy="1018.2" r="5.3"/><circle cx="646.7" cy="1026.6" r="5.3"/><circle cx="647.2" cy="1014.9" r="5.3"/><circle cx="647.7" cy="1035.2" r="5.3"/><circle cx="648.3" cy="1041.5" r="5.3"/><circle cx="648.7" cy="1047.7" r="5.3"/><circle cx="649.1" cy="1020.6" r="5.3"/><circle cx="649.5" cy="1005.4" r="5.3"/><circle cx="650.1" cy="1022.8" r="5.3"/><circle cx="650.5" cy="1062.5" r="5.3"/><circle cx="651.1" cy="1037.3" r="5.3"/><circle cx="651.5" cy="1029.1" r="5.3"/><circle cx="652.0" cy="1029.5" r="5.3"/><circle cx="652.5" cy="1011.5" r="5.3"/><circle cx="652.9" cy="1015.7" r="5.3"/><circle cx="653.3" cy="1032.3" r="5.3"/><circle cx="653.9" cy="1020.8" r="5.3"/><circle cx="654.4" cy="1024.8" r="5.3"/><circle cx="655.1" cy="1011.8" r="5.3"/><circle cx="655.5" cy="1036.8" r="5.3"/><circle cx="655.9" cy="1020.9" r="5.3"/><circle cx="656.3" cy="1039.3" r="5.3"/><circle cx="656.7" cy="1004.4" r="5.3"/><circle cx="657.0" cy="1015.5" r="5.3"/><circle cx="657.4" cy="1014.2" r="5.3"/><circle cx="657.9" cy="1001.3" r="5.3"/><circle cx="658.3" cy="1015.0" r="5.3"/><circle cx="658.6" cy="1020.0" r="5.3"/><circle cx="659.3" cy="1015.2" r="5.3"/><circle cx="659.7" cy="1006.7" r="5.3"/><circle cx="660.1" cy="999.5" r="5.3"/><circle cx="660.4" cy="1021.3" r="5.3"/><circle cx="660.9" cy="1029.7" r="5.3"/><circle cx="661.3" cy="1019.9" r="5.3"/><circle cx="661.9" cy="990.2" r="5.3"/><circle cx="662.2" cy="997.8" r="5.3"/><circle cx="662.5" cy="1021.0" r="5.3"/><circle cx="662.9" cy="1012.4" r="5.3"/><circle cx="663.4" cy="1044.9" r="5.3"/><circle cx="663.8" cy="1061.9" r="5.3"/><circle cx="664.5" cy="1043.2" r="5.3"/><circle cx="664.8" cy="1045.2" r="5.3"/><circle cx="665.1" cy="1039.5" r="5.3"/><circle cx="665.8" cy="1027.5" r="5.3"/><circle cx="666.3" cy="1040.3" r="5.3"/><circle cx="666.7" cy="1020.1" r="5.3"/><circle cx="667.2" cy="1062.9" r="5.3"/><circle cx="667.7" cy="1013.9" r="5.3"/><circle cx="668.2" cy="991.8" r="5.3"/><circle cx="668.5" cy="1035.6" r="5.3"/><circle cx="669.0" cy="1031.6" r="5.3"/><circle cx="669.3" cy="1000.8" r="5.3"/><circle cx="669.9" cy="1014.9" r="5.3"/><circle cx="670.3" cy="1005.5" r="5.3"/><circle cx="670.9" cy="1056.5" r="5.3"/><circle cx="671.4" cy="1046.5" r="5.3"/><circle cx="671.9" cy="1030.5" r="5.3"/><circle cx="672.3" cy="1036.2" r="5.3"/><circle cx="672.7" cy="1005.5" r="5.3"/><circle cx="673.2" cy="1009.1" r="5.3"/><circle cx="673.8" cy="1014.7" r="5.3"/><circle cx="674.1" cy="1007.0" r="5.3"/><circle cx="674.6" cy="1019.4" r="5.3"/><circle cx="675.2" cy="1012.8" r="5.3"/><circle cx="675.6" cy="1035.0" r="5.3"/><circle cx="675.9" cy="1044.1" r="5.3"/><circle cx="676.6" cy="1015.1" r="5.3"/><circle cx="677.3" cy="1027.5" r="5.3"/><circle cx="677.9" cy="1015.0" r="5.3"/><circle cx="678.5" cy="1007.8" r="5.3"/><circle cx="679.0" cy="1027.1" r="5.3"/><circle cx="679.4" cy="1059.5" r="5.3"/><circle cx="679.7" cy="1032.4" r="5.3"/><circle cx="680.2" cy="1005.2" r="5.3"/><circle cx="680.7" cy="1010.9" r="5.3"/><circle cx="681.2" cy="1036.1" r="5.3"/><circle cx="681.8" cy="1007.3" r="5.3"/><circle cx="682.2" cy="1050.6" r="5.3"/><circle cx="682.6" cy="1003.7" r="5.3"/><circle cx="682.9" cy="1048.4" r="5.3"/><circle cx="683.6" cy="1047.0" r="5.3"/><circle cx="684.3" cy="1048.6" r="5.3"/><circle cx="684.9" cy="1034.7" r="5.3"/><circle cx="685.4" cy="1059.6" r="5.3"/><circle cx="686.1" cy="989.2" r="5.3"/><circle cx="686.8" cy="997.7" r="5.3"/><circle cx="687.2" cy="1003.8" r="5.3"/><circle cx="687.8" cy="1017.6" r="5.3"/><circle cx="688.2" cy="1029.1" r="5.3"/><circle cx="688.8" cy="1018.8" r="5.3"/><circle cx="689.2" cy="1010.5" r="5.3"/><circle cx="689.6" cy="1015.4" r="5.3"/><circle cx="690.3" cy="1059.8" r="5.3"/><circle cx="690.9" cy="1010.5" r="5.3"/><circle cx="691.4" cy="1006.4" r="5.3"/><circle cx="691.9" cy="1010.0" r="5.3"/><circle cx="692.4" cy="1051.6" r="5.3"/><circle cx="693.0" cy="1016.0" r="5.3"/><circle cx="693.3" cy="990.5" r="5.3"/><circle cx="693.8" cy="1014.8" r="5.3"/><circle cx="694.2" cy="1013.1" r="5.3"/><circle cx="694.7" cy="1040.0" r="5.3"/><circle cx="695.0" cy="1057.4" r="5.3"/><circle cx="695.3" cy="1019.8" r="5.3"/><circle cx="695.8" cy="1013.2" r="5.3"/><circle cx="696.3" cy="1012.3" r="5.3"/><circle cx="696.7" cy="1031.8" r="5.3"/><circle cx="697.2" cy="1032.0" r="5.3"/><circle cx="697.8" cy="1046.3" r="5.3"/><circle cx="698.1" cy="1012.9" r="5.3"/><circle cx="698.8" cy="1034.3" r="5.3"/><circle cx="699.2" cy="996.1" r="5.3"/><circle cx="699.8" cy="1044.2" r="5.3"/><circle cx="700.3" cy="992.8" r="5.3"/><circle cx="700.9" cy="1029.0" r="5.3"/><circle cx="701.4" cy="1008.1" r="5.3"/><circle cx="702.1" cy="996.8" r="5.3"/><circle cx="702.5" cy="1042.8" r="5.3"/><circle cx="703.0" cy="1041.0" r="5.3"/><circle cx="703.4" cy="1032.3" r="5.3"/><circle cx="704.0" cy="1046.9" r="5.3"/><circle cx="704.7" cy="998.3" r="5.3"/><circle cx="705.2" cy="1013.5" r="5.3"/><circle cx="705.6" cy="1011.4" r="5.3"/><circle cx="706.2" cy="1020.9" r="5.3"/><circle cx="706.7" cy="1032.9" r="5.3"/><circle cx="707.1" cy="1048.8" r="5.3"/><circle cx="707.4" cy="1011.2" r="5.3"/><circle cx="707.8" cy="1052.6" r="5.3"/><circle cx="708.5" cy="1026.6" r="5.3"/><circle cx="708.9" cy="1009.7" r="5.3"/><circle cx="709.6" cy="1016.0" r="5.3"/><circle cx="709.9" cy="1007.4" r="5.3"/><circle cx="710.5" cy="1057.1" r="5.3"/><circle cx="710.8" cy="1037.2" r="5.3"/><circle cx="711.5" cy="1019.1" r="5.3"/><circle cx="711.9" cy="1000.4" r="5.3"/><circle cx="712.2" cy="1009.3" r="5.3"/><circle cx="712.9" cy="1019.4" r="5.3"/><circle cx="713.6" cy="1022.2" r="5.3"/><circle cx="713.9" cy="1023.8" r="5.3"/><circle cx="714.3" cy="1004.0" r="5.3"/><circle cx="714.6" cy="1062.3" r="5.3"/><circle cx="715.1" cy="1005.8" r="5.3"/><circle cx="715.8" cy="1008.1" r="5.3"/><circle cx="716.1" cy="1007.6" r="5.3"/><circle cx="716.8" cy="1007.4" r="5.3"/><circle cx="717.2" cy="1020.0" r="5.3"/><circle cx="717.6" cy="1018.0" r="5.3"/><circle cx="718.3" cy="1020.9" r="5.3"/><circle cx="718.6" cy="1029.5" r="5.3"/><circle cx="719.2" cy="1054.9" r="5.3"/><circle cx="719.7" cy="1024.2" r="5.3"/><circle cx="720.2" cy="1041.8" r="5.3"/><circle cx="720.9" cy="1033.9" r="5.3"/><circle cx="721.2" cy="1042.6" r="5.3"/><circle cx="721.7" cy="1024.8" r="5.3"/><circle cx="722.0" cy="1061.2" r="5.3"/><circle cx="722.3" cy="1001.1" r="5.3"/><circle cx="723.0" cy="1031.7" r="5.3"/><circle cx="723.5" cy="1018.4" r="5.3"/><circle cx="723.8" cy="1025.0" r="5.3"/><circle cx="724.4" cy="1014.2" r="5.3"/><circle cx="724.9" cy="1023.0" r="5.3"/><circle cx="725.4" cy="1037.8" r="5.3"/><circle cx="726.1" cy="1041.8" r="5.3"/><circle cx="726.8" cy="1027.7" r="5.3"/><circle cx="727.1" cy="1018.7" r="5.3"/><circle cx="727.7" cy="1030.7" r="5.3"/><circle cx="728.4" cy="1035.3" r="5.3"/><circle cx="729.0" cy="1044.0" r="5.3"/><circle cx="729.5" cy="1021.4" r="5.3"/><circle cx="730.0" cy="1047.9" r="5.3"/><circle cx="730.6" cy="1008.4" r="5.3"/><circle cx="731.3" cy="1028.8" r="5.3"/><circle cx="731.7" cy="1005.5" r="5.3"/><circle cx="732.3" cy="1027.7" r="5.3"/><circle cx="732.8" cy="1032.1" r="5.3"/><circle cx="733.2" cy="1017.7" r="5.3"/><circle cx="733.9" cy="1010.9" r="5.3"/><circle cx="734.3" cy="1009.0" r="5.3"/><circle cx="734.7" cy="1022.4" r="5.3"/><circle cx="735.0" cy="1006.4" r="5.3"/><circle cx="735.7" cy="1019.4" r="5.3"/><circle cx="736.3" cy="1062.7" r="5.3"/><circle cx="736.8" cy="995.2" r="5.3"/><circle cx="737.2" cy="996.3" r="5.3"/><circle cx="737.9" cy="1007.1" r="5.3"/><circle cx="738.4" cy="991.7" r="5.3"/><circle cx="738.7" cy="989.3" r="5.3"/><circle cx="739.1" cy="1015.9" r="5.3"/><circle cx="739.6" cy="1036.2" r="5.3"/><circle cx="740.1" cy="1008.7" r="5.3"/><circle cx="740.5" cy="1047.0" r="5.3"/><circle cx="740.9" cy="1023.0" r="5.3"/><circle cx="741.6" cy="1000.4" r="5.3"/><circle cx="742.1" cy="1045.0" r="5.3"/><circle cx="742.7" cy="1034.3" r="5.3"/><circle cx="743.4" cy="1007.7" r="5.3"/><circle cx="743.8" cy="1019.4" r="5.3"/><circle cx="744.5" cy="1019.9" r="5.3"/><circle cx="745.0" cy="1015.4" r="5.3"/><circle cx="745.7" cy="1000.7" r="5.3"/><circle cx="746.1" cy="1051.5" r="5.3"/><circle cx="746.5" cy="1032.6" r="5.3"/><circle cx="747.1" cy="1037.4" r="5.3"/><circle cx="747.6" cy="1021.3" r="5.3"/><circle cx="748.2" cy="1046.1" r="5.3"/><circle cx="748.6" cy="1027.2" r="5.3"/><circle cx="749.0" cy="1010.1" r="5.3"/><circle cx="749.6" cy="1050.2" r="5.3"/><circle cx="750.0" cy="1050.6" r="5.3"/><circle cx="750.3" cy="1011.1" r="5.3"/><circle cx="750.8" cy="1000.6" r="5.3"/><circle cx="751.2" cy="1039.7" r="5.3"/><circle cx="751.6" cy="1017.3" r="5.3"/><circle cx="752.2" cy="1005.7" r="5.3"/><circle cx="752.5" cy="1035.1" r="5.3"/><circle cx="752.9" cy="1010.5" r="5.3"/><circle cx="753.3" cy="1024.3" r="5.3"/><circle cx="753.9" cy="1023.1" r="5.3"/><circle cx="754.4" cy="1028.3" r="5.3"/><circle cx="754.8" cy="1052.7" r="5.3"/><circle cx="755.4" cy="1027.5" r="5.3"/><circle cx="756.1" cy="1022.8" r="5.3"/><circle cx="756.5" cy="1037.2" r="5.3"/><circle cx="757.2" cy="1018.4" r="5.3"/><circle cx="757.5" cy="1030.0" r="5.3"/><circle cx="758.1" cy="996.9" r="5.3"/><circle cx="758.6" cy="1056.9" r="5.3"/><circle cx="759.2" cy="1014.7" r="5.3"/><circle cx="759.7" cy="1012.8" r="5.3"/><circle cx="760.1" cy="1026.1" r="5.3"/><circle cx="760.6" cy="993.3" r="5.3"/><circle cx="761.1" cy="1057.5" r="5.3"/><circle cx="761.7" cy="1017.8" r="5.3"/><circle cx="762.3" cy="992.6" r="5.3"/><circle cx="762.7" cy="1008.2" r="5.3"/><circle cx="763.3" cy="1001.1" r="5.3"/><circle cx="763.8" cy="1010.7" r="5.3"/><circle cx="764.4" cy="1000.7" r="5.3"/><circle cx="764.8" cy="1015.8" r="5.3"/><circle cx="765.2" cy="981.9" r="5.3"/><circle cx="765.7" cy="1006.6" r="5.3"/><circle cx="766.0" cy="995.6" r="5.3"/><circle cx="766.7" cy="1054.8" r="5.3"/><circle cx="767.0" cy="997.1" r="5.3"/><circle cx="767.4" cy="1029.1" r="5.3"/><circle cx="767.9" cy="964.8" r="5.3"/><circle cx="768.3" cy="1040.9" r="5.3"/><circle cx="768.8" cy="972.9" r="5.3"/><circle cx="769.2" cy="1041.8" r="5.3"/><circle cx="769.9" cy="1024.6" r="5.3"/><circle cx="770.4" cy="992.1" r="5.3"/><circle cx="771.1" cy="974.9" r="5.3"/><circle cx="771.7" cy="1002.6" r="5.3"/><circle cx="772.2" cy="1008.1" r="5.3"/><circle cx="772.9" cy="1023.7" r="5.3"/><circle cx="773.4" cy="1046.0" r="5.3"/><circle cx="773.8" cy="1011.2" r="5.3"/><circle cx="774.1" cy="1004.8" r="5.3"/><circle cx="774.6" cy="994.1" r="5.3"/><circle cx="775.3" cy="1056.4" r="5.3"/><circle cx="775.9" cy="972.4" r="5.3"/><circle cx="776.5" cy="1042.5" r="5.3"/><circle cx="776.9" cy="964.9" r="5.3"/><circle cx="777.4" cy="999.0" r="5.3"/><circle cx="777.7" cy="1007.7" r="5.3"/><circle cx="778.1" cy="1017.4" r="5.3"/><circle cx="778.7" cy="1044.9" r="5.3"/><circle cx="779.0" cy="1044.8" r="5.3"/><circle cx="779.5" cy="969.6" r="5.3"/><circle cx="779.9" cy="996.2" r="5.3"/><circle cx="780.2" cy="998.9" r="5.3"/><circle cx="780.5" cy="1006.1" r="5.3"/><circle cx="780.9" cy="1032.4" r="5.3"/><circle cx="781.4" cy="1035.8" r="5.3"/><circle cx="781.8" cy="1001.4" r="5.3"/><circle cx="782.3" cy="1039.8" r="5.3"/><circle cx="782.8" cy="1002.5" r="5.3"/><circle cx="783.2" cy="991.1" r="5.3"/><circle cx="783.7" cy="996.3" r="5.3"/><circle cx="784.0" cy="991.2" r="5.3"/><circle cx="784.4" cy="998.3" r="5.3"/><circle cx="784.9" cy="963.8" r="5.3"/><circle cx="785.5" cy="1009.6" r="5.3"/><circle cx="785.8" cy="1042.1" r="5.3"/><circle cx="786.3" cy="973.2" r="5.3"/><circle cx="786.9" cy="1006.2" r="5.3"/><circle cx="787.2" cy="1041.3" r="5.3"/><circle cx="787.9" cy="979.8" r="5.3"/><circle cx="788.4" cy="994.7" r="5.3"/><circle cx="788.9" cy="952.8" r="5.3"/><circle cx="789.4" cy="1005.0" r="5.3"/><circle cx="790.1" cy="1031.6" r="5.3"/><circle cx="790.6" cy="1010.8" r="5.3"/><circle cx="791.1" cy="992.6" r="5.3"/><circle cx="791.6" cy="989.8" r="5.3"/><circle cx="792.3" cy="996.5" r="5.3"/><circle cx="792.6" cy="1026.6" r="5.3"/><circle cx="793.1" cy="1001.4" r="5.3"/><circle cx="793.5" cy="1041.0" r="5.3"/><circle cx="793.8" cy="999.0" r="5.3"/><circle cx="794.3" cy="1058.3" r="5.3"/><circle cx="794.9" cy="981.4" r="5.3"/><circle cx="795.3" cy="979.6" r="5.3"/><circle cx="795.9" cy="992.4" r="5.3"/><circle cx="796.4" cy="1012.2" r="5.3"/><circle cx="797.0" cy="1035.3" r="5.3"/><circle cx="797.5" cy="998.6" r="5.3"/><circle cx="797.9" cy="989.7" r="5.3"/><circle cx="798.5" cy="991.7" r="5.3"/><circle cx="798.8" cy="987.6" r="5.3"/><circle cx="799.2" cy="1053.3" r="5.3"/><circle cx="799.7" cy="1002.0" r="5.3"/><circle cx="800.3" cy="1014.9" r="5.3"/><circle cx="800.7" cy="972.6" r="5.3"/><circle cx="801.1" cy="1016.3" r="5.3"/><circle cx="801.7" cy="1011.8" r="5.3"/><circle cx="802.3" cy="1011.2" r="5.3"/><circle cx="802.8" cy="980.0" r="5.3"/><circle cx="803.2" cy="1004.3" r="5.3"/><circle cx="803.6" cy="1065.4" r="5.3"/><circle cx="804.2" cy="985.2" r="5.3"/><circle cx="804.8" cy="1046.2" r="5.3"/><circle cx="805.2" cy="980.6" r="5.3"/><circle cx="805.8" cy="1048.1" r="5.3"/><circle cx="806.3" cy="987.7" r="5.3"/><circle cx="806.8" cy="961.0" r="5.3"/><circle cx="807.2" cy="1045.6" r="5.3"/><circle cx="807.9" cy="991.7" r="5.3"/><circle cx="808.4" cy="1046.4" r="5.3"/><circle cx="809.0" cy="987.5" r="5.3"/><circle cx="809.4" cy="1043.1" r="5.3"/><circle cx="809.9" cy="955.5" r="5.3"/><circle cx="810.2" cy="1012.8" r="5.3"/><circle cx="810.7" cy="1002.2" r="5.3"/><circle cx="811.4" cy="1045.3" r="5.3"/><circle cx="811.7" cy="1029.8" r="5.3"/><circle cx="812.1" cy="955.6" r="5.3"/><circle cx="812.8" cy="1003.3" r="5.3"/><circle cx="813.1" cy="957.3" r="5.3"/><circle cx="813.5" cy="981.3" r="5.3"/><circle cx="814.2" cy="981.0" r="5.3"/><circle cx="814.8" cy="1002.8" r="5.3"/><circle cx="815.4" cy="1010.6" r="5.3"/><circle cx="816.0" cy="972.8" r="5.3"/><circle cx="816.3" cy="957.9" r="5.3"/><circle cx="816.7" cy="989.4" r="5.3"/><circle cx="817.2" cy="1004.8" r="5.3"/><circle cx="817.6" cy="973.9" r="5.3"/><circle cx="818.0" cy="991.7" r="5.3"/><circle cx="818.7" cy="1015.0" r="5.3"/><circle cx="819.0" cy="983.0" r="5.3"/><circle cx="819.5" cy="1012.7" r="5.3"/><circle cx="820.1" cy="1006.8" r="5.3"/><circle cx="820.4" cy="981.7" r="5.3"/><circle cx="820.9" cy="1015.4" r="5.3"/><circle cx="821.5" cy="989.0" r="5.3"/><circle cx="822.2" cy="987.5" r="5.3"/><circle cx="822.8" cy="1003.9" r="5.3"/><circle cx="823.1" cy="976.1" r="5.3"/><circle cx="823.8" cy="1060.6" r="5.3"/><circle cx="824.1" cy="970.8" r="5.3"/><circle cx="824.6" cy="975.8" r="5.3"/><circle cx="825.2" cy="1053.9" r="5.3"/><circle cx="825.7" cy="1029.4" r="5.3"/><circle cx="826.4" cy="965.1" r="5.3"/><circle cx="826.8" cy="977.2" r="5.3"/><circle cx="827.1" cy="996.4" r="5.3"/><circle cx="827.6" cy="1048.1" r="5.3"/><circle cx="828.0" cy="996.3" r="5.3"/><circle cx="828.6" cy="1021.2" r="5.3"/><circle cx="828.9" cy="1041.0" r="5.3"/><circle cx="829.3" cy="1006.5" r="5.3"/><circle cx="829.6" cy="1056.1" r="5.3"/><circle cx="830.2" cy="987.6" r="5.3"/><circle cx="830.8" cy="1040.9" r="5.3"/><circle cx="831.2" cy="1007.0" r="5.3"/><circle cx="831.8" cy="1012.7" r="5.3"/><circle cx="832.4" cy="980.8" r="5.3"/><circle cx="832.9" cy="992.7" r="5.3"/><circle cx="833.2" cy="1053.2" r="5.3"/><circle cx="833.8" cy="1034.2" r="5.3"/><circle cx="834.3" cy="968.7" r="5.3"/><circle cx="834.6" cy="1009.6" r="5.3"/><circle cx="835.3" cy="1005.8" r="5.3"/><circle cx="835.8" cy="1016.0" r="5.3"/><circle cx="836.3" cy="1010.7" r="5.3"/><circle cx="836.7" cy="1039.9" r="5.3"/><circle cx="837.2" cy="1030.6" r="5.3"/><circle cx="837.5" cy="1022.8" r="5.3"/><circle cx="837.9" cy="984.9" r="5.3"/><circle cx="838.2" cy="995.8" r="5.3"/><circle cx="838.6" cy="995.6" r="5.3"/><circle cx="839.3" cy="1009.4" r="5.3"/><circle cx="839.8" cy="1048.6" r="5.3"/><circle cx="840.4" cy="1015.4" r="5.3"/><circle cx="840.7" cy="1041.7" r="5.3"/><circle cx="841.2" cy="1012.8" r="5.3"/><circle cx="841.7" cy="1054.2" r="5.3"/><circle cx="842.2" cy="973.5" r="5.3"/><circle cx="842.6" cy="986.0" r="5.3"/><circle cx="843.1" cy="984.6" r="5.3"/><circle cx="843.4" cy="1044.3" r="5.3"/><circle cx="843.9" cy="1001.8" r="5.3"/><circle cx="844.2" cy="1021.0" r="5.3"/><circle cx="844.6" cy="1040.9" r="5.3"/><circle cx="845.0" cy="1039.8" r="5.3"/><circle cx="845.7" cy="983.6" r="5.3"/><circle cx="846.2" cy="979.4" r="5.3"/><circle cx="846.9" cy="1032.7" r="5.3"/><circle cx="847.5" cy="1051.5" r="5.3"/><circle cx="847.9" cy="986.9" r="5.3"/><circle cx="848.5" cy="987.1" r="5.3"/><circle cx="849.1" cy="972.6" r="5.3"/><circle cx="849.7" cy="1056.3" r="5.3"/><circle cx="850.0" cy="1008.7" r="5.3"/><circle cx="850.5" cy="1038.5" r="5.3"/><circle cx="851.1" cy="1048.5" r="5.3"/><circle cx="851.6" cy="1011.8" r="5.3"/><circle cx="852.3" cy="1011.1" r="5.3"/><circle cx="852.7" cy="1035.6" r="5.3"/><circle cx="853.0" cy="1007.5" r="5.3"/><circle cx="853.5" cy="994.2" r="5.3"/><circle cx="854.2" cy="1061.5" r="5.3"/><circle cx="854.8" cy="1014.8" r="5.3"/><circle cx="855.5" cy="1030.2" r="5.3"/><circle cx="855.9" cy="997.1" r="5.3"/><circle cx="856.5" cy="994.2" r="5.3"/><circle cx="857.1" cy="1019.7" r="5.3"/><circle cx="857.5" cy="1050.3" r="5.3"/><circle cx="858.1" cy="1010.8" r="5.3"/><circle cx="858.6" cy="1006.8" r="5.3"/><circle cx="859.3" cy="949.5" r="5.3"/><circle cx="859.7" cy="999.4" r="5.3"/><circle cx="860.2" cy="1029.7" r="5.3"/><circle cx="860.8" cy="1012.7" r="5.3"/><circle cx="861.3" cy="977.5" r="5.3"/><circle cx="861.9" cy="1036.5" r="5.3"/><circle cx="862.6" cy="979.7" r="5.3"/><circle cx="863.1" cy="1029.7" r="5.3"/><circle cx="863.7" cy="988.8" r="5.3"/><circle cx="864.1" cy="979.2" r="5.3"/><circle cx="864.5" cy="1037.7" r="5.3"/><circle cx="865.1" cy="994.7" r="5.3"/><circle cx="865.6" cy="1013.7" r="5.3"/><circle cx="866.3" cy="994.8" r="5.3"/><circle cx="866.9" cy="1003.0" r="5.3"/><circle cx="867.4" cy="977.1" r="5.3"/><circle cx="868.1" cy="988.2" r="5.3"/><circle cx="868.5" cy="1057.6" r="5.3"/><circle cx="869.0" cy="963.9" r="5.3"/><circle cx="869.7" cy="995.9" r="5.3"/><circle cx="870.0" cy="963.2" r="5.3"/><circle cx="870.6" cy="1013.5" r="5.3"/><circle cx="871.3" cy="969.6" r="5.3"/><circle cx="871.8" cy="1041.0" r="5.3"/><circle cx="872.5" cy="963.5" r="5.3"/><circle cx="872.9" cy="992.0" r="5.3"/><circle cx="873.3" cy="1007.3" r="5.3"/><circle cx="873.6" cy="1064.4" r="5.3"/><circle cx="874.3" cy="984.2" r="5.3"/><circle cx="874.9" cy="994.3" r="5.3"/><circle cx="875.4" cy="989.6" r="5.3"/><circle cx="875.9" cy="1042.4" r="5.3"/><circle cx="876.2" cy="976.1" r="5.3"/><circle cx="876.9" cy="987.5" r="5.3"/><circle cx="877.4" cy="984.0" r="5.3"/><circle cx="878.1" cy="977.6" r="5.3"/><circle cx="878.7" cy="1014.4" r="5.3"/><circle cx="879.0" cy="998.3" r="5.3"/><circle cx="879.4" cy="1047.1" r="5.3"/><circle cx="880.0" cy="1039.5" r="5.3"/><circle cx="880.7" cy="1024.1" r="5.3"/><circle cx="881.2" cy="1001.8" r="5.3"/><circle cx="881.6" cy="1007.1" r="5.3"/><circle cx="881.9" cy="1058.9" r="5.3"/><circle cx="882.6" cy="1019.3" r="5.3"/><circle cx="883.3" cy="1046.1" r="5.3"/><circle cx="883.9" cy="1040.9" r="5.3"/><circle cx="884.5" cy="1013.9" r="5.3"/><circle cx="884.9" cy="1012.4" r="5.3"/><circle cx="885.5" cy="1004.8" r="5.3"/><circle cx="886.2" cy="1009.7" r="5.3"/><circle cx="886.8" cy="1035.7" r="5.3"/><circle cx="887.4" cy="1012.8" r="5.3"/><circle cx="888.0" cy="993.3" r="5.3"/><circle cx="888.3" cy="1053.8" r="5.3"/><circle cx="888.8" cy="1008.3" r="5.3"/><circle cx="889.2" cy="1004.6" r="5.3"/><circle cx="889.9" cy="991.4" r="5.3"/><circle cx="890.5" cy="1029.9" r="5.3"/><circle cx="890.9" cy="1017.6" r="5.3"/><circle cx="891.5" cy="1011.0" r="5.3"/><circle cx="892.0" cy="1014.0" r="5.3"/><circle cx="892.4" cy="1014.3" r="5.3"/><circle cx="892.8" cy="993.8" r="5.3"/><circle cx="893.5" cy="1011.3" r="5.3"/><circle cx="894.1" cy="1007.7" r="5.3"/><circle cx="894.5" cy="1030.5" r="5.3"/><circle cx="895.0" cy="1025.4" r="5.3"/><circle cx="895.7" cy="1062.5" r="5.3"/><circle cx="896.0" cy="1032.4" r="5.3"/><circle cx="896.3" cy="1033.1" r="5.3"/><circle cx="897.0" cy="1013.5" r="5.3"/><circle cx="897.5" cy="1027.1" r="5.3"/><circle cx="898.0" cy="1061.4" r="5.3"/><circle cx="898.4" cy="1013.5" r="5.3"/><circle cx="899.0" cy="1003.7" r="5.3"/><circle cx="899.6" cy="1012.2" r="5.3"/><circle cx="900.1" cy="999.3" r="5.3"/><circle cx="900.7" cy="1002.0" r="5.3"/><circle cx="901.3" cy="996.9" r="5.3"/><circle cx="901.8" cy="999.0" r="5.3"/><circle cx="902.3" cy="1018.6" r="5.3"/><circle cx="902.9" cy="1014.2" r="5.3"/><circle cx="903.4" cy="991.8" r="5.3"/><circle cx="903.9" cy="1003.6" r="5.3"/><circle cx="904.4" cy="1044.5" r="5.3"/><circle cx="904.7" cy="1050.8" r="5.3"/><circle cx="905.1" cy="998.0" r="5.3"/><circle cx="905.5" cy="987.5" r="5.3"/><circle cx="906.1" cy="1028.6" r="5.3"/><circle cx="906.7" cy="1037.7" r="5.3"/><circle cx="907.2" cy="1021.7" r="5.3"/><circle cx="907.8" cy="1024.6" r="5.3"/><circle cx="908.4" cy="1017.4" r="5.3"/><circle cx="908.7" cy="1048.0" r="5.3"/><circle cx="909.4" cy="1000.0" r="5.3"/><circle cx="909.7" cy="1025.8" r="5.3"/><circle cx="910.0" cy="1052.3" r="5.3"/><circle cx="910.7" cy="976.3" r="5.3"/><circle cx="911.1" cy="1007.8" r="5.3"/><circle cx="911.5" cy="1014.7" r="5.3"/><circle cx="912.1" cy="1015.2" r="5.3"/><circle cx="912.6" cy="993.7" r="5.3"/><circle cx="913.3" cy="1037.2" r="5.3"/><circle cx="913.7" cy="1003.7" r="5.3"/><circle cx="914.3" cy="986.7" r="5.3"/><circle cx="914.8" cy="1025.3" r="5.3"/><circle cx="915.1" cy="1053.4" r="5.3"/><circle cx="915.5" cy="1003.3" r="5.3"/><circle cx="916.1" cy="1027.6" r="5.3"/><circle cx="916.7" cy="1015.0" r="5.3"/><circle cx="917.1" cy="994.5" r="5.3"/><circle cx="917.6" cy="1036.5" r="5.3"/><circle cx="918.3" cy="998.2" r="5.3"/><circle cx="918.9" cy="989.9" r="5.3"/><circle cx="919.3" cy="1040.9" r="5.3"/><circle cx="920.0" cy="1038.6" r="5.3"/><circle cx="920.6" cy="999.2" r="5.3"/><circle cx="920.9" cy="1053.0" r="5.3"/><circle cx="921.6" cy="1038.6" r="5.3"/><circle cx="922.0" cy="999.1" r="5.3"/><circle cx="922.6" cy="979.0" r="5.3"/><circle cx="923.2" cy="1008.4" r="5.3"/><circle cx="923.6" cy="1023.0" r="5.3"/><circle cx="924.1" cy="1016.1" r="5.3"/><circle cx="924.5" cy="1048.5" r="5.3"/><circle cx="925.2" cy="1002.9" r="5.3"/><circle cx="925.8" cy="1000.2" r="5.3"/><circle cx="926.4" cy="997.4" r="5.3"/><circle cx="927.1" cy="1000.7" r="5.3"/><circle cx="927.6" cy="1013.7" r="5.3"/><circle cx="927.9" cy="1020.2" r="5.3"/><circle cx="928.3" cy="994.3" r="5.3"/><circle cx="928.7" cy="1037.3" r="5.3"/><circle cx="929.4" cy="1000.6" r="5.3"/><circle cx="929.8" cy="1041.7" r="5.3"/><circle cx="930.1" cy="1003.0" r="5.3"/><circle cx="930.7" cy="1013.9" r="5.3"/><circle cx="931.1" cy="982.3" r="5.3"/><circle cx="931.6" cy="1016.2" r="5.3"/><circle cx="932.2" cy="1046.5" r="5.3"/><circle cx="932.7" cy="1024.5" r="5.3"/><circle cx="933.0" cy="1024.1" r="5.3"/><circle cx="933.4" cy="1011.3" r="5.3"/><circle cx="933.8" cy="1032.3" r="5.3"/><circle cx="934.3" cy="1001.3" r="5.3"/><circle cx="934.7" cy="1043.4" r="5.3"/><circle cx="935.1" cy="970.8" r="5.3"/><circle cx="935.7" cy="1017.7" r="5.3"/><circle cx="936.2" cy="1008.8" r="5.3"/><circle cx="936.5" cy="994.5" r="5.3"/><circle cx="937.1" cy="1023.8" r="5.3"/><circle cx="937.7" cy="1002.5" r="5.3"/><circle cx="938.0" cy="1053.7" r="5.3"/><circle cx="938.7" cy="1004.9" r="5.3"/><circle cx="939.1" cy="1022.8" r="5.3"/><circle cx="939.6" cy="1002.0" r="5.3"/><circle cx="940.1" cy="1006.7" r="5.3"/><circle cx="940.5" cy="1056.8" r="5.3"/><circle cx="941.0" cy="1009.0" r="5.3"/><circle cx="941.5" cy="1042.6" r="5.3"/><circle cx="942.1" cy="1001.9" r="5.3"/><circle cx="942.5" cy="999.1" r="5.3"/><circle cx="943.1" cy="1023.6" r="5.3"/><circle cx="943.6" cy="1045.0" r="5.3"/><circle cx="944.1" cy="1010.3" r="5.3"/><circle cx="944.7" cy="992.0" r="5.3"/><circle cx="945.2" cy="1003.6" r="5.3"/><circle cx="945.8" cy="997.9" r="5.3"/><circle cx="946.2" cy="1022.9" r="5.3"/><circle cx="946.6" cy="1010.1" r="5.3"/><circle cx="947.0" cy="1013.3" r="5.3"/><circle cx="947.5" cy="1011.8" r="5.3"/><circle cx="948.2" cy="1036.0" r="5.3"/><circle cx="948.7" cy="991.3" r="5.3"/><circle cx="949.3" cy="1042.6" r="5.3"/><circle cx="950.0" cy="1028.6" r="5.3"/><circle cx="950.6" cy="989.7" r="5.3"/><circle cx="951.0" cy="1030.6" r="5.3"/><circle cx="951.5" cy="1025.8" r="5.3"/><circle cx="952.2" cy="984.7" r="5.3"/><circle cx="952.7" cy="999.0" r="5.3"/><circle cx="953.0" cy="1030.0" r="5.3"/><circle cx="953.6" cy="1000.8" r="5.3"/><circle cx="954.1" cy="989.5" r="5.3"/><circle cx="954.4" cy="1054.5" r="5.3"/><circle cx="955.0" cy="1001.2" r="5.3"/><circle cx="955.5" cy="1011.7" r="5.3"/><circle cx="955.9" cy="1045.1" r="5.3"/><circle cx="956.2" cy="999.8" r="5.3"/><circle cx="956.7" cy="1019.8" r="5.3"/><circle cx="957.3" cy="1008.0" r="5.3"/><circle cx="958.0" cy="1008.6" r="5.3"/><circle cx="958.5" cy="1008.1" r="5.3"/><circle cx="959.0" cy="1022.4" r="5.3"/><circle cx="959.7" cy="1000.6" r="5.3"/><circle cx="960.4" cy="993.6" r="5.3"/><circle cx="960.7" cy="1040.9" r="5.3"/><circle cx="961.3" cy="1046.7" r="5.3"/><circle cx="961.7" cy="1050.3" r="5.3"/><circle cx="962.3" cy="992.4" r="5.3"/><circle cx="962.6" cy="1021.0" r="5.3"/><circle cx="962.9" cy="1028.9" r="5.3"/><circle cx="963.3" cy="1046.4" r="5.3"/><circle cx="963.9" cy="1048.7" r="5.3"/><circle cx="964.4" cy="1028.8" r="5.3"/><circle cx="965.0" cy="1053.8" r="5.3"/><circle cx="965.6" cy="1047.8" r="5.3"/><circle cx="966.0" cy="1015.6" r="5.3"/><circle cx="966.4" cy="1019.0" r="5.3"/><circle cx="966.8" cy="1006.2" r="5.3"/><circle cx="967.3" cy="1012.0" r="5.3"/><circle cx="967.7" cy="1019.2" r="5.3"/><circle cx="968.4" cy="1032.2" r="5.3"/><circle cx="968.7" cy="1059.6" r="5.3"/><circle cx="969.1" cy="1037.4" r="5.3"/><circle cx="969.5" cy="1003.4" r="5.3"/><circle cx="969.9" cy="1025.5" r="5.3"/><circle cx="970.4" cy="1014.9" r="5.3"/><circle cx="970.8" cy="1005.6" r="5.3"/><circle cx="971.4" cy="1034.9" r="5.3"/><circle cx="972.1" cy="1047.5" r="5.3"/><circle cx="972.4" cy="1017.8" r="5.3"/><circle cx="973.1" cy="1035.6" r="5.3"/><circle cx="973.4" cy="1018.2" r="5.3"/><circle cx="974.1" cy="1039.4" r="5.3"/><circle cx="974.7" cy="1035.7" r="5.3"/><circle cx="975.1" cy="990.0" r="5.3"/><circle cx="975.5" cy="1030.6" r="5.3"/><circle cx="976.1" cy="1016.7" r="5.3"/><circle cx="976.5" cy="1031.8" r="5.3"/><circle cx="977.1" cy="1012.1" r="5.3"/><circle cx="977.5" cy="1015.8" r="5.3"/><circle cx="978.1" cy="1033.3" r="5.3"/><circle cx="978.6" cy="1051.5" r="5.3"/><circle cx="979.1" cy="1024.8" r="5.3"/><circle cx="979.4" cy="1053.7" r="5.3"/><circle cx="980.0" cy="1037.7" r="5.3"/><circle cx="980.4" cy="1016.7" r="5.3"/><circle cx="981.0" cy="1024.6" r="5.3"/><circle cx="981.4" cy="1030.6" r="5.3"/><circle cx="982.0" cy="1010.1" r="5.3"/><circle cx="982.7" cy="1027.0" r="5.3"/><circle cx="983.2" cy="1011.7" r="5.3"/><circle cx="983.9" cy="1044.2" r="5.3"/><circle cx="984.5" cy="1046.7" r="5.3"/><circle cx="984.9" cy="1018.2" r="5.3"/><circle cx="985.4" cy="1054.5" r="5.3"/><circle cx="985.7" cy="1035.0" r="5.3"/><circle cx="986.3" cy="1039.8" r="5.3"/><circle cx="986.8" cy="1049.7" r="5.3"/><circle cx="987.1" cy="1007.3" r="5.3"/><circle cx="987.6" cy="995.5" r="5.3"/><circle cx="988.2" cy="1032.1" r="5.3"/><circle cx="988.8" cy="1011.6" r="5.3"/><circle cx="989.5" cy="1059.5" r="5.3"/><circle cx="990.0" cy="1036.7" r="5.3"/><circle cx="990.4" cy="1050.9" r="5.3"/><circle cx="991.0" cy="1003.0" r="5.3"/><circle cx="991.7" cy="1023.2" r="5.3"/><circle cx="992.0" cy="1017.5" r="5.3"/><circle cx="992.6" cy="998.4" r="5.3"/><circle cx="992.9" cy="1008.0" r="5.3"/><circle cx="993.2" cy="995.7" r="5.3"/><circle cx="993.7" cy="1028.4" r="5.3"/><circle cx="994.1" cy="1010.9" r="5.3"/><circle cx="994.6" cy="1027.2" r="5.3"/><circle cx="995.3" cy="1001.8" r="5.3"/><circle cx="996.0" cy="1042.4" r="5.3"/><circle cx="996.5" cy="1020.2" r="5.3"/><circle cx="996.8" cy="1030.3" r="5.3"/><circle cx="997.2" cy="1021.0" r="5.3"/><circle cx="997.7" cy="1027.6" r="5.3"/><circle cx="998.2" cy="1043.1" r="5.3"/><circle cx="998.6" cy="1043.9" r="5.3"/><circle cx="999.1" cy="1049.8" r="5.3"/><circle cx="999.4" cy="1014.6" r="5.3"/><circle cx="999.9" cy="1032.8" r="5.3"/><circle cx="1000.4" cy="1012.7" r="5.3"/><circle cx="1001.1" cy="1043.8" r="5.3"/><circle cx="1001.8" cy="1003.3" r="5.3"/><circle cx="1002.1" cy="1000.3" r="5.3"/><circle cx="1002.6" cy="1021.6" r="5.3"/><circle cx="1003.2" cy="1053.3" r="5.3"/><circle cx="1003.8" cy="1047.4" r="5.3"/><circle cx="1004.1" cy="1008.9" r="5.3"/><circle cx="1004.4" cy="1005.8" r="5.3"/><circle cx="1005.1" cy="1042.2" r="5.3"/><circle cx="1005.6" cy="1029.9" r="5.3"/><circle cx="1006.2" cy="1035.8" r="5.3"/><circle cx="1006.8" cy="1018.7" r="5.3"/><circle cx="1007.1" cy="1010.4" r="5.3"/><circle cx="1007.7" cy="1023.3" r="5.3"/><circle cx="1008.1" cy="1004.2" r="5.3"/><circle cx="1008.6" cy="1007.5" r="5.3"/><circle cx="1009.2" cy="1048.4" r="5.3"/><circle cx="1009.8" cy="992.7" r="5.3"/><circle cx="1010.4" cy="1018.7" r="5.3"/><circle cx="1010.8" cy="1039.8" r="5.3"/><circle cx="1011.4" cy="1007.0" r="5.3"/><circle cx="1011.9" cy="1025.0" r="5.3"/><circle cx="1012.4" cy="1020.8" r="5.3"/><circle cx="1012.9" cy="1023.6" r="5.3"/><circle cx="1013.5" cy="1039.0" r="5.3"/><circle cx="1014.2" cy="1018.3" r="5.3"/><circle cx="1014.7" cy="1010.5" r="5.3"/><circle cx="1015.1" cy="1025.5" r="5.3"/><circle cx="1015.5" cy="1021.6" r="5.3"/><circle cx="1015.9" cy="999.5" r="5.3"/><circle cx="1016.6" cy="1055.4" r="5.3"/><circle cx="1017.2" cy="1001.4" r="5.3"/><circle cx="1017.7" cy="1016.2" r="5.3"/><circle cx="1018.1" cy="1038.8" r="5.3"/><circle cx="1018.4" cy="1026.1" r="5.3"/><circle cx="1018.8" cy="1040.6" r="5.3"/><circle cx="1019.4" cy="1024.6" r="5.3"/><circle cx="1019.8" cy="1023.3" r="5.3"/><circle cx="1020.2" cy="1059.6" r="5.3"/><circle cx="1020.9" cy="1030.9" r="5.3"/><circle cx="1021.5" cy="1050.5" r="5.3"/><circle cx="1021.9" cy="1028.0" r="5.3"/><circle cx="1022.3" cy="1026.8" r="5.3"/><circle cx="1022.7" cy="1035.9" r="5.3"/><circle cx="1023.2" cy="1028.0" r="5.3"/><circle cx="1023.9" cy="1035.5" r="5.3"/><circle cx="1024.4" cy="1024.1" r="5.3"/><circle cx="1024.7" cy="1028.8" r="5.3"/><circle cx="1025.3" cy="1023.4" r="5.3"/><circle cx="1025.7" cy="999.8" r="5.3"/><circle cx="1026.1" cy="1014.1" r="5.3"/><circle cx="1026.8" cy="1021.0" r="5.3"/><circle cx="1027.5" cy="1044.3" r="5.3"/><circle cx="1027.9" cy="1038.1" r="5.3"/><circle cx="1028.5" cy="1042.6" r="5.3"/><circle cx="1029.1" cy="1030.3" r="5.3"/><circle cx="1029.5" cy="1021.2" r="5.3"/><circle cx="1030.0" cy="1029.5" r="5.3"/><circle cx="1030.6" cy="1033.8" r="5.3"/><circle cx="1031.1" cy="1008.2" r="5.3"/><circle cx="1031.5" cy="1002.4" r="5.3"/><circle cx="1032.1" cy="1013.6" r="5.3"/><circle cx="1032.7" cy="1042.3" r="5.3"/><circle cx="1033.1" cy="1028.3" r="5.3"/><circle cx="1033.4" cy="1004.3" r="5.3"/><circle cx="1034.0" cy="1010.2" r="5.3"/><circle cx="1034.4" cy="1006.2" r="5.3"/><circle cx="1034.9" cy="1027.1" r="5.3"/><circle cx="1035.5" cy="1017.5" r="5.3"/><circle cx="1036.1" cy="1012.1" r="5.3"/><circle cx="1036.5" cy="1057.4" r="5.3"/><circle cx="1037.1" cy="1021.7" r="5.3"/><circle cx="1037.5" cy="1029.6" r="5.3"/><circle cx="1037.9" cy="1035.8" r="5.3"/><circle cx="1038.4" cy="1010.0" r="5.3"/><circle cx="1038.8" cy="1037.6" r="5.3"/><circle cx="1039.3" cy="1040.9" r="5.3"/><circle cx="1039.8" cy="1006.1" r="5.3"/><circle cx="1040.2" cy="1051.3" r="5.3"/><circle cx="1040.5" cy="1033.7" r="5.3"/><circle cx="1040.8" cy="1012.3" r="5.3"/><circle cx="1041.2" cy="1007.3" r="5.3"/><circle cx="1041.6" cy="1004.6" r="5.3"/><circle cx="1042.3" cy="1003.1" r="5.3"/><circle cx="1043.0" cy="1023.1" r="5.3"/><circle cx="1043.7" cy="1026.5" r="5.3"/><circle cx="1044.3" cy="1012.7" r="5.3"/><circle cx="1044.9" cy="1042.5" r="5.3"/><circle cx="1045.4" cy="991.0" r="5.3"/><circle cx="1045.9" cy="1013.2" r="5.3"/><circle cx="1046.5" cy="1030.5" r="5.3"/><circle cx="1047.2" cy="1044.9" r="5.3"/><circle cx="1047.9" cy="1022.9" r="5.3"/><circle cx="1048.5" cy="1021.8" r="5.3"/><circle cx="1048.9" cy="1010.8" r="5.3"/><circle cx="1049.6" cy="1003.7" r="5.3"/><circle cx="1050.3" cy="1017.5" r="5.3"/><circle cx="1050.7" cy="1038.9" r="5.3"/><circle cx="1051.1" cy="1024.0" r="5.3"/><circle cx="1051.8" cy="1031.8" r="5.3"/><circle cx="1052.4" cy="1030.0" r="5.3"/><circle cx="1053.1" cy="1039.4" r="5.3"/><circle cx="1053.6" cy="991.0" r="5.3"/><circle cx="1054.2" cy="1004.4" r="5.3"/><circle cx="1054.5" cy="1020.2" r="5.3"/><circle cx="1054.9" cy="1028.5" r="5.3"/><circle cx="1055.4" cy="1004.0" r="5.3"/><circle cx="1056.0" cy="1011.7" r="5.3"/><circle cx="1056.3" cy="1008.8" r="5.3"/><circle cx="1056.7" cy="1031.0" r="5.3"/><circle cx="1057.1" cy="1000.2" r="5.3"/><circle cx="1057.6" cy="1044.3" r="5.3"/><circle cx="1058.2" cy="985.3" r="5.3"/><circle cx="1058.6" cy="1006.2" r="5.3"/><circle cx="1059.0" cy="1024.5" r="5.3"/><circle cx="1059.4" cy="1027.9" r="5.3"/><circle cx="1059.9" cy="1009.2" r="5.3"/><circle cx="1060.5" cy="1004.3" r="5.3"/><circle cx="1060.9" cy="1048.6" r="5.3"/><circle cx="1061.3" cy="1059.8" r="5.3"/><circle cx="1061.8" cy="983.9" r="5.3"/><circle cx="1062.2" cy="1014.8" r="5.3"/><circle cx="1062.5" cy="997.9" r="5.3"/><circle cx="1063.0" cy="1024.0" r="5.3"/><circle cx="1063.5" cy="1014.1" r="5.3"/><circle cx="1064.2" cy="1055.0" r="5.3"/><circle cx="1064.8" cy="1004.5" r="5.3"/><circle cx="1065.5" cy="998.1" r="5.3"/><circle cx="1066.0" cy="1005.7" r="5.3"/><circle cx="1066.4" cy="1053.0" r="5.3"/><circle cx="1066.8" cy="1026.0" r="5.3"/><circle cx="1067.1" cy="1004.4" r="5.3"/><circle cx="1067.7" cy="1031.2" r="5.3"/><circle cx="1068.0" cy="1024.1" r="5.3"/><circle cx="1068.5" cy="1009.5" r="5.3"/><circle cx="1069.1" cy="1023.5" r="5.3"/><circle cx="1069.5" cy="1021.0" r="5.3"/><circle cx="1069.8" cy="1008.7" r="5.3"/><circle cx="1070.2" cy="1006.1" r="5.3"/><circle cx="1070.7" cy="1035.4" r="5.3"/><circle cx="1071.3" cy="991.8" r="5.3"/><circle cx="1072.0" cy="997.2" r="5.3"/><circle cx="1072.5" cy="1054.0" r="5.3"/><circle cx="1072.9" cy="1013.4" r="5.3"/><circle cx="1073.5" cy="1040.1" r="5.3"/><circle cx="1073.9" cy="992.4" r="5.3"/><circle cx="1074.3" cy="1017.7" r="5.3"/><circle cx="1074.9" cy="1013.1" r="5.3"/><circle cx="1075.2" cy="1014.7" r="5.3"/><circle cx="1075.9" cy="988.3" r="5.3"/><circle cx="1076.5" cy="1014.1" r="5.3"/><circle cx="1077.2" cy="995.9" r="5.3"/><circle cx="1077.7" cy="1002.0" r="5.3"/><circle cx="1078.2" cy="998.6" r="5.3"/><circle cx="1078.7" cy="1027.9" r="5.3"/><circle cx="1079.1" cy="1043.9" r="5.3"/><circle cx="1079.8" cy="1023.8" r="5.3"/><circle cx="1080.2" cy="1004.2" r="5.3"/><circle cx="1080.7" cy="1049.8" r="5.3"/><circle cx="1081.2" cy="1004.1" r="5.3"/><circle cx="1081.7" cy="1006.5" r="5.3"/><circle cx="1082.0" cy="1052.7" r="5.3"/><circle cx="1082.3" cy="1055.3" r="5.3"/><circle cx="1082.7" cy="1014.9" r="5.3"/><circle cx="1083.1" cy="992.4" r="5.3"/><circle cx="1083.6" cy="986.7" r="5.3"/><circle cx="1084.1" cy="1002.6" r="5.3"/><circle cx="1084.7" cy="1017.3" r="5.3"/><circle cx="1085.3" cy="1066.2" r="5.3"/><circle cx="1085.8" cy="1004.0" r="5.3"/><circle cx="1086.5" cy="1003.8" r="5.3"/><circle cx="1087.0" cy="1009.0" r="5.3"/><circle cx="1087.3" cy="1054.7" r="5.3"/><circle cx="1087.7" cy="983.3" r="5.3"/><circle cx="1088.2" cy="1035.9" r="5.3"/><circle cx="1088.6" cy="1022.5" r="5.3"/><circle cx="1089.0" cy="1008.9" r="5.3"/><circle cx="1089.7" cy="1011.6" r="5.3"/><circle cx="1090.1" cy="984.9" r="5.3"/><circle cx="1090.6" cy="1004.7" r="5.3"/><circle cx="1091.1" cy="1006.6" r="5.3"/><circle cx="1091.4" cy="1023.6" r="5.3"/><circle cx="1092.1" cy="994.2" r="5.3"/><circle cx="1092.5" cy="1004.3" r="5.3"/><circle cx="1093.1" cy="1042.0" r="5.3"/><circle cx="1093.7" cy="1035.6" r="5.3"/><circle cx="1094.0" cy="1050.5" r="5.3"/><circle cx="1094.7" cy="1014.9" r="5.3"/><circle cx="1095.4" cy="997.0" r="5.3"/><circle cx="1096.0" cy="1003.9" r="5.3"/><circle cx="1096.6" cy="1013.7" r="5.3"/><circle cx="1097.3" cy="1024.6" r="5.3"/><circle cx="1097.8" cy="1001.3" r="5.3"/><circle cx="1098.2" cy="1018.0" r="5.3"/><circle cx="1098.8" cy="1031.5" r="5.3"/><circle cx="1099.2" cy="1008.1" r="5.3"/><circle cx="1099.7" cy="1016.2" r="5.3"/><circle cx="1100.3" cy="1051.3" r="5.3"/><circle cx="1100.8" cy="970.2" r="5.3"/><circle cx="1101.4" cy="1000.4" r="5.3"/><circle cx="1102.0" cy="1021.3" r="5.3"/><circle cx="1102.6" cy="1021.9" r="5.3"/><circle cx="1103.0" cy="1014.2" r="5.3"/><circle cx="1103.5" cy="1041.0" r="5.3"/><circle cx="1103.9" cy="1013.1" r="5.3"/><circle cx="1104.5" cy="1010.1" r="5.3"/><circle cx="1104.8" cy="1040.4" r="5.3"/><circle cx="1105.5" cy="1046.5" r="5.3"/><circle cx="1106.1" cy="1005.5" r="5.3"/><circle cx="1106.7" cy="1027.9" r="5.3"/><circle cx="1107.2" cy="1005.8" r="5.3"/><circle cx="1107.8" cy="1050.0" r="5.3"/><circle cx="1108.4" cy="1048.7" r="5.3"/><circle cx="1109.1" cy="1009.2" r="5.3"/><circle cx="1109.7" cy="1029.0" r="5.3"/><circle cx="1110.2" cy="1005.1" r="5.3"/><circle cx="1110.8" cy="1018.2" r="5.3"/><circle cx="1111.4" cy="1013.1" r="5.3"/><circle cx="1111.9" cy="1028.9" r="5.3"/><circle cx="1112.5" cy="985.5" r="5.3"/><circle cx="1113.0" cy="1032.7" r="5.3"/><circle cx="1113.4" cy="1013.2" r="5.3"/><circle cx="1113.9" cy="1055.4" r="5.3"/><circle cx="1114.3" cy="990.4" r="5.3"/><circle cx="1114.7" cy="1039.4" r="5.3"/><circle cx="1115.2" cy="1004.9" r="5.3"/><circle cx="1115.8" cy="1030.0" r="5.3"/><circle cx="1116.1" cy="996.8" r="5.3"/><circle cx="1116.7" cy="1003.4" r="5.3"/><circle cx="1117.4" cy="1007.2" r="5.3"/><circle cx="1117.8" cy="1008.5" r="5.3"/><circle cx="1118.2" cy="1014.4" r="5.3"/><circle cx="1118.8" cy="1029.3" r="5.3"/><circle cx="1119.1" cy="1004.1" r="5.3"/><circle cx="1119.4" cy="1040.2" r="5.3"/><circle cx="1120.0" cy="1011.1" r="5.3"/><circle cx="1120.5" cy="992.6" r="5.3"/><circle cx="1120.9" cy="1012.9" r="5.3"/><circle cx="1121.4" cy="1016.7" r="5.3"/><circle cx="1121.9" cy="1059.6" r="5.3"/><circle cx="1122.4" cy="986.7" r="5.3"/><circle cx="1122.9" cy="1050.1" r="5.3"/><circle cx="1123.5" cy="1031.9" r="5.3"/><circle cx="1124.0" cy="997.1" r="5.3"/><circle cx="1124.5" cy="1014.9" r="5.3"/><circle cx="1124.9" cy="1018.8" r="5.3"/><circle cx="1125.2" cy="1024.5" r="5.3"/><circle cx="1125.8" cy="1046.4" r="5.3"/><circle cx="1126.3" cy="988.7" r="5.3"/><circle cx="1126.8" cy="1024.4" r="5.3"/><circle cx="1127.1" cy="1018.3" r="5.3"/><circle cx="1127.5" cy="1026.9" r="5.3"/><circle cx="1128.0" cy="1023.4" r="5.3"/><circle cx="1128.4" cy="1021.7" r="5.3"/><circle cx="1129.0" cy="1039.3" r="5.3"/><circle cx="1129.5" cy="988.5" r="5.3"/><circle cx="1129.9" cy="1042.9" r="5.3"/><circle cx="1130.2" cy="1041.9" r="5.3"/><circle cx="1130.7" cy="1015.2" r="5.3"/><circle cx="1131.1" cy="994.2" r="5.3"/><circle cx="1131.8" cy="1013.7" r="5.3"/><circle cx="1132.2" cy="998.9" r="5.3"/><circle cx="1132.7" cy="1026.7" r="5.3"/><circle cx="1133.2" cy="1035.6" r="5.3"/><circle cx="1133.6" cy="997.7" r="5.3"/><circle cx="1134.0" cy="1007.5" r="5.3"/><circle cx="1134.7" cy="1017.5" r="5.3"/><circle cx="1135.3" cy="1011.3" r="5.3"/><circle cx="1135.9" cy="1010.2" r="5.3"/><circle cx="1136.4" cy="987.1" r="5.3"/><circle cx="1137.1" cy="1009.0" r="5.3"/><circle cx="1137.6" cy="1008.3" r="5.3"/><circle cx="1138.0" cy="1010.0" r="5.3"/><circle cx="1138.6" cy="1052.9" r="5.3"/><circle cx="1139.2" cy="992.4" r="5.3"/><circle cx="1139.9" cy="1050.1" r="5.3"/><circle cx="1140.3" cy="1002.0" r="5.3"/><circle cx="1140.7" cy="1019.1" r="5.3"/><circle cx="1141.2" cy="1009.7" r="5.3"/><circle cx="1141.6" cy="1012.5" r="5.3"/><circle cx="1142.2" cy="1056.5" r="5.3"/><circle cx="1142.9" cy="1060.6" r="5.3"/><circle cx="1143.4" cy="1022.0" r="5.3"/><circle cx="1143.8" cy="1013.7" r="5.3"/><circle cx="1144.3" cy="976.0" r="5.3"/><circle cx="1144.7" cy="990.5" r="5.3"/><circle cx="1145.2" cy="1005.2" r="5.3"/><circle cx="1145.7" cy="1066.8" r="5.3"/><circle cx="1146.1" cy="1031.9" r="5.3"/><circle cx="1146.5" cy="979.1" r="5.3"/><circle cx="1147.1" cy="998.8" r="5.3"/><circle cx="1147.6" cy="1006.1" r="5.3"/><circle cx="1148.0" cy="1013.9" r="5.3"/><circle cx="1148.5" cy="1002.8" r="5.3"/><circle cx="1148.9" cy="1038.8" r="5.3"/><circle cx="1149.4" cy="1021.2" r="5.3"/><circle cx="1149.7" cy="1006.1" r="5.3"/><circle cx="1150.2" cy="1046.9" r="5.3"/><circle cx="1150.5" cy="1013.6" r="5.3"/><circle cx="1151.1" cy="1030.3" r="5.3"/><circle cx="1151.7" cy="1022.2" r="5.3"/><circle cx="1152.1" cy="1027.5" r="5.3"/><circle cx="1152.6" cy="1042.2" r="5.3"/><circle cx="1153.0" cy="1033.1" r="5.3"/><circle cx="1153.4" cy="1025.6" r="5.3"/><circle cx="1153.9" cy="1006.6" r="5.3"/><circle cx="1154.2" cy="1001.6" r="5.3"/><circle cx="1154.8" cy="985.1" r="5.3"/><circle cx="1155.4" cy="1005.7" r="5.3"/><circle cx="1156.1" cy="1011.4" r="5.3"/><circle cx="1156.7" cy="1027.8" r="5.3"/><circle cx="1157.4" cy="997.6" r="5.3"/><circle cx="1157.9" cy="1009.4" r="5.3"/><circle cx="1158.5" cy="979.7" r="5.3"/><circle cx="1158.9" cy="1060.4" r="5.3"/><circle cx="1159.4" cy="1006.3" r="5.3"/><circle cx="1160.0" cy="1003.4" r="5.3"/><circle cx="1160.4" cy="1015.2" r="5.3"/><circle cx="1160.8" cy="1005.7" r="5.3"/><circle cx="1161.1" cy="1007.8" r="5.3"/><circle cx="1161.6" cy="1011.4" r="5.3"/><circle cx="1162.1" cy="1059.4" r="5.3"/><circle cx="1162.8" cy="1008.2" r="5.3"/><circle cx="1163.2" cy="1059.5" r="5.3"/><circle cx="1163.5" cy="994.0" r="5.3"/><circle cx="1164.1" cy="1023.7" r="5.3"/><circle cx="1164.5" cy="1020.9" r="5.3"/><circle cx="1165.2" cy="1040.1" r="5.3"/><circle cx="1165.8" cy="986.7" r="5.3"/><circle cx="1166.2" cy="1031.5" r="5.3"/><circle cx="1166.5" cy="1033.4" r="5.3"/><circle cx="1166.9" cy="1003.6" r="5.3"/><circle cx="1167.4" cy="1005.2" r="5.3"/><circle cx="1167.7" cy="1005.4" r="5.3"/><circle cx="1168.4" cy="1011.1" r="5.3"/><circle cx="1169.0" cy="1058.8" r="5.3"/><circle cx="1169.3" cy="1001.1" r="5.3"/><circle cx="1170.0" cy="1030.2" r="5.3"/><circle cx="1170.6" cy="1007.2" r="5.3"/><circle cx="1171.0" cy="1030.7" r="5.3"/><circle cx="1171.4" cy="1036.3" r="5.3"/><circle cx="1171.9" cy="1027.0" r="5.3"/><circle cx="1172.4" cy="1036.9" r="5.3"/><circle cx="1173.0" cy="1066.8" r="5.3"/><circle cx="1173.4" cy="1015.4" r="5.3"/><circle cx="1174.1" cy="993.1" r="5.3"/><circle cx="1174.6" cy="1006.5" r="5.3"/><circle cx="1175.3" cy="1039.2" r="5.3"/><circle cx="1175.9" cy="1011.3" r="5.3"/><circle cx="1176.2" cy="1008.6" r="5.3"/><circle cx="1176.5" cy="1051.3" r="5.3"/><circle cx="1176.9" cy="1016.6" r="5.3"/><circle cx="1177.2" cy="1016.2" r="5.3"/><circle cx="1177.6" cy="1004.4" r="5.3"/><circle cx="1177.9" cy="1010.1" r="5.3"/><circle cx="1178.5" cy="1023.6" r="5.3"/><circle cx="1179.1" cy="1015.5" r="5.3"/><circle cx="1179.5" cy="982.5" r="5.3"/><circle cx="1179.9" cy="1026.3" r="5.3"/><circle cx="1180.2" cy="1004.3" r="5.3"/><circle cx="1180.6" cy="1010.1" r="5.3"/><circle cx="1181.1" cy="1042.6" r="5.3"/><circle cx="1181.7" cy="1032.1" r="5.3"/><circle cx="1182.2" cy="1013.3" r="5.3"/><circle cx="1182.7" cy="1046.7" r="5.3"/><circle cx="1183.3" cy="1006.5" r="5.3"/><circle cx="1183.9" cy="1009.9" r="5.3"/><circle cx="1184.6" cy="1025.6" r="5.3"/><circle cx="1185.1" cy="1002.9" r="5.3"/><circle cx="1185.5" cy="1005.7" r="5.3"/><circle cx="674.3" cy="907.5" r="5.3"/><circle cx="743.9" cy="899.8" r="5.3"/><circle cx="803.6" cy="914.4" r="5.3"/><circle cx="708.7" cy="946.0" r="5.3"/><circle cx="591.3" cy="954.3" r="5.3"/><circle cx="768.6" cy="941.9" r="5.3"/><circle cx="775.5" cy="944.6" r="5.3"/><circle cx="795.6" cy="950.0" r="5.3"/><circle cx="810.0" cy="957.0" r="5.3"/><circle cx="1020.7" cy="942.7" r="5.3"/><circle cx="1154.7" cy="950.1" r="5.3"/><circle cx="949.0" cy="952.9" r="5.3"/><circle cx="914.0" cy="954.8" r="5.3"/><circle cx="918.0" cy="955.5" r="5.3"/><circle cx="1128.5" cy="965.3" r="5.3"/><circle cx="606.0" cy="969.0" r="5.3"/><circle cx="655.0" cy="962.0" r="5.3"/><circle cx="667.0" cy="977.0" r="5.3"/><circle cx="697.0" cy="980.0" r="5.3"/><circle cx="715.0" cy="962.0" r="5.3"/><circle cx="740.0" cy="975.0" r="5.3"/><circle cx="860.0" cy="963.0" r="5.3"/><circle cx="889.0" cy="968.0" r="5.3"/><circle cx="931.0" cy="975.0" r="5.3"/><circle cx="1067.0" cy="955.0" r="5.3"/><circle cx="1000.0" cy="975.0" r="5.3"/><circle cx="1015.0" cy="970.0" r="5.3"/></g>
<g fill="#ff2a00"><circle cx="559.0" cy="1025.4" r="5.3"/><circle cx="562.2" cy="1040.7" r="5.3"/><circle cx="566.2" cy="1036.4" r="5.3"/><circle cx="570.1" cy="1047.0" r="5.3"/><circle cx="573.9" cy="1029.8" r="5.3"/><circle cx="577.8" cy="1056.2" r="5.3"/><circle cx="581.7" cy="1017.2" r="5.3"/><circle cx="585.9" cy="1043.8" r="5.3"/><circle cx="590.3" cy="1013.9" r="5.3"/><circle cx="594.1" cy="1041.8" r="5.3"/><circle cx="598.0" cy="1061.3" r="5.3"/><circle cx="602.4" cy="1048.4" r="5.3"/><circle cx="606.2" cy="1042.6" r="5.3"/><circle cx="609.9" cy="1038.3" r="5.3"/><circle cx="613.5" cy="1044.3" r="5.3"/><circle cx="617.9" cy="1060.7" r="5.3"/><circle cx="621.4" cy="1040.8" r="5.3"/><circle cx="626.0" cy="1046.2" r="5.3"/><circle cx="629.8" cy="1039.5" r="5.3"/><circle cx="634.1" cy="1062.4" r="5.3"/><circle cx="638.6" cy="1024.5" r="5.3"/><circle cx="642.4" cy="1037.5" r="5.3"/><circle cx="646.1" cy="1041.2" r="5.3"/><circle cx="649.4" cy="1039.5" r="5.3"/><circle cx="653.0" cy="1031.1" r="5.3"/><circle cx="656.8" cy="1040.0" r="5.3"/><circle cx="661.3" cy="1032.1" r="5.3"/><circle cx="665.3" cy="1026.3" r="5.3"/><circle cx="669.3" cy="1044.3" r="5.3"/><circle cx="673.0" cy="1027.8" r="5.3"/><circle cx="676.2" cy="1045.5" r="5.3"/><circle cx="679.5" cy="1042.7" r="5.3"/><circle cx="683.8" cy="1036.9" r="5.3"/><circle cx="688.3" cy="1062.1" r="5.3"/><circle cx="691.6" cy="1050.7" r="5.3"/><circle cx="695.2" cy="1042.6" r="5.3"/><circle cx="699.5" cy="1040.2" r="5.3"/><circle cx="702.8" cy="1044.1" r="5.3"/><circle cx="706.8" cy="1046.6" r="5.3"/><circle cx="711.0" cy="1023.7" r="5.3"/><circle cx="714.5" cy="1040.4" r="5.3"/><circle cx="717.7" cy="1039.7" r="5.3"/><circle cx="721.4" cy="1027.6" r="5.3"/><circle cx="725.6" cy="1029.3" r="5.3"/><circle cx="729.0" cy="1045.0" r="5.3"/><circle cx="733.4" cy="1033.1" r="5.3"/><circle cx="737.8" cy="1030.2" r="5.3"/><circle cx="741.6" cy="1042.8" r="5.3"/><circle cx="746.1" cy="1034.2" r="5.3"/><circle cx="750.6" cy="1028.8" r="5.3"/><circle cx="754.0" cy="1043.8" r="5.3"/><circle cx="757.7" cy="1037.2" r="5.3"/><circle cx="761.3" cy="1038.6" r="5.3"/><circle cx="765.3" cy="1041.4" r="5.3"/><circle cx="768.7" cy="1023.2" r="5.3"/><circle cx="773.0" cy="1042.4" r="5.3"/><circle cx="777.0" cy="1056.3" r="5.3"/><circle cx="781.1" cy="1034.0" r="5.3"/><circle cx="785.6" cy="1032.9" r="5.3"/><circle cx="789.8" cy="1038.8" r="5.3"/><circle cx="794.3" cy="1045.0" r="5.3"/><circle cx="797.6" cy="1032.7" r="5.3"/><circle cx="801.4" cy="1029.2" r="5.3"/><circle cx="805.4" cy="1034.6" r="5.3"/><circle cx="809.2" cy="1063.6" r="5.3"/><circle cx="812.8" cy="1039.6" r="5.3"/><circle cx="817.2" cy="1020.4" r="5.3"/><circle cx="820.6" cy="1056.4" r="5.3"/><circle cx="824.5" cy="1043.1" r="5.3"/><circle cx="828.9" cy="1034.2" r="5.3"/><circle cx="833.5" cy="1057.7" r="5.3"/><circle cx="837.1" cy="1044.7" r="5.3"/><circle cx="841.0" cy="1032.4" r="5.3"/><circle cx="845.5" cy="1020.3" r="5.3"/><circle cx="849.5" cy="1044.9" r="5.3"/><circle cx="853.1" cy="1042.3" r="5.3"/><circle cx="856.7" cy="1051.0" r="5.3"/><circle cx="860.2" cy="1044.5" r="5.3"/><circle cx="864.6" cy="1049.9" r="5.3"/><circle cx="869.1" cy="1058.5" r="5.3"/><circle cx="873.4" cy="1027.7" r="5.3"/><circle cx="877.6" cy="1030.1" r="5.3"/><circle cx="881.3" cy="1031.1" r="5.3"/><circle cx="884.6" cy="1040.9" r="5.3"/><circle cx="888.7" cy="1042.3" r="5.3"/><circle cx="893.0" cy="1053.0" r="5.3"/><circle cx="896.9" cy="1055.9" r="5.3"/><circle cx="900.5" cy="1057.9" r="5.3"/><circle cx="903.9" cy="1046.3" r="5.3"/><circle cx="908.3" cy="1042.8" r="5.3"/><circle cx="912.7" cy="1031.0" r="5.3"/><circle cx="917.2" cy="1050.5" r="5.3"/><circle cx="921.2" cy="1038.1" r="5.3"/><circle cx="925.2" cy="1028.2" r="5.3"/><circle cx="929.5" cy="1038.0" r="5.3"/><circle cx="933.0" cy="1046.9" r="5.3"/><circle cx="936.5" cy="1037.7" r="5.3"/><circle cx="940.9" cy="1041.8" r="5.3"/><circle cx="945.2" cy="1048.5" r="5.3"/><circle cx="948.8" cy="1029.1" r="5.3"/><circle cx="953.3" cy="1028.4" r="5.3"/><circle cx="957.8" cy="1049.7" r="5.3"/><circle cx="961.9" cy="1041.5" r="5.3"/><circle cx="966.4" cy="1044.3" r="5.3"/><circle cx="969.9" cy="1034.3" r="5.3"/><circle cx="973.2" cy="1040.5" r="5.3"/><circle cx="976.6" cy="1022.4" r="5.3"/><circle cx="980.6" cy="1032.8" r="5.3"/><circle cx="984.3" cy="1046.9" r="5.3"/><circle cx="988.6" cy="1042.8" r="5.3"/><circle cx="992.3" cy="1042.1" r="5.3"/><circle cx="996.8" cy="1016.1" r="5.3"/><circle cx="1000.9" cy="1024.5" r="5.3"/><circle cx="1005.3" cy="1033.6" r="5.3"/><circle cx="1008.7" cy="1029.6" r="5.3"/><circle cx="1013.0" cy="1032.4" r="5.3"/><circle cx="1017.4" cy="1038.4" r="5.3"/><circle cx="1021.8" cy="1037.3" r="5.3"/><circle cx="1026.3" cy="1029.2" r="5.3"/><circle cx="1030.1" cy="1044.2" r="5.3"/><circle cx="1034.5" cy="1037.9" r="5.3"/><circle cx="1039.1" cy="1040.3" r="5.3"/><circle cx="1043.6" cy="1028.2" r="5.3"/><circle cx="1047.5" cy="1040.1" r="5.3"/><circle cx="1051.2" cy="1023.4" r="5.3"/><circle cx="1055.5" cy="1031.9" r="5.3"/><circle cx="1058.8" cy="1038.7" r="5.3"/><circle cx="1063.0" cy="1043.5" r="5.3"/><circle cx="1066.6" cy="1055.7" r="5.3"/><circle cx="1070.3" cy="1039.8" r="5.3"/><circle cx="1074.8" cy="1049.2" r="5.3"/><circle cx="1078.8" cy="1028.8" r="5.3"/><circle cx="1082.1" cy="1042.2" r="5.3"/><circle cx="1086.6" cy="1048.3" r="5.3"/><circle cx="1090.8" cy="1046.4" r="5.3"/><circle cx="1095.1" cy="1043.9" r="5.3"/><circle cx="1099.0" cy="1054.5" r="5.3"/><circle cx="1103.1" cy="1051.4" r="5.3"/><circle cx="1106.5" cy="1036.2" r="5.3"/><circle cx="1110.9" cy="1040.6" r="5.3"/><circle cx="1115.2" cy="1047.1" r="5.3"/><circle cx="1118.9" cy="1043.5" r="5.3"/><circle cx="1123.2" cy="1042.0" r="5.3"/><circle cx="1126.5" cy="1046.6" r="5.3"/><circle cx="1130.5" cy="1037.0" r="5.3"/><circle cx="1134.5" cy="1032.7" r="5.3"/><circle cx="1138.5" cy="1047.2" r="5.3"/><circle cx="1142.0" cy="1029.2" r="5.3"/><circle cx="1146.1" cy="1049.0" r="5.3"/><circle cx="1150.0" cy="1024.3" r="5.3"/><circle cx="1153.6" cy="1044.1" r="5.3"/><circle cx="1157.6" cy="1046.9" r="5.3"/><circle cx="1161.2" cy="1048.1" r="5.3"/><circle cx="1165.1" cy="1030.6" r="5.3"/><circle cx="1168.4" cy="1027.3" r="5.3"/><circle cx="1172.6" cy="1042.1" r="5.3"/><circle cx="1176.7" cy="1037.1" r="5.3"/><circle cx="1180.0" cy="1042.3" r="5.3"/><circle cx="1184.1" cy="1034.7" r="5.3"/></g>
<g fill="#00a000"><circle cx="641.6" cy="1026.6" r="5.3"/><circle cx="650.5" cy="1062.5" r="5.3"/><circle cx="652.0" cy="1029.5" r="5.3"/><circle cx="699.8" cy="1044.2" r="5.3"/><circle cx="707.1" cy="1048.8" r="5.3"/><circle cx="767.4" cy="1029.1" r="5.3"/><circle cx="794.3" cy="1058.3" r="5.3"/><circle cx="811.7" cy="1029.8" r="5.3"/><circle cx="833.2" cy="1053.2" r="5.3"/><circle cx="850.5" cy="1038.5" r="5.3"/><circle cx="883.3" cy="1046.1" r="5.3"/><circle cx="949.3" cy="1042.6" r="5.3"/><circle cx="1029.1" cy="1030.3" r="5.3"/><circle cx="1043.7" cy="1026.5" r="5.3"/><circle cx="1051.8" cy="1031.8" r="5.3"/><circle cx="1115.8" cy="1030.0" r="5.3"/><circle cx="1171.9" cy="1027.0" r="5.3"/><circle cx="1179.9" cy="1026.3" r="5.3"/><circle cx="1184.6" cy="1025.6" r="5.3"/></g>
<g fill="#1432ff"><circle cx="558.5" cy="867.5" r="5.3"/><circle cx="563.5" cy="861.8" r="5.3"/><circle cx="572.0" cy="863.3" r="5.3"/><circle cx="576.2" cy="842.7" r="5.3"/><circle cx="580.5" cy="876.7" r="5.3"/><circle cx="584.7" cy="869.6" r="5.3"/><circle cx="589.4" cy="890.2" r="5.3"/><circle cx="593.6" cy="721.9" r="5.3"/><circle cx="598.2" cy="691.4" r="5.3"/><circle cx="602.1" cy="790.3" r="5.3"/><circle cx="606.2" cy="783.2" r="5.3"/><circle cx="611.2" cy="810.1" r="5.3"/><circle cx="615.2" cy="781.8" r="5.3"/><circle cx="619.4" cy="781.8" r="5.3"/><circle cx="624.4" cy="758.7" r="5.3"/><circle cx="628.6" cy="831.7" r="5.3"/><circle cx="632.9" cy="818.9" r="5.3"/><circle cx="637.1" cy="800.2" r="5.3"/><circle cx="641.8" cy="805.6" r="5.3"/><circle cx="645.9" cy="787.2" r="5.3"/><circle cx="650.1" cy="847.3" r="5.3"/><circle cx="654.5" cy="776.4" r="5.3"/><circle cx="659.1" cy="770.2" r="5.3"/><circle cx="663.3" cy="793.9" r="5.3"/><circle cx="667.6" cy="809.7" r="5.3"/><circle cx="672.1" cy="851.9" r="5.3"/><circle cx="676.1" cy="809.7" r="5.3"/><circle cx="680.6" cy="840.6" r="5.3"/><circle cx="685.3" cy="836.3" r="5.3"/><circle cx="689.5" cy="782.5" r="5.3"/><circle cx="693.8" cy="782.1" r="5.3"/><circle cx="698.0" cy="816.5" r="5.3"/><circle cx="702.3" cy="830.0" r="5.3"/><circle cx="706.5" cy="785.8" r="5.3"/><circle cx="711.2" cy="809.4" r="5.3"/><circle cx="715.5" cy="788.6" r="5.3"/><circle cx="719.5" cy="818.0" r="5.3"/><circle cx="724.2" cy="815.8" r="5.3"/><circle cx="728.4" cy="793.1" r="5.3"/><circle cx="733.1" cy="759.2" r="5.3"/><circle cx="737.3" cy="795.7" r="5.3"/><circle cx="741.9" cy="763.4" r="5.3"/><circle cx="746.1" cy="778.7" r="5.3"/><circle cx="750.7" cy="765.5" r="5.3"/><circle cx="754.6" cy="747.8" r="5.3"/><circle cx="758.9" cy="750.7" r="5.3"/><circle cx="763.5" cy="707.9" r="5.3"/><circle cx="767.8" cy="751.4" r="5.3"/><circle cx="771.9" cy="758.2" r="5.3"/><circle cx="776.1" cy="776.4" r="5.3"/><circle cx="780.4" cy="768.8" r="5.3"/><circle cx="784.8" cy="748.1" r="5.3"/><circle cx="789.0" cy="792.4" r="5.3"/><circle cx="798.1" cy="754.9" r="5.3"/><circle cx="802.1" cy="724.4" r="5.3"/><circle cx="806.3" cy="740.3" r="5.3"/><circle cx="810.6" cy="696.1" r="5.3"/><circle cx="814.8" cy="741.4" r="5.3"/><circle cx="819.1" cy="753.8" r="5.3"/><circle cx="824.0" cy="758.9" r="5.3"/><circle cx="828.0" cy="712.4" r="5.3"/><circle cx="832.5" cy="733.0" r="5.3"/><circle cx="836.3" cy="743.6" r="5.3"/><circle cx="840.6" cy="712.0" r="5.3"/><circle cx="844.8" cy="771.2" r="5.3"/><circle cx="849.5" cy="769.8" r="5.3"/><circle cx="853.8" cy="779.7" r="5.3"/><circle cx="858.4" cy="771.2" r="5.3"/><circle cx="862.5" cy="788.2" r="5.3"/><circle cx="867.0" cy="755.6" r="5.3"/><circle cx="871.5" cy="719.9" r="5.3"/><circle cx="875.7" cy="760.6" r="5.3"/><circle cx="879.9" cy="807.3" r="5.3"/><circle cx="884.2" cy="790.3" r="5.3"/><circle cx="888.4" cy="754.2" r="5.3"/><circle cx="892.7" cy="761.7" r="5.3"/><circle cx="896.9" cy="746.4" r="5.3"/><circle cx="901.2" cy="683.4" r="5.3"/><circle cx="910.4" cy="697.5" r="5.3"/><circle cx="914.3" cy="716.4" r="5.3"/><circle cx="918.6" cy="720.6" r="5.3"/><circle cx="927.1" cy="706.7" r="5.3"/><circle cx="940.1" cy="728.7" r="5.3"/><circle cx="944.4" cy="737.9" r="5.3"/><circle cx="949.0" cy="751.4" r="5.3"/><circle cx="953.3" cy="759.9" r="5.3"/><circle cx="957.5" cy="711.0" r="5.3"/><circle cx="961.8" cy="720.9" r="5.3"/><circle cx="966.0" cy="758.4" r="5.3"/><circle cx="970.6" cy="730.5" r="5.3"/><circle cx="974.5" cy="882.1" r="5.3"/><circle cx="978.8" cy="871.0" r="5.3"/><circle cx="983.0" cy="866.5" r="5.3"/><circle cx="987.6" cy="886.2" r="5.3"/><circle cx="991.8" cy="854.3" r="5.3"/><circle cx="996.1" cy="886.2" r="5.3"/><circle cx="1000.3" cy="883.5" r="5.3"/><circle cx="1004.6" cy="858.0" r="5.3"/><circle cx="1008.8" cy="834.9" r="5.3"/><circle cx="1013.3" cy="853.8" r="5.3"/><circle cx="1017.3" cy="815.8" r="5.3"/><circle cx="1021.6" cy="820.8" r="5.3"/><circle cx="1026.2" cy="802.4" r="5.3"/><circle cx="1030.5" cy="818.6" r="5.3"/><circle cx="1035.0" cy="827.5" r="5.3"/><circle cx="1039.2" cy="825.0" r="5.3"/><circle cx="1043.7" cy="789.2" r="5.3"/><circle cx="1048.0" cy="822.6" r="5.3"/><circle cx="1052.4" cy="846.7" r="5.3"/><circle cx="1056.6" cy="838.8" r="5.3"/><circle cx="1061.2" cy="803.1" r="5.3"/><circle cx="1065.1" cy="818.4" r="5.3"/><circle cx="1069.0" cy="833.1" r="5.3"/><circle cx="1073.5" cy="822.6" r="5.3"/><circle cx="1077.7" cy="830.0" r="5.3"/><circle cx="1082.1" cy="836.1" r="5.3"/><circle cx="1086.7" cy="850.2" r="5.3"/><circle cx="1090.9" cy="862.5" r="5.3"/><circle cx="1095.4" cy="859.7" r="5.3"/><circle cx="1099.4" cy="847.0" r="5.3"/><circle cx="1103.4" cy="833.1" r="5.3"/><circle cx="1107.6" cy="792.9" r="5.3"/><circle cx="1112.2" cy="749.2" r="5.3"/><circle cx="1116.1" cy="770.2" r="5.3"/><circle cx="1120.7" cy="783.9" r="5.3"/><circle cx="1125.2" cy="795.3" r="5.3"/><circle cx="1129.6" cy="758.4" r="5.3"/><circle cx="1133.7" cy="732.0" r="5.3"/><circle cx="1137.6" cy="732.9" r="5.3"/><circle cx="1141.9" cy="777.3" r="5.3"/><circle cx="1146.1" cy="786.8" r="5.3"/><circle cx="1150.4" cy="794.6" r="5.3"/><circle cx="1154.6" cy="769.8" r="5.3"/><circle cx="1158.9" cy="794.6" r="5.3"/><circle cx="1163.1" cy="774.0" r="5.3"/><circle cx="1167.4" cy="825.0" r="5.3"/><circle cx="1171.6" cy="829.7" r="5.3"/><circle cx="1176.3" cy="811.8" r="5.3"/><circle cx="1180.4" cy="780.7" r="5.3"/><circle cx="1185.1" cy="764.1" r="5.3"/></g>
<line x1="555.50" y1="670.50" x2="555.50" y2="1133.00" stroke="#000" stroke-width="3.8" />
<line x1="553.60" y1="1131.00" x2="1186.30" y2="1131.00" stroke="#000" stroke-width="3.8" />
<line x1="544.60" y1="1130.70" x2="555.50" y2="1130.70" stroke="#000" stroke-width="3.5" />
<text x="543.50" y="1138.70" font-size="22.3" text-anchor="end" fill="#000" stroke="#000" stroke-width="0.3" >0</text>
<line x1="544.60" y1="1039.20" x2="555.50" y2="1039.20" stroke="#000" stroke-width="3.5" />
<text x="543.50" y="1047.20" font-size="22.3" text-anchor="end" fill="#000" stroke="#000" stroke-width="0.3" >1</text>
<line x1="544.60" y1="947.70" x2="555.50" y2="947.70" stroke="#000" stroke-width="3.5" />
<text x="543.50" y="955.70" font-size="22.3" text-anchor="end" fill="#000" stroke="#000" stroke-width="0.3" >2</text>
<line x1="544.60" y1="856.20" x2="555.50" y2="856.20" stroke="#000" stroke-width="3.5" />
<text x="543.50" y="864.20" font-size="22.3" text-anchor="end" fill="#000" stroke="#000" stroke-width="0.3" >3</text>
<line x1="544.60" y1="764.70" x2="555.50" y2="764.70" stroke="#000" stroke-width="3.5" />
<text x="543.50" y="772.70" font-size="22.3" text-anchor="end" fill="#000" stroke="#000" stroke-width="0.3" >4</text>
<line x1="544.60" y1="673.20" x2="555.50" y2="673.20" stroke="#000" stroke-width="3.5" />
<text x="543.50" y="681.20" font-size="22.3" text-anchor="end" fill="#000" stroke="#000" stroke-width="0.3" >5</text>
<text x="524.00" y="899.70" font-size="29.9" text-anchor="middle" fill="#000" stroke="#000" stroke-width="0.3" transform="rotate(-90 524.00 899.70)">Fold increase of neurite length</text>
</g>
<g id="E">
<text x="0.30" y="1232.50" font-size="59" text-anchor="start" fill="#000" stroke="#000" stroke-width="0.3" textLength="37.4" lengthAdjust="spacingAndGlyphs">E</text>
<line x1="89.00" y1="1265.50" x2="637.00" y2="1265.50" stroke="#888" stroke-width="3" stroke-dasharray="10,6"/>
<text x="631.50" y="1291.00" font-size="19.5" text-anchor="end" fill="#000" stroke="#000" stroke-width="0.3" >DMSO</text>
<rect x="99.30" y="1526.70" width="24.2" height="120.90" fill="none" stroke="#000" stroke-width="3.6"/>
<rect x="135.20" y="1488.20" width="24.2" height="159.40" fill="none" stroke="#ff2400" stroke-width="3.6"/>
<rect x="171.10" y="1404.80" width="24.2" height="242.80" fill="none" stroke="#00bf00" stroke-width="3.6"/>
<rect x="207.00" y="1442.70" width="24.2" height="204.90" fill="none" stroke="#00bf00" stroke-width="3.6"/>
<rect x="242.90" y="1451.30" width="24.2" height="196.30" fill="none" stroke="#00bf00" stroke-width="3.6"/>
<rect x="278.80" y="1534.80" width="24.2" height="112.80" fill="none" stroke="#ff2400" stroke-width="3.6"/>
<rect x="314.70" y="1440.50" width="24.2" height="207.10" fill="none" stroke="#00bf00" stroke-width="3.6"/>
<rect x="350.60" y="1503.00" width="24.2" height="144.60" fill="none" stroke="#ff2400" stroke-width="3.6"/>
<rect x="386.50" y="1425.75" width="24.2" height="221.85" fill="none" stroke="#00bf00" stroke-width="3.6"/>
<rect x="422.40" y="1478.25" width="24.2" height="169.35" fill="none" stroke="#00bf00" stroke-width="3.6"/>
<rect x="458.30" y="1550.50" width="24.2" height="97.10" fill="none" stroke="#ff2400" stroke-width="3.6"/>
<rect x="494.20" y="1541.75" width="24.2" height="105.85" fill="none" stroke="#ff2400" stroke-width="3.6"/>
<rect x="530.10" y="1501.50" width="24.2" height="146.10" fill="none" stroke="#ff2400" stroke-width="3.6"/>
<rect x="566.00" y="1532.00" width="24.2" height="115.60" fill="none" stroke="#ff2400" stroke-width="3.6"/>
<rect x="601.90" y="1444.50" width="24.2" height="203.10" fill="none" stroke="#00bf00" stroke-width="3.6"/>
<line x1="87.50" y1="1264.00" x2="87.50" y2="1650.00" stroke="#000" stroke-width="3.2" />
<line x1="86.00" y1="1648.30" x2="638.60" y2="1648.30" stroke="#000" stroke-width="3.4" />
<line x1="78.00" y1="1647.70" x2="87.50" y2="1647.70" stroke="#000" stroke-width="3" />
<text x="76.50" y="1654.70" font-size="19.1" text-anchor="end" fill="#000" stroke="#000" stroke-width="0.3" >0</text>
<line x1="78.00" y1="1571.26" x2="87.50" y2="1571.26" stroke="#000" stroke-width="3" />
<text x="76.50" y="1578.26" font-size="19.1" text-anchor="end" fill="#000" stroke="#000" stroke-width="0.3" >20</text>
<line x1="78.00" y1="1494.82" x2="87.50" y2="1494.82" stroke="#000" stroke-width="3" />
<text x="76.50" y="1501.82" font-size="19.1" text-anchor="end" fill="#000" stroke="#000" stroke-width="0.3" >40</text>
<line x1="78.00" y1="1418.38" x2="87.50" y2="1418.38" stroke="#000" stroke-width="3" />
<text x="76.50" y="1425.38" font-size="19.1" text-anchor="end" fill="#000" stroke="#000" stroke-width="0.3" >60</text>
<line x1="78.00" y1="1341.94" x2="87.50" y2="1341.94" stroke="#000" stroke-width="3" />
<text x="76.50" y="1348.94" font-size="19.1" text-anchor="end" fill="#000" stroke="#000" stroke-width="0.3" >80</text>
<line x1="78.00" y1="1265.50" x2="87.50" y2="1265.50" stroke="#000" stroke-width="3" />
<text x="76.50" y="1272.50" font-size="19.1" text-anchor="end" fill="#000" stroke="#000" stroke-width="0.3" >100</text>
<text x="35.00" y="1453.00" font-size="23.4" text-anchor="middle" fill="#000" stroke="#000" stroke-width="0.3" transform="rotate(-90 35.00 1453.00)">Neurite length (% relative to DMSO)</text>
<line x1="111.40" y1="1526.00" x2="111.40" y2="1531.50" stroke="#000" stroke-width="2.6" />
<line x1="104.40" y1="1526.00" x2="118.40" y2="1526.00" stroke="#000" stroke-width="2.6" />
<line x1="104.40" y1="1531.50" x2="118.40" y2="1531.50" stroke="#000" stroke-width="2.6" />
<circle cx="105.60" cy="1518.50" r="4.9" fill="none" stroke="#000" stroke-width="2.4"/>
<circle cx="117.10" cy="1520.30" r="4.9" fill="none" stroke="#000" stroke-width="2.4"/>
<circle cx="111.20" cy="1538.40" r="4.9" fill="none" stroke="#000" stroke-width="2.4"/>
<line x1="147.30" y1="1486.00" x2="147.30" y2="1491.00" stroke="#000" stroke-width="2.6" />
<line x1="140.30" y1="1486.00" x2="154.30" y2="1486.00" stroke="#000" stroke-width="2.6" />
<line x1="140.30" y1="1491.00" x2="154.30" y2="1491.00" stroke="#000" stroke-width="2.6" />
<circle cx="143.10" cy="1484.50" r="4.9" fill="none" stroke="#000" stroke-width="2.4"/>
<circle cx="152.40" cy="1485.60" r="4.9" fill="none" stroke="#000" stroke-width="2.4"/>
<circle cx="147.40" cy="1490.30" r="4.9" fill="none" stroke="#000" stroke-width="2.4"/>
<line x1="183.20" y1="1387.40" x2="183.20" y2="1418.40" stroke="#000" stroke-width="2.6" />
<line x1="176.20" y1="1387.40" x2="190.20" y2="1387.40" stroke="#000" stroke-width="2.6" />
<line x1="176.20" y1="1418.40" x2="190.20" y2="1418.40" stroke="#000" stroke-width="2.6" />
<circle cx="177.30" cy="1382.70" r="4.9" fill="none" stroke="#000" stroke-width="2.4"/>
<circle cx="188.60" cy="1393.50" r="4.9" fill="none" stroke="#000" stroke-width="2.4"/>
<circle cx="183.20" cy="1434.00" r="4.9" fill="none" stroke="#000" stroke-width="2.4"/>
<text x="184.40" y="1370.10" font-size="22" text-anchor="middle" fill="#000" stroke="#000" stroke-width="0.3" font-weight="bold" letter-spacing="1.5">****</text>
<line x1="219.10" y1="1441.00" x2="219.10" y2="1447.00" stroke="#000" stroke-width="2.6" />
<line x1="212.10" y1="1441.00" x2="226.10" y2="1441.00" stroke="#000" stroke-width="2.6" />
<line x1="212.10" y1="1447.00" x2="226.10" y2="1447.00" stroke="#000" stroke-width="2.6" />
<circle cx="213.10" cy="1436.20" r="4.9" fill="none" stroke="#000" stroke-width="2.4"/>
<circle cx="225.40" cy="1436.80" r="4.9" fill="none" stroke="#000" stroke-width="2.4"/>
<circle cx="218.90" cy="1452.40" r="4.9" fill="none" stroke="#000" stroke-width="2.4"/>
<text x="220.40" y="1414.60" font-size="22" text-anchor="middle" fill="#000" stroke="#000" stroke-width="0.3" font-weight="bold" letter-spacing="1.5">****</text>
<line x1="255.00" y1="1439.00" x2="255.00" y2="1460.70" stroke="#000" stroke-width="2.6" />
<line x1="248.00" y1="1439.00" x2="262.00" y2="1439.00" stroke="#000" stroke-width="2.6" />
<line x1="248.00" y1="1460.70" x2="262.00" y2="1460.70" stroke="#000" stroke-width="2.6" />
<circle cx="248.80" cy="1433.60" r="4.9" fill="none" stroke="#000" stroke-width="2.4"/>
<circle cx="260.70" cy="1447.40" r="4.9" fill="none" stroke="#000" stroke-width="2.4"/>
<circle cx="254.70" cy="1469.80" r="4.9" fill="none" stroke="#000" stroke-width="2.4"/>
<text x="255.90" y="1421.70" font-size="22" text-anchor="middle" fill="#000" stroke="#000" stroke-width="0.3" font-weight="bold" letter-spacing="1.5">**</text>
<line x1="290.90" y1="1526.00" x2="290.90" y2="1544.00" stroke="#000" stroke-width="2.6" />
<line x1="283.90" y1="1526.00" x2="297.90" y2="1526.00" stroke="#000" stroke-width="2.6" />
<line x1="283.90" y1="1544.00" x2="297.90" y2="1544.00" stroke="#000" stroke-width="2.6" />
<circle cx="285.00" cy="1520.70" r="4.9" fill="none" stroke="#000" stroke-width="2.4"/>
<circle cx="296.90" cy="1528.90" r="4.9" fill="none" stroke="#000" stroke-width="2.4"/>
<circle cx="290.40" cy="1552.00" r="4.9" fill="none" stroke="#000" stroke-width="2.4"/>
<line x1="326.80" y1="1429.20" x2="326.80" y2="1451.50" stroke="#000" stroke-width="2.6" />
<line x1="319.80" y1="1429.20" x2="333.80" y2="1429.20" stroke="#000" stroke-width="2.6" />
<line x1="319.80" y1="1451.50" x2="333.80" y2="1451.50" stroke="#000" stroke-width="2.6" />
<circle cx="326.60" cy="1418.80" r="4.9" fill="none" stroke="#000" stroke-width="2.4"/>
<circle cx="320.80" cy="1450.30" r="4.9" fill="none" stroke="#000" stroke-width="2.4"/>
<circle cx="332.70" cy="1448.70" r="4.9" fill="none" stroke="#000" stroke-width="2.4"/>
<text x="328.50" y="1409.60" font-size="22" text-anchor="middle" fill="#000" stroke="#000" stroke-width="0.3" font-weight="bold" letter-spacing="1.5">****</text>
<line x1="362.70" y1="1492.50" x2="362.70" y2="1510.75" stroke="#000" stroke-width="2.6" />
<line x1="355.70" y1="1492.50" x2="369.70" y2="1492.50" stroke="#000" stroke-width="2.6" />
<line x1="355.70" y1="1510.75" x2="369.70" y2="1510.75" stroke="#000" stroke-width="2.6" />
<circle cx="362.50" cy="1485.00" r="4.9" fill="none" stroke="#000" stroke-width="2.4"/>
<circle cx="369.25" cy="1502.00" r="4.9" fill="none" stroke="#000" stroke-width="2.4"/>
<circle cx="356.75" cy="1517.00" r="4.9" fill="none" stroke="#000" stroke-width="2.4"/>
<line x1="398.60" y1="1417.00" x2="398.60" y2="1432.50" stroke="#000" stroke-width="2.6" />
<line x1="391.60" y1="1417.00" x2="405.60" y2="1417.00" stroke="#000" stroke-width="2.6" />
<line x1="391.60" y1="1432.50" x2="405.60" y2="1432.50" stroke="#000" stroke-width="2.6" />
<circle cx="398.75" cy="1409.50" r="4.9" fill="none" stroke="#000" stroke-width="2.4"/>
<circle cx="392.50" cy="1432.50" r="4.9" fill="none" stroke="#000" stroke-width="2.4"/>
<circle cx="405.50" cy="1431.75" r="4.9" fill="none" stroke="#000" stroke-width="2.4"/>
<text x="399.55" y="1396.05" font-size="22" text-anchor="middle" fill="#000" stroke="#000" stroke-width="0.3" font-weight="bold" letter-spacing="1.5">****</text>
<line x1="434.50" y1="1470.00" x2="434.50" y2="1483.75" stroke="#000" stroke-width="2.6" />
<line x1="427.50" y1="1470.00" x2="441.50" y2="1470.00" stroke="#000" stroke-width="2.6" />
<line x1="427.50" y1="1483.75" x2="441.50" y2="1483.75" stroke="#000" stroke-width="2.6" />
<circle cx="428.75" cy="1468.75" r="4.9" fill="none" stroke="#000" stroke-width="2.4"/>
<circle cx="440.50" cy="1472.00" r="4.9" fill="none" stroke="#000" stroke-width="2.4"/>
<circle cx="434.50" cy="1490.50" r="4.9" fill="none" stroke="#000" stroke-width="2.4"/>
<text x="435.05" y="1450.30" font-size="22" text-anchor="middle" fill="#000" stroke="#000" stroke-width="0.3" font-weight="bold" letter-spacing="1.5">*</text>
<line x1="470.40" y1="1522.00" x2="470.40" y2="1572.00" stroke="#000" stroke-width="2.6" />
<line x1="463.40" y1="1522.00" x2="477.40" y2="1522.00" stroke="#000" stroke-width="2.6" />
<circle cx="470.00" cy="1495.00" r="4.9" fill="none" stroke="#000" stroke-width="2.4"/>
<circle cx="476.25" cy="1570.75" r="4.9" fill="none" stroke="#000" stroke-width="2.4"/>
<circle cx="464.25" cy="1581.25" r="4.9" fill="none" stroke="#000" stroke-width="2.4"/>
<circle cx="502.00" cy="1539.50" r="4.9" fill="none" stroke="#000" stroke-width="2.4"/>
<circle cx="511.25" cy="1541.25" r="4.9" fill="none" stroke="#000" stroke-width="2.4"/>
<circle cx="506.25" cy="1542.50" r="4.9" fill="none" stroke="#000" stroke-width="2.4"/>
<line x1="542.20" y1="1495.00" x2="542.20" y2="1507.00" stroke="#000" stroke-width="2.6" />
<line x1="535.20" y1="1495.00" x2="549.20" y2="1495.00" stroke="#000" stroke-width="2.6" />
<line x1="535.20" y1="1507.00" x2="549.20" y2="1507.00" stroke="#000" stroke-width="2.6" />
<circle cx="542.50" cy="1491.25" r="4.9" fill="none" stroke="#000" stroke-width="2.4"/>
<circle cx="548.75" cy="1500.00" r="4.9" fill="none" stroke="#000" stroke-width="2.4"/>
<circle cx="536.25" cy="1508.00" r="4.9" fill="none" stroke="#000" stroke-width="2.4"/>
<line x1="578.10" y1="1526.00" x2="578.10" y2="1538.00" stroke="#000" stroke-width="2.6" />
<line x1="571.10" y1="1526.00" x2="585.10" y2="1526.00" stroke="#000" stroke-width="2.6" />
<line x1="571.10" y1="1538.00" x2="585.10" y2="1538.00" stroke="#000" stroke-width="2.6" />
<circle cx="573.75" cy="1522.50" r="4.9" fill="none" stroke="#000" stroke-width="2.4"/>
<circle cx="583.75" cy="1532.50" r="4.9" fill="none" stroke="#000" stroke-width="2.4"/>
<circle cx="578.75" cy="1536.25" r="4.9" fill="none" stroke="#000" stroke-width="2.4"/>
<line x1="614.00" y1="1437.00" x2="614.00" y2="1451.00" stroke="#000" stroke-width="2.6" />
<line x1="607.00" y1="1437.00" x2="621.00" y2="1437.00" stroke="#000" stroke-width="2.6" />
<line x1="607.00" y1="1451.00" x2="621.00" y2="1451.00" stroke="#000" stroke-width="2.6" />
<circle cx="614.25" cy="1431.75" r="4.9" fill="none" stroke="#000" stroke-width="2.4"/>
<circle cx="620.50" cy="1444.50" r="4.9" fill="none" stroke="#000" stroke-width="2.4"/>
<circle cx="608.00" cy="1452.50" r="4.9" fill="none" stroke="#000" stroke-width="2.4"/>
<text x="615.80" y="1417.80" font-size="22" text-anchor="middle" fill="#000" stroke="#000" stroke-width="0.3" font-weight="bold" letter-spacing="1.5">***</text>
<text x="115.00" y="1666.50" font-size="20.2" text-anchor="end" fill="#000" stroke="#000" stroke-width="0.3" transform="rotate(-45 115.00 1666.50)">VCR</text>
<text x="150.90" y="1666.50" font-size="20.2" text-anchor="end" fill="#000" stroke="#000" stroke-width="0.3" transform="rotate(-45 150.90 1666.50)">VCR+M2,5-DHC</text>
<text x="186.80" y="1666.50" font-size="20.2" text-anchor="end" fill="#000" stroke="#000" stroke-width="0.3" transform="rotate(-45 186.80 1666.50)">VCR+Paclitaxel</text>
<text x="222.70" y="1666.50" font-size="20.2" text-anchor="end" fill="#000" stroke="#000" stroke-width="0.3" transform="rotate(-45 222.70 1666.50)">VCR+SB 239063</text>
<text x="258.60" y="1666.50" font-size="20.2" text-anchor="end" fill="#000" stroke="#000" stroke-width="0.3" transform="rotate(-45 258.60 1666.50)">VCR+PD 161570</text>
<text x="294.50" y="1666.50" font-size="20.2" text-anchor="end" fill="#000" stroke="#000" stroke-width="0.3" transform="rotate(-45 294.50 1666.50)">VCR+GS 39783</text>
<text x="330.40" y="1666.50" font-size="20.2" text-anchor="end" fill="#000" stroke="#000" stroke-width="0.3" transform="rotate(-45 330.40 1666.50)">VCR+SIN-1 chloride</text>
<text x="366.30" y="1666.50" font-size="20.2" text-anchor="end" fill="#000" stroke="#000" stroke-width="0.3" transform="rotate(-45 366.30 1666.50)">VCR+SN 38</text>
<text x="402.20" y="1666.50" font-size="20.2" text-anchor="end" fill="#000" stroke="#000" stroke-width="0.3" transform="rotate(-45 402.20 1666.50)">VCR+Ruthenium Red</text>
<text x="438.10" y="1666.50" font-size="20.2" text-anchor="end" fill="#000" stroke="#000" stroke-width="0.3" transform="rotate(-45 438.10 1666.50)">VCR+PD 407824</text>
<text x="474.00" y="1666.50" font-size="20.2" text-anchor="end" fill="#000" stroke="#000" stroke-width="0.3" transform="rotate(-45 474.00 1666.50)">VCR+TAK 165</text>
<text x="509.90" y="1666.50" font-size="20.2" text-anchor="end" fill="#000" stroke="#000" stroke-width="0.3" transform="rotate(-45 509.90 1666.50)">VCR+MRS 1220</text>
<text x="545.80" y="1666.50" font-size="20.2" text-anchor="end" fill="#000" stroke="#000" stroke-width="0.3" transform="rotate(-45 545.80 1666.50)">VCR+(R)-(-)-AHC</text>
<text x="581.70" y="1666.50" font-size="20.2" text-anchor="end" fill="#000" stroke="#000" stroke-width="0.3" transform="rotate(-45 581.70 1666.50)">VCR+2-Cl-IB-MECA</text>
<text x="617.60" y="1666.50" font-size="20.2" text-anchor="end" fill="#000" stroke="#000" stroke-width="0.3" transform="rotate(-45 617.60 1666.50)">VCR+Anisomycin</text>
</g>
<g id="F">
<text x="674.50" y="1232.50" font-size="59" text-anchor="start" fill="#000" stroke="#000" stroke-width="0.3" >F</text>
<line x1="771.80" y1="1666.00" x2="1200.00" y2="1666.00" stroke="#999" stroke-width="2" stroke-dasharray="7,4"/>
<text x="1184.60" y="1654.20" font-size="21.3" text-anchor="end" fill="#666" stroke="#666" stroke-width="0.3" >Vincristine</text>
<path d="M793.70,1679.15 L796.57,1678.86 L799.44,1678.55 L802.31,1678.23 L805.18,1677.91 L808.05,1677.57 L810.92,1677.21 L813.79,1676.85 L816.66,1676.47 L819.53,1676.08 L822.40,1675.68 L825.27,1675.26 L828.14,1674.83 L831.01,1674.38 L833.88,1673.92 L836.75,1673.44 L839.62,1672.95 L842.49,1672.43 L845.36,1671.90 L848.23,1671.36 L851.10,1670.79 L853.97,1670.21 L856.84,1669.61 L859.71,1668.98 L862.58,1668.34 L865.45,1667.67 L868.32,1666.99 L871.19,1666.28 L874.06,1665.55 L876.93,1664.79 L879.80,1664.02 L882.67,1663.22 L885.54,1662.39 L888.41,1661.54 L891.28,1660.66 L894.15,1659.76 L897.02,1658.82 L899.89,1657.87 L902.76,1656.88 L905.63,1655.86 L908.50,1654.82 L911.37,1653.75 L914.24,1652.64 L917.11,1651.51 L919.98,1650.34 L922.85,1649.15 L925.72,1647.92 L928.59,1646.66 L931.46,1645.37 L934.33,1644.04 L937.20,1642.69 L940.07,1641.29 L942.94,1639.87 L945.81,1638.41 L948.68,1636.92 L951.55,1635.40 L954.42,1633.84 L957.29,1632.24 L960.16,1630.62 L963.03,1628.96 L965.90,1627.27 L968.77,1625.54 L971.64,1623.78 L974.51,1621.99 L977.38,1620.16 L980.25,1618.31 L983.12,1616.42 L985.99,1614.50 L988.86,1612.56 L991.73,1610.58 L994.60,1608.58 L997.47,1606.54 L1000.34,1604.49 L1003.21,1602.40 L1006.08,1600.29 L1008.95,1598.16 L1011.82,1596.00 L1014.69,1593.83 L1017.56,1591.63 L1020.43,1589.42 L1023.30,1587.18" stroke="#a276b6" stroke-width="4.8" fill="none"  stroke-linejoin="round" stroke-linecap="round"/>
<path d="M793.70,1650.80 L795.91,1648.41 L798.81,1645.26 L802.25,1641.50 L806.10,1637.30 L810.23,1632.81 L814.49,1628.20 L818.77,1623.63 L822.92,1619.24 L826.81,1615.21 L830.30,1611.70 L833.48,1608.58 L836.53,1605.64 L839.48,1602.85 L842.34,1600.20 L845.12,1597.69 L847.86,1595.30 L850.57,1593.02 L853.27,1590.83 L855.97,1588.73 L858.70,1586.70 L861.42,1584.79 L864.11,1583.05 L866.76,1581.44 L869.38,1579.94 L872.00,1578.52 L874.62,1577.16 L877.24,1575.83 L879.89,1574.49 L882.58,1573.12 L885.30,1571.70 L888.07,1570.26 L890.87,1568.86 L893.69,1567.49 L896.54,1566.12 L899.39,1564.76 L902.26,1563.38 L905.13,1561.98 L908.00,1560.54 L910.86,1559.05 L913.70,1557.50 L916.53,1555.90 L919.36,1554.27 L922.18,1552.61 L925.00,1550.92 L927.83,1549.19 L930.65,1547.43 L933.48,1545.63 L936.31,1543.80 L939.15,1541.92 L942.00,1540.00 L944.85,1537.97 L947.69,1535.78 L950.53,1533.49 L953.37,1531.14 L956.22,1528.79 L959.08,1526.48 L961.97,1524.27 L964.88,1522.20 L967.82,1520.33 L970.80,1518.70 L973.79,1517.30 L976.78,1516.06 L979.77,1514.97 L982.78,1514.01 L985.82,1513.17 L988.92,1512.43 L992.06,1511.78 L995.29,1511.20 L998.59,1510.68 L1002.00,1510.20 L1005.27,1509.80 L1008.25,1509.53 L1011.09,1509.37 L1013.96,1509.29 L1016.99,1509.27 L1020.34,1509.29 L1024.17,1509.34 L1028.62,1509.39 L1033.84,1509.41 L1040.00,1509.40 L1047.64,1509.37 L1056.93,1509.35 L1067.41,1509.34 L1078.61,1509.34 L1090.08,1509.35 L1101.35,1509.36 L1111.98,1509.37 L1121.51,1509.39 L1129.47,1509.40 L1135.40,1509.40" stroke="#c8c400" stroke-width="4.8" fill="none"  stroke-linejoin="round" stroke-linecap="round"/>
<path d="M793.70,1680.83 L796.83,1679.36 L799.95,1677.79 L803.08,1676.12 L806.20,1674.35 L809.33,1672.47 L812.45,1670.46 L815.58,1668.33 L818.71,1666.06 L821.83,1663.65 L824.96,1661.09 L828.08,1658.36 L831.21,1655.47 L834.33,1652.40 L837.46,1649.13 L840.58,1645.66 L843.71,1641.98 L846.84,1638.08 L849.96,1633.95 L853.09,1629.57 L856.21,1624.93 L859.34,1620.03 L862.46,1614.86 L865.59,1609.41 L868.72,1603.68 L871.84,1597.66 L874.97,1591.36 L878.09,1584.79 L881.22,1577.95 L884.34,1570.88 L887.47,1563.59 L890.59,1556.12 L893.72,1548.52 L896.85,1540.85 L899.97,1533.16 L903.10,1525.52 L906.22,1518.01 L909.35,1510.71 L912.47,1503.69 L915.60,1497.01 L918.73,1490.73 L921.85,1484.90 L924.98,1479.55 L928.10,1474.69 L931.23,1470.33 L934.35,1466.46 L937.48,1463.04 L940.60,1460.06 L943.73,1457.48 L946.86,1455.26 L949.98,1453.35 L953.11,1451.74 L956.23,1450.36 L959.36,1449.20 L962.48,1448.23 L965.61,1447.41 L968.74,1446.72 L971.86,1446.15 L974.99,1445.67 L978.11,1445.28 L981.24,1444.94 L984.36,1444.67 L987.49,1444.44 L990.61,1444.25 L993.74,1444.09 L996.87,1443.96 L999.99,1443.85 L1003.12,1443.76 L1006.24,1443.69 L1009.37,1443.63 L1012.49,1443.58 L1015.62,1443.54 L1018.75,1443.50 L1021.87,1443.47 L1025.00,1443.45 L1028.12,1443.43 L1031.25,1443.41 L1034.37,1443.40 L1037.50,1443.39 L1040.62,1443.38 L1043.75,1443.37" stroke="#1fcc1f" stroke-width="4.8" fill="none"  stroke-linejoin="round" stroke-linecap="round"/>
<path d="M793.70,1669.41 L796.23,1667.92 L798.76,1666.42 L801.30,1664.91 L803.83,1663.40 L806.36,1661.87 L808.89,1660.34 L811.42,1658.80 L813.96,1657.26 L816.49,1655.71 L819.02,1654.15 L821.55,1652.58 L824.08,1651.00 L826.61,1649.42 L829.15,1647.83 L831.68,1646.23 L834.21,1644.63 L836.74,1643.02 L839.27,1641.40 L841.81,1639.77 L844.34,1638.13 L846.87,1636.49 L849.40,1634.84 L851.93,1633.18 L854.47,1631.51 L857.00,1629.83 L859.53,1628.15 L862.06,1626.46 L864.59,1624.76 L867.12,1623.06 L869.66,1621.34 L872.19,1619.62 L874.72,1617.89 L877.25,1616.16 L879.78,1614.41 L882.32,1612.66 L884.85,1610.90 L887.38,1609.13 L889.91,1607.35 L892.44,1605.56 L894.98,1603.77 L897.51,1601.97 L900.04,1600.16 L902.57,1598.34 L905.10,1596.52 L907.63,1594.69 L910.17,1592.84 L912.70,1591.00 L915.23,1589.14 L917.76,1587.27 L920.29,1585.40 L922.83,1583.52 L925.36,1581.63 L927.89,1579.73 L930.42,1577.82 L932.95,1575.91 L935.49,1573.99 L938.02,1572.06 L940.55,1570.12 L943.08,1568.17 L945.61,1566.22 L948.14,1564.25 L950.68,1562.28 L953.21,1560.30 L955.74,1558.31 L958.27,1556.32 L960.80,1554.31 L963.34,1552.30 L965.87,1550.28 L968.40,1548.25 L970.93,1546.22 L973.46,1544.17 L976.00,1542.12 L978.53,1540.05 L981.06,1537.98 L983.59,1535.91 L986.12,1533.82 L988.65,1531.72 L991.19,1529.62 L993.72,1527.51 L996.25,1525.39" stroke="#8a1f9a" stroke-width="4.8" fill="none"  stroke-linejoin="round" stroke-linecap="round"/>
<path d="M793.70,1654.99 L796.58,1654.78 L799.46,1654.55 L802.34,1654.30 L805.22,1654.02 L808.09,1653.72 L810.97,1653.39 L813.85,1653.03 L816.73,1652.64 L819.61,1652.22 L822.49,1651.75 L825.37,1651.25 L828.25,1650.70 L831.12,1650.10 L834.00,1649.45 L836.88,1648.75 L839.76,1647.99 L842.64,1647.16 L845.52,1646.26 L848.40,1645.29 L851.28,1644.25 L854.15,1643.12 L857.03,1641.90 L859.91,1640.60 L862.79,1639.19 L865.67,1637.69 L868.55,1636.08 L871.43,1634.36 L874.31,1632.53 L877.18,1630.58 L880.06,1628.51 L882.94,1626.33 L885.82,1624.02 L888.70,1621.60 L891.58,1619.05 L894.46,1616.39 L897.34,1613.62 L900.21,1610.74 L903.09,1607.75 L905.97,1604.68 L908.85,1601.52 L911.73,1598.28 L914.61,1594.99 L917.49,1591.64 L920.37,1588.26 L923.24,1584.85 L926.12,1581.44 L929.00,1578.03 L931.88,1574.64 L934.76,1571.28 L937.64,1567.97 L940.52,1564.72 L943.39,1561.54 L946.27,1558.44 L949.15,1555.44 L952.03,1552.53 L954.91,1549.73 L957.79,1547.04 L960.67,1544.46 L963.55,1542.00 L966.42,1539.67 L969.30,1537.45 L972.18,1535.36 L975.06,1533.38 L977.94,1531.52 L980.82,1529.77 L983.70,1528.13 L986.58,1526.60 L989.46,1525.17 L992.33,1523.84 L995.21,1522.60 L998.09,1521.45 L1000.97,1520.38 L1003.85,1519.40 L1006.73,1518.48 L1009.61,1517.64 L1012.49,1516.86 L1015.36,1516.14 L1018.24,1515.48 L1021.12,1514.87 L1024.00,1514.31" stroke="#ff2a0a" stroke-width="4.8" fill="none"  stroke-linejoin="round" stroke-linecap="round"/>
<path d="M793.70,1670.22 L797.62,1670.09 L801.54,1669.95 L805.46,1669.79 L809.38,1669.61 L813.30,1669.41 L817.22,1669.20 L821.14,1668.96 L825.06,1668.69 L828.98,1668.40 L832.90,1668.07 L836.82,1667.71 L840.74,1667.32 L844.66,1666.88 L848.58,1666.40 L852.50,1665.87 L856.42,1665.29 L860.34,1664.64 L864.26,1663.94 L868.18,1663.16 L872.10,1662.31 L876.02,1661.37 L879.94,1660.35 L883.86,1659.23 L887.78,1658.01 L891.70,1656.68 L895.62,1655.23 L899.54,1653.65 L903.46,1651.95 L907.38,1650.10 L911.30,1648.11 L915.22,1645.97 L919.14,1643.67 L923.06,1641.20 L926.98,1638.58 L930.90,1635.79 L934.82,1632.83 L938.74,1629.71 L942.66,1626.44 L946.58,1623.01 L950.50,1619.44 L954.42,1615.73 L958.34,1611.91 L962.26,1607.99 L966.18,1603.98 L970.10,1599.90 L974.02,1595.78 L977.94,1591.64 L981.86,1587.50 L985.78,1583.37 L989.70,1579.29 L993.62,1575.28 L997.54,1571.35 L1001.46,1567.51 L1005.38,1563.80 L1009.30,1560.22 L1013.22,1556.78 L1017.14,1553.49 L1021.06,1550.36 L1024.98,1547.39 L1028.90,1544.58 L1032.82,1541.94 L1036.74,1539.47 L1040.66,1537.16 L1044.58,1535.00 L1048.50,1533.00 L1052.42,1531.14 L1056.34,1529.42 L1060.26,1527.84 L1064.18,1526.38 L1068.10,1525.04 L1072.02,1523.81 L1075.94,1522.68 L1079.86,1521.65 L1083.78,1520.71 L1087.70,1519.85 L1091.62,1519.07 L1095.54,1518.35 L1099.46,1517.70 L1103.38,1517.12 L1107.30,1516.58" stroke="#1a3cff" stroke-width="4.8" fill="none"  stroke-linejoin="round" stroke-linecap="round"/>
<path d="M793.70,1684.92 L797.97,1684.86 L802.23,1684.80 L806.50,1684.74 L810.77,1684.66 L815.03,1684.58 L819.30,1684.49 L823.56,1684.39 L827.83,1684.29 L832.10,1684.17 L836.36,1684.03 L840.63,1683.89 L844.89,1683.73 L849.16,1683.55 L853.43,1683.36 L857.69,1683.15 L861.96,1682.91 L866.23,1682.65 L870.49,1682.37 L874.76,1682.06 L879.03,1681.71 L883.29,1681.33 L887.56,1680.91 L891.82,1680.45 L896.09,1679.94 L900.36,1679.38 L904.62,1678.77 L908.89,1678.09 L913.15,1677.34 L917.42,1676.52 L921.69,1675.61 L925.95,1674.61 L930.22,1673.52 L934.49,1672.31 L938.75,1670.97 L943.02,1669.51 L947.29,1667.89 L951.55,1666.11 L955.82,1664.16 L960.08,1662.00 L964.35,1659.63 L968.62,1657.02 L972.88,1654.15 L977.15,1651.00 L981.41,1647.53 L985.68,1643.72 L989.95,1639.53 L994.21,1634.93 L998.48,1629.88 L1002.75,1624.36 L1007.01,1618.31 L1011.28,1611.69 L1015.55,1604.47 L1019.81,1596.61 L1024.08,1588.07 L1028.34,1578.82 L1032.61,1568.84 L1036.88,1558.12 L1041.14,1546.67 L1045.41,1534.51 L1049.67,1521.70 L1053.94,1508.32 L1058.21,1494.48 L1062.47,1480.32 L1066.74,1466.02 L1071.01,1451.77 L1075.27,1437.79 L1079.54,1424.28 L1083.81,1411.44 L1088.07,1399.43 L1092.34,1388.38 L1096.60,1378.37 L1100.87,1369.43 L1105.14,1361.56 L1109.40,1354.71 L1113.67,1348.83 L1117.93,1343.82 L1122.20,1339.58 L1126.47,1336.04 L1130.73,1333.08 L1135.00,1330.63" stroke="#ff7800" stroke-width="4.8" fill="none"  stroke-linejoin="round" stroke-linecap="round"/>
<path d="M883.55,1661.17 L892.05,1661.17 L887.80,1668.83 Z" fill="#ff9010" stroke="none" stroke-width="0" stroke-linejoin="miter"/>
<path d="M910.25,1659.88 L918.75,1659.88 L914.50,1667.53 Z" fill="#ff9010" stroke="none" stroke-width="0" stroke-linejoin="miter"/>
<path d="M937.75,1655.38 L946.25,1655.38 L942.00,1663.03 Z" fill="#ff9010" stroke="none" stroke-width="0" stroke-linejoin="miter"/>
<path d="M964.95,1657.88 L973.45,1657.88 L969.20,1665.53 Z" fill="#ff9010" stroke="none" stroke-width="0" stroke-linejoin="miter"/>
<path d="M994.05,1645.38 L1002.55,1645.38 L998.30,1653.03 Z" fill="#ff9010" stroke="none" stroke-width="0" stroke-linejoin="miter"/>
<path d="M1020.75,1604.47 L1029.25,1604.47 L1025.00,1612.12 Z" fill="#ff9010" stroke="none" stroke-width="0" stroke-linejoin="miter"/>
<path d="M1047.75,1529.47 L1056.25,1529.47 L1052.00,1537.12 Z" fill="#ff9010" stroke="none" stroke-width="0" stroke-linejoin="miter"/>
<path d="M1075.75,1385.17 L1084.25,1385.17 L1080.00,1392.83 Z" fill="#ff9010" stroke="none" stroke-width="0" stroke-linejoin="miter"/>
<path d="M1103.25,1339.67 L1111.75,1339.67 L1107.50,1347.33 Z" fill="#ff9010" stroke="none" stroke-width="0" stroke-linejoin="miter"/>
<path d="M1130.25,1344.67 L1138.75,1344.67 L1134.50,1352.33 Z" fill="#ff9010" stroke="none" stroke-width="0" stroke-linejoin="miter"/>
<path d="M790.75,1671.33 L799.25,1671.33 L795.00,1663.67 Z" fill="#1fcc1f"/>
<path d="M820.75,1668.83 L829.25,1668.83 L825.00,1661.17 Z" fill="#1fcc1f"/>
<path d="M848.55,1653.03 L857.05,1653.03 L852.80,1645.38 Z" fill="#1fcc1f"/>
<path d="M876.95,1586.83 L885.45,1586.83 L881.20,1579.17 Z" fill="#1fcc1f"/>
<path d="M902.75,1504.23 L911.25,1504.23 L907.00,1496.58 Z" fill="#1fcc1f"/>
<path d="M930.25,1482.53 L938.75,1482.53 L934.50,1474.88 Z" fill="#1fcc1f"/>
<path d="M957.45,1470.12 L965.95,1470.12 L961.70,1462.47 Z" fill="#1fcc1f"/>
<path d="M985.25,1438.42 L993.75,1438.42 L989.50,1430.77 Z" fill="#1fcc1f"/>
<path d="M1012.45,1441.73 L1020.95,1441.73 L1016.70,1434.08 Z" fill="#1fcc1f"/>
<path d="M1039.95,1445.08 L1048.45,1445.08 L1044.20,1437.42 Z" fill="#1fcc1f"/>
<rect x="803.80" y="1654.30" width="8" height="8" fill="#ff2a0a"/>
<rect x="831.30" y="1636.00" width="8" height="8" fill="#ff2a0a"/>
<rect x="853.80" y="1639.30" width="8" height="8" fill="#ff2a0a"/>
<rect x="877.20" y="1621.80" width="8" height="8" fill="#ff2a0a"/>
<rect x="900.50" y="1591.80" width="8" height="8" fill="#ff2a0a"/>
<rect x="923.00" y="1578.50" width="8" height="8" fill="#ff2a0a"/>
<rect x="946.30" y="1551.00" width="8" height="8" fill="#ff2a0a"/>
<rect x="969.30" y="1526.20" width="8" height="8" fill="#ff2a0a"/>
<rect x="992.25" y="1515.20" width="8" height="8" fill="#ff2a0a"/>
<rect x="1020.00" y="1513.70" width="8" height="8" fill="#ff2a0a"/>
<path d="M826.55,1642.42 L834.05,1642.42 L830.30,1649.17 Z" fill="none" stroke="#000" stroke-width="1.6" stroke-linejoin="miter"/>
<path d="M854.95,1629.92 L862.45,1629.92 L858.70,1636.67 Z" fill="none" stroke="#000" stroke-width="1.6" stroke-linejoin="miter"/>
<path d="M881.55,1594.12 L889.05,1594.12 L885.30,1600.88 Z" fill="none" stroke="#000" stroke-width="1.6" stroke-linejoin="miter"/>
<path d="M909.95,1590.83 L917.45,1590.83 L913.70,1597.58 Z" fill="none" stroke="#000" stroke-width="1.6" stroke-linejoin="miter"/>
<path d="M938.25,1569.12 L945.75,1569.12 L942.00,1575.88 Z" fill="none" stroke="#000" stroke-width="1.6" stroke-linejoin="miter"/>
<path d="M966.05,1538.12 L973.55,1538.12 L969.80,1544.88 Z" fill="none" stroke="#000" stroke-width="1.6" stroke-linejoin="miter"/>
<path d="M992.50,1523.62 L1000.00,1523.62 L996.25,1530.38 Z" fill="none" stroke="#000" stroke-width="1.6" stroke-linejoin="miter"/>
<circle cx="871.20" cy="1663.30" r="5" fill="#1a3cff" stroke="none" stroke-width="0"/>
<circle cx="898.70" cy="1649.20" r="5" fill="#1a3cff" stroke="none" stroke-width="0"/>
<circle cx="924.50" cy="1635.00" r="5" fill="#1a3cff" stroke="none" stroke-width="0"/>
<circle cx="950.30" cy="1623.30" r="5" fill="#1a3cff" stroke="none" stroke-width="0"/>
<circle cx="976.70" cy="1587.80" r="5" fill="#1a3cff" stroke="none" stroke-width="0"/>
<circle cx="1002.50" cy="1575.00" r="5" fill="#1a3cff" stroke="none" stroke-width="0"/>
<circle cx="1027.50" cy="1543.00" r="5" fill="#1a3cff" stroke="none" stroke-width="0"/>
<circle cx="1054.20" cy="1527.00" r="5" fill="#1a3cff" stroke="none" stroke-width="0"/>
<circle cx="1080.20" cy="1518.75" r="5" fill="#1a3cff" stroke="none" stroke-width="0"/>
<circle cx="1107.30" cy="1520.40" r="5" fill="#1a3cff" stroke="none" stroke-width="0"/>
<line x1="853.30" y1="1687.50" x2="862.30" y2="1687.50" stroke="#000" stroke-width="1.8" />
<line x1="857.80" y1="1683.00" x2="857.80" y2="1692.00" stroke="#000" stroke-width="1.8" />
<line x1="880.80" y1="1678.30" x2="889.80" y2="1678.30" stroke="#000" stroke-width="1.8" />
<line x1="885.30" y1="1673.80" x2="885.30" y2="1682.80" stroke="#000" stroke-width="1.8" />
<line x1="910.00" y1="1648.30" x2="919.00" y2="1648.30" stroke="#000" stroke-width="1.8" />
<line x1="914.50" y1="1643.80" x2="914.50" y2="1652.80" stroke="#000" stroke-width="1.8" />
<line x1="937.50" y1="1649.20" x2="946.50" y2="1649.20" stroke="#000" stroke-width="1.8" />
<line x1="942.00" y1="1644.70" x2="942.00" y2="1653.70" stroke="#000" stroke-width="1.8" />
<line x1="964.20" y1="1582.50" x2="973.20" y2="1582.50" stroke="#000" stroke-width="1.8" />
<line x1="968.70" y1="1578.00" x2="968.70" y2="1587.00" stroke="#000" stroke-width="1.8" />
<line x1="990.50" y1="1645.80" x2="999.50" y2="1645.80" stroke="#000" stroke-width="1.8" />
<line x1="995.00" y1="1641.30" x2="995.00" y2="1650.30" stroke="#000" stroke-width="1.8" />
<line x1="1018.80" y1="1576.70" x2="1027.80" y2="1576.70" stroke="#000" stroke-width="1.8" />
<line x1="1023.30" y1="1572.20" x2="1023.30" y2="1581.20" stroke="#000" stroke-width="1.8" />
<line x1="826.05" y1="1611.70" x2="834.55" y2="1611.70" stroke="#000" stroke-width="1.9" />
<line x1="827.29" y1="1608.69" x2="833.31" y2="1614.71" stroke="#000" stroke-width="1.9" />
<line x1="830.30" y1="1607.45" x2="830.30" y2="1615.95" stroke="#000" stroke-width="1.9" />
<line x1="833.31" y1="1608.69" x2="827.29" y2="1614.71" stroke="#000" stroke-width="1.9" />
<line x1="854.05" y1="1587.50" x2="862.55" y2="1587.50" stroke="#000" stroke-width="1.9" />
<line x1="855.29" y1="1584.49" x2="861.31" y2="1590.51" stroke="#000" stroke-width="1.9" />
<line x1="858.30" y1="1583.25" x2="858.30" y2="1591.75" stroke="#000" stroke-width="1.9" />
<line x1="861.31" y1="1584.49" x2="855.29" y2="1590.51" stroke="#000" stroke-width="1.9" />
<line x1="881.05" y1="1566.70" x2="889.55" y2="1566.70" stroke="#000" stroke-width="1.9" />
<line x1="882.29" y1="1563.69" x2="888.31" y2="1569.71" stroke="#000" stroke-width="1.9" />
<line x1="885.30" y1="1562.45" x2="885.30" y2="1570.95" stroke="#000" stroke-width="1.9" />
<line x1="888.31" y1="1563.69" x2="882.29" y2="1569.71" stroke="#000" stroke-width="1.9" />
<line x1="910.25" y1="1557.00" x2="918.75" y2="1557.00" stroke="#000" stroke-width="1.9" />
<line x1="911.49" y1="1553.99" x2="917.51" y2="1560.01" stroke="#000" stroke-width="1.9" />
<line x1="914.50" y1="1552.75" x2="914.50" y2="1561.25" stroke="#000" stroke-width="1.9" />
<line x1="917.51" y1="1553.99" x2="911.49" y2="1560.01" stroke="#000" stroke-width="1.9" />
<line x1="937.45" y1="1553.30" x2="945.95" y2="1553.30" stroke="#000" stroke-width="1.9" />
<line x1="938.69" y1="1550.29" x2="944.71" y2="1556.31" stroke="#000" stroke-width="1.9" />
<line x1="941.70" y1="1549.05" x2="941.70" y2="1557.55" stroke="#000" stroke-width="1.9" />
<line x1="944.71" y1="1550.29" x2="938.69" y2="1556.31" stroke="#000" stroke-width="1.9" />
<line x1="964.95" y1="1506.70" x2="973.45" y2="1506.70" stroke="#000" stroke-width="1.9" />
<line x1="966.19" y1="1503.69" x2="972.21" y2="1509.71" stroke="#000" stroke-width="1.9" />
<line x1="969.20" y1="1502.45" x2="969.20" y2="1510.95" stroke="#000" stroke-width="1.9" />
<line x1="972.21" y1="1503.69" x2="966.19" y2="1509.71" stroke="#000" stroke-width="1.9" />
<line x1="992.00" y1="1497.90" x2="1000.50" y2="1497.90" stroke="#000" stroke-width="1.9" />
<line x1="993.24" y1="1494.89" x2="999.26" y2="1500.91" stroke="#000" stroke-width="1.9" />
<line x1="996.25" y1="1493.65" x2="996.25" y2="1502.15" stroke="#000" stroke-width="1.9" />
<line x1="999.26" y1="1494.89" x2="993.24" y2="1500.91" stroke="#000" stroke-width="1.9" />
<line x1="1019.75" y1="1501.50" x2="1028.25" y2="1501.50" stroke="#000" stroke-width="1.9" />
<line x1="1020.99" y1="1498.49" x2="1027.01" y2="1504.51" stroke="#000" stroke-width="1.9" />
<line x1="1024.00" y1="1497.25" x2="1024.00" y2="1505.75" stroke="#000" stroke-width="1.9" />
<line x1="1027.01" y1="1498.49" x2="1020.99" y2="1504.51" stroke="#000" stroke-width="1.9" />
<line x1="1049.25" y1="1520.40" x2="1057.75" y2="1520.40" stroke="#000" stroke-width="1.9" />
<line x1="1050.49" y1="1517.39" x2="1056.51" y2="1523.41" stroke="#000" stroke-width="1.9" />
<line x1="1053.50" y1="1516.15" x2="1053.50" y2="1524.65" stroke="#000" stroke-width="1.9" />
<line x1="1056.51" y1="1517.39" x2="1050.49" y2="1523.41" stroke="#000" stroke-width="1.9" />
<line x1="1075.95" y1="1510.80" x2="1084.45" y2="1510.80" stroke="#000" stroke-width="1.9" />
<line x1="1077.19" y1="1507.79" x2="1083.21" y2="1513.81" stroke="#000" stroke-width="1.9" />
<line x1="1080.20" y1="1506.55" x2="1080.20" y2="1515.05" stroke="#000" stroke-width="1.9" />
<line x1="1083.21" y1="1507.79" x2="1077.19" y2="1513.81" stroke="#000" stroke-width="1.9" />
<line x1="1103.05" y1="1504.80" x2="1111.55" y2="1504.80" stroke="#000" stroke-width="1.9" />
<line x1="1104.29" y1="1501.79" x2="1110.31" y2="1507.81" stroke="#000" stroke-width="1.9" />
<line x1="1107.30" y1="1500.55" x2="1107.30" y2="1509.05" stroke="#000" stroke-width="1.9" />
<line x1="1110.31" y1="1501.79" x2="1104.29" y2="1507.81" stroke="#000" stroke-width="1.9" />
<line x1="1130.15" y1="1527.00" x2="1138.65" y2="1527.00" stroke="#000" stroke-width="1.9" />
<line x1="1131.39" y1="1523.99" x2="1137.41" y2="1530.01" stroke="#000" stroke-width="1.9" />
<line x1="1134.40" y1="1522.75" x2="1134.40" y2="1531.25" stroke="#000" stroke-width="1.9" />
<line x1="1137.41" y1="1523.99" x2="1131.39" y2="1530.01" stroke="#000" stroke-width="1.9" />
<line x1="771.80" y1="1256.00" x2="771.80" y2="1699.80" stroke="#000" stroke-width="3" />
<line x1="770.30" y1="1698.30" x2="1200.00" y2="1698.30" stroke="#000" stroke-width="3" />
<line x1="765.50" y1="1666.00" x2="771.80" y2="1666.00" stroke="#000" stroke-width="3" />
<text x="763.80" y="1674.10" font-size="22.2" text-anchor="end" fill="#000" stroke="#000" stroke-width="0.3" textLength="28.8" lengthAdjust="spacingAndGlyphs">1.0</text>
<line x1="765.50" y1="1584.25" x2="771.80" y2="1584.25" stroke="#000" stroke-width="3" />
<text x="763.80" y="1592.35" font-size="22.2" text-anchor="end" fill="#000" stroke="#000" stroke-width="0.3" textLength="28.8" lengthAdjust="spacingAndGlyphs">1.5</text>
<line x1="765.50" y1="1502.50" x2="771.80" y2="1502.50" stroke="#000" stroke-width="3" />
<text x="763.80" y="1510.60" font-size="22.2" text-anchor="end" fill="#000" stroke="#000" stroke-width="0.3" textLength="28.8" lengthAdjust="spacingAndGlyphs">2.0</text>
<line x1="765.50" y1="1420.75" x2="771.80" y2="1420.75" stroke="#000" stroke-width="3" />
<text x="763.80" y="1428.85" font-size="22.2" text-anchor="end" fill="#000" stroke="#000" stroke-width="0.3" textLength="28.8" lengthAdjust="spacingAndGlyphs">2.5</text>
<line x1="765.50" y1="1339.00" x2="771.80" y2="1339.00" stroke="#000" stroke-width="3" />
<text x="763.80" y="1347.10" font-size="22.2" text-anchor="end" fill="#000" stroke="#000" stroke-width="0.3" textLength="28.8" lengthAdjust="spacingAndGlyphs">3.0</text>
<line x1="765.50" y1="1257.25" x2="771.80" y2="1257.25" stroke="#000" stroke-width="3" />
<text x="763.80" y="1265.35" font-size="22.2" text-anchor="end" fill="#000" stroke="#000" stroke-width="0.3" textLength="28.8" lengthAdjust="spacingAndGlyphs">3.5</text>
<line x1="771.50" y1="1698.30" x2="771.50" y2="1707.30" stroke="#000" stroke-width="3" />
<line x1="798.89" y1="1698.30" x2="798.89" y2="1704.70" stroke="#000" stroke-width="3" />
<line x1="814.92" y1="1698.30" x2="814.92" y2="1704.70" stroke="#000" stroke-width="3" />
<line x1="826.29" y1="1698.30" x2="826.29" y2="1704.70" stroke="#000" stroke-width="3" />
<line x1="835.11" y1="1698.30" x2="835.11" y2="1704.70" stroke="#000" stroke-width="3" />
<line x1="842.31" y1="1698.30" x2="842.31" y2="1704.70" stroke="#000" stroke-width="3" />
<line x1="848.40" y1="1698.30" x2="848.40" y2="1704.70" stroke="#000" stroke-width="3" />
<line x1="853.68" y1="1698.30" x2="853.68" y2="1704.70" stroke="#000" stroke-width="3" />
<line x1="858.34" y1="1698.30" x2="858.34" y2="1704.70" stroke="#000" stroke-width="3" />
<line x1="862.50" y1="1698.30" x2="862.50" y2="1707.30" stroke="#000" stroke-width="3" />
<line x1="889.89" y1="1698.30" x2="889.89" y2="1704.70" stroke="#000" stroke-width="3" />
<line x1="905.92" y1="1698.30" x2="905.92" y2="1704.70" stroke="#000" stroke-width="3" />
<line x1="917.29" y1="1698.30" x2="917.29" y2="1704.70" stroke="#000" stroke-width="3" />
<line x1="926.11" y1="1698.30" x2="926.11" y2="1704.70" stroke="#000" stroke-width="3" />
<line x1="933.31" y1="1698.30" x2="933.31" y2="1704.70" stroke="#000" stroke-width="3" />
<line x1="939.40" y1="1698.30" x2="939.40" y2="1704.70" stroke="#000" stroke-width="3" />
<line x1="944.68" y1="1698.30" x2="944.68" y2="1704.70" stroke="#000" stroke-width="3" />
<line x1="949.34" y1="1698.30" x2="949.34" y2="1704.70" stroke="#000" stroke-width="3" />
<line x1="953.50" y1="1698.30" x2="953.50" y2="1707.30" stroke="#000" stroke-width="3" />
<line x1="980.89" y1="1698.30" x2="980.89" y2="1704.70" stroke="#000" stroke-width="3" />
<line x1="996.92" y1="1698.30" x2="996.92" y2="1704.70" stroke="#000" stroke-width="3" />
<line x1="1008.29" y1="1698.30" x2="1008.29" y2="1704.70" stroke="#000" stroke-width="3" />
<line x1="1017.11" y1="1698.30" x2="1017.11" y2="1704.70" stroke="#000" stroke-width="3" />
<line x1="1024.31" y1="1698.30" x2="1024.31" y2="1704.70" stroke="#000" stroke-width="3" />
<line x1="1030.40" y1="1698.30" x2="1030.40" y2="1704.70" stroke="#000" stroke-width="3" />
<line x1="1035.68" y1="1698.30" x2="1035.68" y2="1704.70" stroke="#000" stroke-width="3" />
<line x1="1040.34" y1="1698.30" x2="1040.34" y2="1704.70" stroke="#000" stroke-width="3" />
<line x1="1044.50" y1="1698.30" x2="1044.50" y2="1707.30" stroke="#000" stroke-width="3" />
<line x1="1071.89" y1="1698.30" x2="1071.89" y2="1704.70" stroke="#000" stroke-width="3" />
<line x1="1087.92" y1="1698.30" x2="1087.92" y2="1704.70" stroke="#000" stroke-width="3" />
<line x1="1099.29" y1="1698.30" x2="1099.29" y2="1704.70" stroke="#000" stroke-width="3" />
<line x1="1108.11" y1="1698.30" x2="1108.11" y2="1704.70" stroke="#000" stroke-width="3" />
<line x1="1115.31" y1="1698.30" x2="1115.31" y2="1704.70" stroke="#000" stroke-width="3" />
<line x1="1121.40" y1="1698.30" x2="1121.40" y2="1704.70" stroke="#000" stroke-width="3" />
<line x1="1126.68" y1="1698.30" x2="1126.68" y2="1704.70" stroke="#000" stroke-width="3" />
<line x1="1131.34" y1="1698.30" x2="1131.34" y2="1704.70" stroke="#000" stroke-width="3" />
<line x1="1135.50" y1="1698.30" x2="1135.50" y2="1707.30" stroke="#000" stroke-width="3" />
<line x1="1162.89" y1="1698.30" x2="1162.89" y2="1704.70" stroke="#000" stroke-width="3" />
<line x1="1178.92" y1="1698.30" x2="1178.92" y2="1704.70" stroke="#000" stroke-width="3" />
<line x1="1190.29" y1="1698.30" x2="1190.29" y2="1704.70" stroke="#000" stroke-width="3" />
<line x1="1199.11" y1="1698.30" x2="1199.11" y2="1704.70" stroke="#000" stroke-width="3" />
<text x="771.50" y="1727.50" font-size="21" text-anchor="middle" fill="#000" stroke="#000" stroke-width="0.3" >10</text>
<text x="862.50" y="1727.50" font-size="21" text-anchor="middle" fill="#000" stroke="#000" stroke-width="0.3" >100</text>
<text x="953.50" y="1727.50" font-size="21" text-anchor="middle" fill="#000" stroke="#000" stroke-width="0.3" >1000</text>
<text x="1044.50" y="1727.50" font-size="21" text-anchor="middle" fill="#000" stroke="#000" stroke-width="0.3" >10000</text>
<text x="1135.50" y="1727.50" font-size="21" text-anchor="middle" fill="#000" stroke="#000" stroke-width="0.3" >100000</text>
<text x="1018.75" y="1757.00" font-size="21.4" text-anchor="middle" fill="#000" stroke="#000" stroke-width="0.3" >Compound concentration (nM)</text>
<text x="716" y="1678.8" font-size="23" textLength="424.5" lengthAdjust="spacingAndGlyphs" transform="rotate(-90 716 1678.8)">Fold increase neurite length (relative to VCR)</text>
<line x1="786.00" y1="1264.50" x2="804.50" y2="1264.50" stroke="#ff7800" stroke-width="4.5" stroke-linecap="round"/>
<path d="M791.70,1261.35 L798.70,1261.35 L795.20,1267.65 Z" fill="#ff9010" stroke="none" stroke-width="0" stroke-linejoin="miter"/>
<text x="813.6" y="1271.90" font-size="21.3" xml:space="preserve">VCR+SIN-1 Chloride</text>
<line x1="786.00" y1="1287.07" x2="804.50" y2="1287.07" stroke="#1fcc1f" stroke-width="4.5" stroke-linecap="round"/>
<path d="M791.70,1289.72 L798.70,1289.72 L795.20,1283.42 Z" fill="#1fcc1f"/>
<text x="813.6" y="1294.47" font-size="21.3" xml:space="preserve">VCR+Ruthenium Red</text>
<line x1="786.00" y1="1309.64" x2="804.50" y2="1309.64" stroke="#ff2a0a" stroke-width="4.5" stroke-linecap="round"/>
<rect x="791.70" y="1306.14" width="7" height="7" fill="#ff2a0a"/>
<text x="813.6" y="1317.04" font-size="21.3" xml:space="preserve"> VCR+PD407824</text>
<line x1="786.00" y1="1332.21" x2="804.50" y2="1332.21" stroke="#1a3cff" stroke-width="4.5" stroke-linecap="round"/>
<circle cx="795.20" cy="1332.21" r="3.8" fill="#1a3cff" stroke="none" stroke-width="0"/>
<text x="813.6" y="1339.61" font-size="21.3" xml:space="preserve">VCR+SB239063</text>
<line x1="786.00" y1="1354.78" x2="804.50" y2="1354.78" stroke="#8a1f9a" stroke-width="4.5" stroke-linecap="round"/>
<path d="M791.70,1351.63 L798.70,1351.63 L795.20,1357.93 Z" fill="#fff" stroke="#000" stroke-width="1.6" stroke-linejoin="miter"/>
<text x="813.6" y="1362.18" font-size="21.3" xml:space="preserve">VCR+Anisomycin</text>
<line x1="786.00" y1="1377.35" x2="804.50" y2="1377.35" stroke="#c8c400" stroke-width="4.5" stroke-linecap="round"/>
<line x1="791.70" y1="1377.35" x2="798.70" y2="1377.35" stroke="#000" stroke-width="1.8" />
<line x1="792.73" y1="1374.88" x2="797.67" y2="1379.82" stroke="#000" stroke-width="1.8" />
<line x1="795.20" y1="1373.85" x2="795.20" y2="1380.85" stroke="#000" stroke-width="1.8" />
<line x1="797.67" y1="1374.88" x2="792.73" y2="1379.82" stroke="#000" stroke-width="1.8" />
<text x="813.6" y="1384.75" font-size="21.3" xml:space="preserve">VCR+Paclitaxel</text>
<line x1="786.00" y1="1399.92" x2="804.50" y2="1399.92" stroke="#a276b6" stroke-width="4.5" stroke-linecap="round"/>
<line x1="791.20" y1="1399.92" x2="799.20" y2="1399.92" stroke="#000" stroke-width="1.8" />
<line x1="795.20" y1="1395.92" x2="795.20" y2="1403.92" stroke="#000" stroke-width="1.8" />
<text x="813.6" y="1407.32" font-size="21.3" xml:space="preserve">VCR+PD161570</text>
</g>
</svg></body></html>
